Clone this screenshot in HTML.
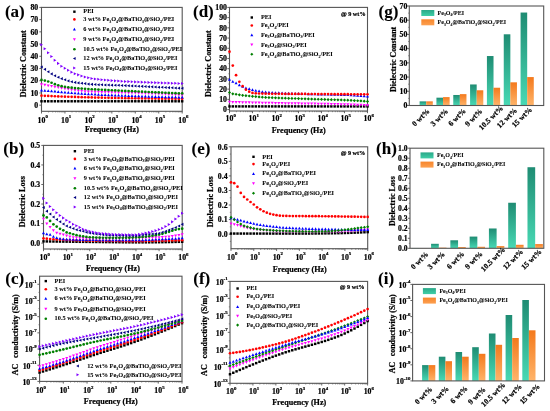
<!DOCTYPE html>
<html><head><meta charset="utf-8"><style>
html,body{margin:0;padding:0;background:#fff;width:550px;height:411px;overflow:hidden}
svg{display:block;will-change:transform}
text{font-family:"Liberation Serif",serif;font-weight:bold;fill:#000;stroke:#000;stroke-width:0.22px;stroke-linejoin:round}
.lg,.bg{stroke-width:0.06px}
.pl{stroke-width:0.1px}
</style></head><body><svg width="550" height="411" viewBox="0 0 550 411" font-family="Liberation Serif" font-weight="bold"><rect width="550" height="411" fill="#ffffff"/><rect x="41.50" y="7.40" width="140.70" height="103.90" fill="none" stroke="#555555" stroke-width="1.1"/>
<line x1="39.30" y1="105.19" x2="41.50" y2="105.19" stroke="#555555" stroke-width="0.9"/>
<text x="38.20" y="107.89" font-size="7.8" text-anchor="end" class="ytl">0</text>
<line x1="39.30" y1="92.96" x2="41.50" y2="92.96" stroke="#555555" stroke-width="0.9"/>
<text x="38.20" y="95.66" font-size="7.8" text-anchor="end" class="ytl">10</text>
<line x1="39.30" y1="80.74" x2="41.50" y2="80.74" stroke="#555555" stroke-width="0.9"/>
<text x="38.20" y="83.44" font-size="7.8" text-anchor="end" class="ytl">20</text>
<line x1="39.30" y1="68.52" x2="41.50" y2="68.52" stroke="#555555" stroke-width="0.9"/>
<text x="38.20" y="71.22" font-size="7.8" text-anchor="end" class="ytl">30</text>
<line x1="39.30" y1="56.29" x2="41.50" y2="56.29" stroke="#555555" stroke-width="0.9"/>
<text x="38.20" y="58.99" font-size="7.8" text-anchor="end" class="ytl">40</text>
<line x1="39.30" y1="44.07" x2="41.50" y2="44.07" stroke="#555555" stroke-width="0.9"/>
<text x="38.20" y="46.77" font-size="7.8" text-anchor="end" class="ytl">50</text>
<line x1="39.30" y1="31.85" x2="41.50" y2="31.85" stroke="#555555" stroke-width="0.9"/>
<text x="38.20" y="34.55" font-size="7.8" text-anchor="end" class="ytl">60</text>
<line x1="39.30" y1="19.62" x2="41.50" y2="19.62" stroke="#555555" stroke-width="0.9"/>
<text x="38.20" y="22.32" font-size="7.8" text-anchor="end" class="ytl">70</text>
<line x1="39.30" y1="7.40" x2="41.50" y2="7.40" stroke="#555555" stroke-width="0.9"/>
<text x="38.20" y="10.10" font-size="7.8" text-anchor="end" class="ytl">80</text>
<line x1="41.50" y1="111.30" x2="41.50" y2="113.50" stroke="#555555" stroke-width="0.9"/>
<text x="37.60" y="122.60" font-size="7.8" text-anchor="start" class="xtl">10<tspan font-size="4.80" dy="-4.29">0</tspan></text>
<line x1="48.56" y1="111.30" x2="48.56" y2="112.50" stroke="#555555" stroke-width="0.6"/>
<line x1="52.69" y1="111.30" x2="52.69" y2="112.50" stroke="#555555" stroke-width="0.6"/>
<line x1="55.62" y1="111.30" x2="55.62" y2="112.50" stroke="#555555" stroke-width="0.6"/>
<line x1="57.89" y1="111.30" x2="57.89" y2="112.50" stroke="#555555" stroke-width="0.6"/>
<line x1="59.75" y1="111.30" x2="59.75" y2="112.50" stroke="#555555" stroke-width="0.6"/>
<line x1="61.32" y1="111.30" x2="61.32" y2="112.50" stroke="#555555" stroke-width="0.6"/>
<line x1="62.68" y1="111.30" x2="62.68" y2="112.50" stroke="#555555" stroke-width="0.6"/>
<line x1="63.88" y1="111.30" x2="63.88" y2="112.50" stroke="#555555" stroke-width="0.6"/>
<line x1="64.95" y1="111.30" x2="64.95" y2="113.50" stroke="#555555" stroke-width="0.9"/>
<text x="61.05" y="122.60" font-size="7.8" text-anchor="start" class="xtl">10<tspan font-size="4.80" dy="-4.29">1</tspan></text>
<line x1="72.01" y1="111.30" x2="72.01" y2="112.50" stroke="#555555" stroke-width="0.6"/>
<line x1="76.14" y1="111.30" x2="76.14" y2="112.50" stroke="#555555" stroke-width="0.6"/>
<line x1="79.07" y1="111.30" x2="79.07" y2="112.50" stroke="#555555" stroke-width="0.6"/>
<line x1="81.34" y1="111.30" x2="81.34" y2="112.50" stroke="#555555" stroke-width="0.6"/>
<line x1="83.20" y1="111.30" x2="83.20" y2="112.50" stroke="#555555" stroke-width="0.6"/>
<line x1="84.77" y1="111.30" x2="84.77" y2="112.50" stroke="#555555" stroke-width="0.6"/>
<line x1="86.13" y1="111.30" x2="86.13" y2="112.50" stroke="#555555" stroke-width="0.6"/>
<line x1="87.33" y1="111.30" x2="87.33" y2="112.50" stroke="#555555" stroke-width="0.6"/>
<line x1="88.40" y1="111.30" x2="88.40" y2="113.50" stroke="#555555" stroke-width="0.9"/>
<text x="84.50" y="122.60" font-size="7.8" text-anchor="start" class="xtl">10<tspan font-size="4.80" dy="-4.29">2</tspan></text>
<line x1="95.46" y1="111.30" x2="95.46" y2="112.50" stroke="#555555" stroke-width="0.6"/>
<line x1="99.59" y1="111.30" x2="99.59" y2="112.50" stroke="#555555" stroke-width="0.6"/>
<line x1="102.52" y1="111.30" x2="102.52" y2="112.50" stroke="#555555" stroke-width="0.6"/>
<line x1="104.79" y1="111.30" x2="104.79" y2="112.50" stroke="#555555" stroke-width="0.6"/>
<line x1="106.65" y1="111.30" x2="106.65" y2="112.50" stroke="#555555" stroke-width="0.6"/>
<line x1="108.22" y1="111.30" x2="108.22" y2="112.50" stroke="#555555" stroke-width="0.6"/>
<line x1="109.58" y1="111.30" x2="109.58" y2="112.50" stroke="#555555" stroke-width="0.6"/>
<line x1="110.78" y1="111.30" x2="110.78" y2="112.50" stroke="#555555" stroke-width="0.6"/>
<line x1="111.85" y1="111.30" x2="111.85" y2="113.50" stroke="#555555" stroke-width="0.9"/>
<text x="107.95" y="122.60" font-size="7.8" text-anchor="start" class="xtl">10<tspan font-size="4.80" dy="-4.29">3</tspan></text>
<line x1="118.91" y1="111.30" x2="118.91" y2="112.50" stroke="#555555" stroke-width="0.6"/>
<line x1="123.04" y1="111.30" x2="123.04" y2="112.50" stroke="#555555" stroke-width="0.6"/>
<line x1="125.97" y1="111.30" x2="125.97" y2="112.50" stroke="#555555" stroke-width="0.6"/>
<line x1="128.24" y1="111.30" x2="128.24" y2="112.50" stroke="#555555" stroke-width="0.6"/>
<line x1="130.10" y1="111.30" x2="130.10" y2="112.50" stroke="#555555" stroke-width="0.6"/>
<line x1="131.67" y1="111.30" x2="131.67" y2="112.50" stroke="#555555" stroke-width="0.6"/>
<line x1="133.03" y1="111.30" x2="133.03" y2="112.50" stroke="#555555" stroke-width="0.6"/>
<line x1="134.23" y1="111.30" x2="134.23" y2="112.50" stroke="#555555" stroke-width="0.6"/>
<line x1="135.30" y1="111.30" x2="135.30" y2="113.50" stroke="#555555" stroke-width="0.9"/>
<text x="131.40" y="122.60" font-size="7.8" text-anchor="start" class="xtl">10<tspan font-size="4.80" dy="-4.29">4</tspan></text>
<line x1="142.36" y1="111.30" x2="142.36" y2="112.50" stroke="#555555" stroke-width="0.6"/>
<line x1="146.49" y1="111.30" x2="146.49" y2="112.50" stroke="#555555" stroke-width="0.6"/>
<line x1="149.42" y1="111.30" x2="149.42" y2="112.50" stroke="#555555" stroke-width="0.6"/>
<line x1="151.69" y1="111.30" x2="151.69" y2="112.50" stroke="#555555" stroke-width="0.6"/>
<line x1="153.55" y1="111.30" x2="153.55" y2="112.50" stroke="#555555" stroke-width="0.6"/>
<line x1="155.12" y1="111.30" x2="155.12" y2="112.50" stroke="#555555" stroke-width="0.6"/>
<line x1="156.48" y1="111.30" x2="156.48" y2="112.50" stroke="#555555" stroke-width="0.6"/>
<line x1="157.68" y1="111.30" x2="157.68" y2="112.50" stroke="#555555" stroke-width="0.6"/>
<line x1="158.75" y1="111.30" x2="158.75" y2="113.50" stroke="#555555" stroke-width="0.9"/>
<text x="154.85" y="122.60" font-size="7.8" text-anchor="start" class="xtl">10<tspan font-size="4.80" dy="-4.29">5</tspan></text>
<line x1="165.81" y1="111.30" x2="165.81" y2="112.50" stroke="#555555" stroke-width="0.6"/>
<line x1="169.94" y1="111.30" x2="169.94" y2="112.50" stroke="#555555" stroke-width="0.6"/>
<line x1="172.87" y1="111.30" x2="172.87" y2="112.50" stroke="#555555" stroke-width="0.6"/>
<line x1="175.14" y1="111.30" x2="175.14" y2="112.50" stroke="#555555" stroke-width="0.6"/>
<line x1="177.00" y1="111.30" x2="177.00" y2="112.50" stroke="#555555" stroke-width="0.6"/>
<line x1="178.57" y1="111.30" x2="178.57" y2="112.50" stroke="#555555" stroke-width="0.6"/>
<line x1="179.93" y1="111.30" x2="179.93" y2="112.50" stroke="#555555" stroke-width="0.6"/>
<line x1="181.13" y1="111.30" x2="181.13" y2="112.50" stroke="#555555" stroke-width="0.6"/>
<line x1="182.20" y1="111.30" x2="182.20" y2="113.50" stroke="#555555" stroke-width="0.9"/>
<text x="178.30" y="122.60" font-size="7.8" text-anchor="start" class="xtl">10<tspan font-size="4.80" dy="-4.29">6</tspan></text>
<text x="25.70" y="63.80" font-size="8.1" text-anchor="middle" transform="rotate(-90 25.70 63.80)" class="yt">Dielectric Constant</text>
<text x="111.90" y="132.40" font-size="8.1" text-anchor="middle" class="xt">Frequency (Hz)</text>
<text x="14.80" y="16.85" font-size="17" text-anchor="middle" class="pl">(a)</text>
<rect x="40.27" y="100.05" width="2.45" height="2.45" fill="#000000"/><rect x="43.62" y="100.05" width="2.45" height="2.45" fill="#000000"/><rect x="46.98" y="100.05" width="2.45" height="2.45" fill="#000000"/><rect x="50.32" y="100.05" width="2.45" height="2.45" fill="#000000"/><rect x="53.67" y="100.05" width="2.45" height="2.45" fill="#000000"/><rect x="57.02" y="100.05" width="2.45" height="2.45" fill="#000000"/><rect x="60.37" y="100.05" width="2.45" height="2.45" fill="#000000"/><rect x="63.73" y="100.05" width="2.45" height="2.45" fill="#000000"/><rect x="67.08" y="100.05" width="2.45" height="2.45" fill="#000000"/><rect x="70.42" y="100.05" width="2.45" height="2.45" fill="#000000"/><rect x="73.78" y="100.05" width="2.45" height="2.45" fill="#000000"/><rect x="77.12" y="100.05" width="2.45" height="2.45" fill="#000000"/><rect x="80.47" y="100.05" width="2.45" height="2.45" fill="#000000"/><rect x="83.82" y="100.05" width="2.45" height="2.45" fill="#000000"/><rect x="87.18" y="100.05" width="2.45" height="2.45" fill="#000000"/><rect x="90.53" y="100.05" width="2.45" height="2.45" fill="#000000"/><rect x="93.88" y="100.05" width="2.45" height="2.45" fill="#000000"/><rect x="97.22" y="100.05" width="2.45" height="2.45" fill="#000000"/><rect x="100.57" y="100.05" width="2.45" height="2.45" fill="#000000"/><rect x="103.92" y="100.05" width="2.45" height="2.45" fill="#000000"/><rect x="107.27" y="100.05" width="2.45" height="2.45" fill="#000000"/><rect x="110.62" y="100.05" width="2.45" height="2.45" fill="#000000"/><rect x="113.97" y="100.05" width="2.45" height="2.45" fill="#000000"/><rect x="117.33" y="100.05" width="2.45" height="2.45" fill="#000000"/><rect x="120.67" y="100.05" width="2.45" height="2.45" fill="#000000"/><rect x="124.02" y="100.05" width="2.45" height="2.45" fill="#000000"/><rect x="127.37" y="100.05" width="2.45" height="2.45" fill="#000000"/><rect x="130.72" y="100.05" width="2.45" height="2.45" fill="#000000"/><rect x="134.08" y="100.05" width="2.45" height="2.45" fill="#000000"/><rect x="137.42" y="100.05" width="2.45" height="2.45" fill="#000000"/><rect x="140.78" y="100.05" width="2.45" height="2.45" fill="#000000"/><rect x="144.12" y="100.05" width="2.45" height="2.45" fill="#000000"/><rect x="147.47" y="100.05" width="2.45" height="2.45" fill="#000000"/><rect x="150.83" y="100.05" width="2.45" height="2.45" fill="#000000"/><rect x="154.17" y="100.05" width="2.45" height="2.45" fill="#000000"/><rect x="157.53" y="100.05" width="2.45" height="2.45" fill="#000000"/><rect x="160.87" y="100.05" width="2.45" height="2.45" fill="#000000"/><rect x="164.22" y="100.05" width="2.45" height="2.45" fill="#000000"/><rect x="167.57" y="100.05" width="2.45" height="2.45" fill="#000000"/><rect x="170.92" y="100.05" width="2.45" height="2.45" fill="#000000"/><rect x="174.27" y="100.05" width="2.45" height="2.45" fill="#000000"/><rect x="177.62" y="100.05" width="2.45" height="2.45" fill="#000000"/><rect x="180.97" y="100.05" width="2.45" height="2.45" fill="#000000"/>
<circle cx="41.50" cy="95.65" r="1.35" fill="#ff0000"/><circle cx="44.85" cy="95.81" r="1.35" fill="#ff0000"/><circle cx="48.20" cy="95.96" r="1.35" fill="#ff0000"/><circle cx="51.55" cy="96.11" r="1.35" fill="#ff0000"/><circle cx="54.90" cy="96.25" r="1.35" fill="#ff0000"/><circle cx="58.25" cy="96.39" r="1.35" fill="#ff0000"/><circle cx="61.60" cy="96.51" r="1.35" fill="#ff0000"/><circle cx="64.95" cy="96.63" r="1.35" fill="#ff0000"/><circle cx="68.30" cy="96.74" r="1.35" fill="#ff0000"/><circle cx="71.65" cy="96.85" r="1.35" fill="#ff0000"/><circle cx="75.00" cy="96.96" r="1.35" fill="#ff0000"/><circle cx="78.35" cy="97.06" r="1.35" fill="#ff0000"/><circle cx="81.70" cy="97.16" r="1.35" fill="#ff0000"/><circle cx="85.05" cy="97.26" r="1.35" fill="#ff0000"/><circle cx="88.40" cy="97.35" r="1.35" fill="#ff0000"/><circle cx="91.75" cy="97.44" r="1.35" fill="#ff0000"/><circle cx="95.10" cy="97.53" r="1.35" fill="#ff0000"/><circle cx="98.45" cy="97.61" r="1.35" fill="#ff0000"/><circle cx="101.80" cy="97.69" r="1.35" fill="#ff0000"/><circle cx="105.15" cy="97.76" r="1.35" fill="#ff0000"/><circle cx="108.50" cy="97.83" r="1.35" fill="#ff0000"/><circle cx="111.85" cy="97.89" r="1.35" fill="#ff0000"/><circle cx="115.20" cy="97.95" r="1.35" fill="#ff0000"/><circle cx="118.55" cy="98.01" r="1.35" fill="#ff0000"/><circle cx="121.90" cy="98.07" r="1.35" fill="#ff0000"/><circle cx="125.25" cy="98.13" r="1.35" fill="#ff0000"/><circle cx="128.60" cy="98.19" r="1.35" fill="#ff0000"/><circle cx="131.95" cy="98.24" r="1.35" fill="#ff0000"/><circle cx="135.30" cy="98.30" r="1.35" fill="#ff0000"/><circle cx="138.65" cy="98.35" r="1.35" fill="#ff0000"/><circle cx="142.00" cy="98.40" r="1.35" fill="#ff0000"/><circle cx="145.35" cy="98.45" r="1.35" fill="#ff0000"/><circle cx="148.70" cy="98.50" r="1.35" fill="#ff0000"/><circle cx="152.05" cy="98.55" r="1.35" fill="#ff0000"/><circle cx="155.40" cy="98.59" r="1.35" fill="#ff0000"/><circle cx="158.75" cy="98.63" r="1.35" fill="#ff0000"/><circle cx="162.10" cy="98.67" r="1.35" fill="#ff0000"/><circle cx="165.45" cy="98.70" r="1.35" fill="#ff0000"/><circle cx="168.80" cy="98.74" r="1.35" fill="#ff0000"/><circle cx="172.15" cy="98.76" r="1.35" fill="#ff0000"/><circle cx="175.50" cy="98.79" r="1.35" fill="#ff0000"/><circle cx="178.85" cy="98.81" r="1.35" fill="#ff0000"/><circle cx="182.20" cy="98.83" r="1.35" fill="#ff0000"/>
<path d="M41.50 88.62L43.03 91.38L39.97 91.38Z" fill="#0000ff"/><path d="M44.85 88.94L46.38 91.70L43.32 91.70Z" fill="#0000ff"/><path d="M48.20 89.25L49.73 92.01L46.67 92.01Z" fill="#0000ff"/><path d="M51.55 89.56L53.08 92.32L50.02 92.32Z" fill="#0000ff"/><path d="M54.90 89.86L56.43 92.61L53.37 92.61Z" fill="#0000ff"/><path d="M58.25 90.15L59.78 92.90L56.72 92.90Z" fill="#0000ff"/><path d="M61.60 90.43L63.13 93.18L60.07 93.18Z" fill="#0000ff"/><path d="M64.95 90.70L66.48 93.46L63.42 93.46Z" fill="#0000ff"/><path d="M68.30 90.97L69.83 93.72L66.77 93.72Z" fill="#0000ff"/><path d="M71.65 91.23L73.18 93.99L70.12 93.99Z" fill="#0000ff"/><path d="M75.00 91.49L76.53 94.25L73.47 94.25Z" fill="#0000ff"/><path d="M78.35 91.74L79.88 94.49L76.82 94.49Z" fill="#0000ff"/><path d="M81.70 91.98L83.23 94.73L80.17 94.73Z" fill="#0000ff"/><path d="M85.05 92.20L86.58 94.96L83.52 94.96Z" fill="#0000ff"/><path d="M88.40 92.41L89.93 95.17L86.87 95.17Z" fill="#0000ff"/><path d="M91.75 92.61L93.28 95.36L90.22 95.36Z" fill="#0000ff"/><path d="M95.10 92.80L96.63 95.55L93.57 95.55Z" fill="#0000ff"/><path d="M98.45 92.98L99.98 95.73L96.92 95.73Z" fill="#0000ff"/><path d="M101.80 93.15L103.33 95.90L100.27 95.90Z" fill="#0000ff"/><path d="M105.15 93.31L106.68 96.06L103.62 96.06Z" fill="#0000ff"/><path d="M108.50 93.45L110.03 96.21L106.97 96.21Z" fill="#0000ff"/><path d="M111.85 93.59L113.38 96.34L110.32 96.34Z" fill="#0000ff"/><path d="M115.20 93.72L116.73 96.48L113.67 96.48Z" fill="#0000ff"/><path d="M118.55 93.85L120.08 96.61L117.02 96.61Z" fill="#0000ff"/><path d="M121.90 93.98L123.43 96.74L120.37 96.74Z" fill="#0000ff"/><path d="M125.25 94.11L126.78 96.86L123.72 96.86Z" fill="#0000ff"/><path d="M128.60 94.23L130.13 96.99L127.07 96.99Z" fill="#0000ff"/><path d="M131.95 94.36L133.48 97.11L130.42 97.11Z" fill="#0000ff"/><path d="M135.30 94.48L136.83 97.23L133.77 97.23Z" fill="#0000ff"/><path d="M138.65 94.59L140.18 97.35L137.12 97.35Z" fill="#0000ff"/><path d="M142.00 94.71L143.53 97.46L140.47 97.46Z" fill="#0000ff"/><path d="M145.35 94.82L146.88 97.57L143.82 97.57Z" fill="#0000ff"/><path d="M148.70 94.92L150.23 97.68L147.17 97.68Z" fill="#0000ff"/><path d="M152.05 95.02L153.58 97.78L150.52 97.78Z" fill="#0000ff"/><path d="M155.40 95.12L156.93 97.88L153.87 97.88Z" fill="#0000ff"/><path d="M158.75 95.22L160.28 97.97L157.22 97.97Z" fill="#0000ff"/><path d="M162.10 95.30L163.63 98.06L160.57 98.06Z" fill="#0000ff"/><path d="M165.45 95.39L166.98 98.14L163.92 98.14Z" fill="#0000ff"/><path d="M168.80 95.46L170.33 98.22L167.27 98.22Z" fill="#0000ff"/><path d="M172.15 95.53L173.68 98.29L170.62 98.29Z" fill="#0000ff"/><path d="M175.50 95.60L177.03 98.36L173.97 98.36Z" fill="#0000ff"/><path d="M178.85 95.66L180.38 98.42L177.32 98.42Z" fill="#0000ff"/><path d="M182.20 95.71L183.73 98.47L180.67 98.47Z" fill="#0000ff"/>
<path d="M41.50 85.94L43.03 83.18L39.97 83.18Z" fill="#ff00ff"/><path d="M44.85 86.58L46.38 83.82L43.32 83.82Z" fill="#ff00ff"/><path d="M48.20 87.21L49.73 84.46L46.67 84.46Z" fill="#ff00ff"/><path d="M51.55 87.83L53.08 85.08L50.02 85.08Z" fill="#ff00ff"/><path d="M54.90 88.45L56.43 85.69L53.37 85.69Z" fill="#ff00ff"/><path d="M58.25 89.07L59.78 86.32L56.72 86.32Z" fill="#ff00ff"/><path d="M61.60 89.67L63.13 86.92L60.07 86.92Z" fill="#ff00ff"/><path d="M64.95 90.22L66.48 87.46L63.42 87.46Z" fill="#ff00ff"/><path d="M68.30 90.73L69.83 87.97L66.77 87.97Z" fill="#ff00ff"/><path d="M71.65 91.24L73.18 88.48L70.12 88.48Z" fill="#ff00ff"/><path d="M75.00 91.73L76.53 88.98L73.47 88.98Z" fill="#ff00ff"/><path d="M78.35 92.19L79.88 89.43L76.82 89.43Z" fill="#ff00ff"/><path d="M81.70 92.59L83.23 89.84L80.17 89.84Z" fill="#ff00ff"/><path d="M85.05 92.92L86.58 90.16L83.52 90.16Z" fill="#ff00ff"/><path d="M88.40 93.15L89.93 90.40L86.87 90.40Z" fill="#ff00ff"/><path d="M91.75 93.31L93.28 90.56L90.22 90.56Z" fill="#ff00ff"/><path d="M95.10 93.44L96.63 90.69L93.57 90.69Z" fill="#ff00ff"/><path d="M98.45 93.55L99.98 90.80L96.92 90.80Z" fill="#ff00ff"/><path d="M101.80 93.65L103.33 90.89L100.27 90.89Z" fill="#ff00ff"/><path d="M105.15 93.74L106.68 90.99L103.62 90.99Z" fill="#ff00ff"/><path d="M108.50 93.84L110.03 91.08L106.97 91.08Z" fill="#ff00ff"/><path d="M111.85 93.94L113.38 91.19L110.32 91.19Z" fill="#ff00ff"/><path d="M115.20 94.04L116.73 91.29L113.67 91.29Z" fill="#ff00ff"/><path d="M118.55 94.14L120.08 91.38L117.02 91.38Z" fill="#ff00ff"/><path d="M121.90 94.23L123.43 91.48L120.37 91.48Z" fill="#ff00ff"/><path d="M125.25 94.33L126.78 91.57L123.72 91.57Z" fill="#ff00ff"/><path d="M128.60 94.42L130.13 91.66L127.07 91.66Z" fill="#ff00ff"/><path d="M131.95 94.51L133.48 91.76L130.42 91.76Z" fill="#ff00ff"/><path d="M135.30 94.61L136.83 91.85L133.77 91.85Z" fill="#ff00ff"/><path d="M138.65 94.71L140.18 91.95L137.12 91.95Z" fill="#ff00ff"/><path d="M142.00 94.81L143.53 92.06L140.47 92.06Z" fill="#ff00ff"/><path d="M145.35 94.93L146.88 92.17L143.82 92.17Z" fill="#ff00ff"/><path d="M148.70 95.05L150.23 92.29L147.17 92.29Z" fill="#ff00ff"/><path d="M152.05 95.17L153.58 92.42L150.52 92.42Z" fill="#ff00ff"/><path d="M155.40 95.31L156.93 92.55L153.87 92.55Z" fill="#ff00ff"/><path d="M158.75 95.45L160.28 92.69L157.22 92.69Z" fill="#ff00ff"/><path d="M162.10 95.59L163.63 92.84L160.57 92.84Z" fill="#ff00ff"/><path d="M165.45 95.74L166.98 92.99L163.92 92.99Z" fill="#ff00ff"/><path d="M168.80 95.90L170.33 93.14L167.27 93.14Z" fill="#ff00ff"/><path d="M172.15 96.06L173.68 93.31L170.62 93.31Z" fill="#ff00ff"/><path d="M175.50 96.23L177.03 93.47L173.97 93.47Z" fill="#ff00ff"/><path d="M178.85 96.40L180.38 93.64L177.32 93.64Z" fill="#ff00ff"/><path d="M182.20 96.57L183.73 93.82L180.67 93.82Z" fill="#ff00ff"/>
<circle cx="41.50" cy="79.89" r="1.35" fill="#008000"/><circle cx="44.85" cy="80.58" r="1.35" fill="#008000"/><circle cx="48.20" cy="81.50" r="1.35" fill="#008000"/><circle cx="51.55" cy="82.77" r="1.35" fill="#008000"/><circle cx="54.90" cy="84.18" r="1.35" fill="#008000"/><circle cx="58.25" cy="85.25" r="1.35" fill="#008000"/><circle cx="61.60" cy="86.18" r="1.35" fill="#008000"/><circle cx="64.95" cy="86.85" r="1.35" fill="#008000"/><circle cx="68.30" cy="87.31" r="1.35" fill="#008000"/><circle cx="71.65" cy="87.70" r="1.35" fill="#008000"/><circle cx="75.00" cy="88.04" r="1.35" fill="#008000"/><circle cx="78.35" cy="88.34" r="1.35" fill="#008000"/><circle cx="81.70" cy="88.59" r="1.35" fill="#008000"/><circle cx="85.05" cy="88.83" r="1.35" fill="#008000"/><circle cx="88.40" cy="89.05" r="1.35" fill="#008000"/><circle cx="91.75" cy="89.26" r="1.35" fill="#008000"/><circle cx="95.10" cy="89.45" r="1.35" fill="#008000"/><circle cx="98.45" cy="89.61" r="1.35" fill="#008000"/><circle cx="101.80" cy="89.77" r="1.35" fill="#008000"/><circle cx="105.15" cy="89.93" r="1.35" fill="#008000"/><circle cx="108.50" cy="90.08" r="1.35" fill="#008000"/><circle cx="111.85" cy="90.24" r="1.35" fill="#008000"/><circle cx="115.20" cy="90.41" r="1.35" fill="#008000"/><circle cx="118.55" cy="90.57" r="1.35" fill="#008000"/><circle cx="121.90" cy="90.73" r="1.35" fill="#008000"/><circle cx="125.25" cy="90.89" r="1.35" fill="#008000"/><circle cx="128.60" cy="91.05" r="1.35" fill="#008000"/><circle cx="131.95" cy="91.21" r="1.35" fill="#008000"/><circle cx="135.30" cy="91.37" r="1.35" fill="#008000"/><circle cx="138.65" cy="91.52" r="1.35" fill="#008000"/><circle cx="142.00" cy="91.68" r="1.35" fill="#008000"/><circle cx="145.35" cy="91.83" r="1.35" fill="#008000"/><circle cx="148.70" cy="91.99" r="1.35" fill="#008000"/><circle cx="152.05" cy="92.14" r="1.35" fill="#008000"/><circle cx="155.40" cy="92.29" r="1.35" fill="#008000"/><circle cx="158.75" cy="92.44" r="1.35" fill="#008000"/><circle cx="162.10" cy="92.59" r="1.35" fill="#008000"/><circle cx="165.45" cy="92.74" r="1.35" fill="#008000"/><circle cx="168.80" cy="92.88" r="1.35" fill="#008000"/><circle cx="172.15" cy="93.03" r="1.35" fill="#008000"/><circle cx="175.50" cy="93.17" r="1.35" fill="#008000"/><circle cx="178.85" cy="93.31" r="1.35" fill="#008000"/><circle cx="182.20" cy="93.45" r="1.35" fill="#008000"/>
<path d="M39.97 66.93L42.73 65.40L42.73 68.46Z" fill="#000080"/><path d="M43.32 69.37L46.08 67.84L46.08 70.90Z" fill="#000080"/><path d="M46.67 71.69L49.43 70.16L49.43 73.22Z" fill="#000080"/><path d="M50.02 73.89L52.77 72.36L52.77 75.42Z" fill="#000080"/><path d="M53.37 75.73L56.12 74.20L56.12 77.27Z" fill="#000080"/><path d="M56.72 77.33L59.48 75.80L59.48 78.87Z" fill="#000080"/><path d="M60.07 78.65L62.82 77.12L62.82 80.19Z" fill="#000080"/><path d="M63.42 79.81L66.17 78.28L66.17 81.34Z" fill="#000080"/><path d="M66.77 80.88L69.52 79.34L69.52 82.41Z" fill="#000080"/><path d="M70.12 81.77L72.87 80.24L72.87 83.30Z" fill="#000080"/><path d="M73.47 82.40L76.22 80.86L76.22 83.93Z" fill="#000080"/><path d="M76.82 82.88L79.57 81.35L79.57 84.42Z" fill="#000080"/><path d="M80.17 83.26L82.92 81.73L82.92 84.79Z" fill="#000080"/><path d="M83.52 83.61L86.27 82.08L86.27 85.14Z" fill="#000080"/><path d="M86.87 84.12L89.62 82.59L89.62 85.65Z" fill="#000080"/><path d="M90.22 84.36L92.97 82.83L92.97 85.89Z" fill="#000080"/><path d="M93.57 84.55L96.32 83.02L96.32 86.08Z" fill="#000080"/><path d="M96.92 84.71L99.67 83.18L99.67 86.24Z" fill="#000080"/><path d="M100.27 84.84L103.02 83.30L103.02 86.37Z" fill="#000080"/><path d="M103.62 84.95L106.37 83.41L106.37 86.48Z" fill="#000080"/><path d="M106.97 85.04L109.72 83.51L109.72 86.57Z" fill="#000080"/><path d="M110.32 85.14L113.07 83.60L113.07 86.67Z" fill="#000080"/><path d="M113.67 85.23L116.42 83.70L116.42 86.76Z" fill="#000080"/><path d="M117.02 85.34L119.77 83.81L119.77 86.87Z" fill="#000080"/><path d="M120.37 85.46L123.12 83.93L123.12 86.99Z" fill="#000080"/><path d="M123.72 85.60L126.47 84.07L126.47 87.13Z" fill="#000080"/><path d="M127.07 85.75L129.82 84.22L129.82 87.28Z" fill="#000080"/><path d="M130.42 85.90L133.17 84.37L133.17 87.43Z" fill="#000080"/><path d="M133.77 86.06L136.53 84.52L136.53 87.59Z" fill="#000080"/><path d="M137.12 86.21L139.87 84.68L139.87 87.74Z" fill="#000080"/><path d="M140.47 86.37L143.22 84.84L143.22 87.90Z" fill="#000080"/><path d="M143.82 86.53L146.57 85.00L146.57 88.06Z" fill="#000080"/><path d="M147.17 86.69L149.92 85.16L149.92 88.22Z" fill="#000080"/><path d="M150.52 86.85L153.28 85.32L153.28 88.38Z" fill="#000080"/><path d="M153.87 87.01L156.62 85.48L156.62 88.54Z" fill="#000080"/><path d="M157.22 87.17L159.97 85.64L159.97 88.70Z" fill="#000080"/><path d="M160.57 87.33L163.32 85.80L163.32 88.86Z" fill="#000080"/><path d="M163.92 87.49L166.67 85.96L166.67 89.02Z" fill="#000080"/><path d="M167.27 87.66L170.02 86.12L170.02 89.19Z" fill="#000080"/><path d="M170.62 87.82L173.37 86.29L173.37 89.35Z" fill="#000080"/><path d="M173.97 87.99L176.72 86.45L176.72 89.52Z" fill="#000080"/><path d="M177.32 88.15L180.07 86.62L180.07 89.68Z" fill="#000080"/><path d="M180.67 88.32L183.42 86.79L183.42 89.85Z" fill="#000080"/>
<path d="M43.03 44.68L40.27 43.15L40.27 46.21Z" fill="#8000ff"/><path d="M46.38 48.83L43.62 47.30L43.62 50.36Z" fill="#8000ff"/><path d="M49.73 52.74L46.98 51.21L46.98 54.27Z" fill="#8000ff"/><path d="M53.08 56.53L50.32 55.00L50.32 58.06Z" fill="#8000ff"/><path d="M56.43 60.22L53.67 58.68L53.67 61.75Z" fill="#8000ff"/><path d="M59.78 63.39L57.02 61.86L57.02 64.92Z" fill="#8000ff"/><path d="M63.13 66.20L60.37 64.67L60.37 67.73Z" fill="#8000ff"/><path d="M66.48 68.26L63.73 66.72L63.73 69.79Z" fill="#8000ff"/><path d="M69.83 70.24L67.08 68.71L67.08 71.77Z" fill="#8000ff"/><path d="M73.18 72.14L70.42 70.60L70.42 73.67Z" fill="#8000ff"/><path d="M76.53 73.70L73.78 72.17L73.78 75.23Z" fill="#8000ff"/><path d="M79.88 74.85L77.12 73.32L77.12 76.38Z" fill="#8000ff"/><path d="M83.23 75.98L80.47 74.44L80.47 77.51Z" fill="#8000ff"/><path d="M86.58 77.05L83.82 75.52L83.82 78.58Z" fill="#8000ff"/><path d="M89.93 77.84L87.18 76.31L87.18 79.37Z" fill="#8000ff"/><path d="M93.28 78.42L90.53 76.89L90.53 79.95Z" fill="#8000ff"/><path d="M96.63 78.91L93.88 77.38L93.88 80.44Z" fill="#8000ff"/><path d="M99.98 79.33L97.22 77.80L97.22 80.87Z" fill="#8000ff"/><path d="M103.33 79.69L100.57 78.16L100.57 81.22Z" fill="#8000ff"/><path d="M106.68 80.02L103.92 78.49L103.92 81.55Z" fill="#8000ff"/><path d="M110.03 80.32L107.27 78.79L107.27 81.85Z" fill="#8000ff"/><path d="M113.38 80.60L110.62 79.07L110.62 82.13Z" fill="#8000ff"/><path d="M116.73 80.85L113.97 79.32L113.97 82.39Z" fill="#8000ff"/><path d="M120.08 81.08L117.33 79.55L117.33 82.61Z" fill="#8000ff"/><path d="M123.43 81.29L120.67 79.75L120.67 82.82Z" fill="#8000ff"/><path d="M126.78 81.46L124.02 79.93L124.02 83.00Z" fill="#8000ff"/><path d="M130.13 81.62L127.37 80.09L127.37 83.15Z" fill="#8000ff"/><path d="M133.48 81.77L130.72 80.24L130.72 83.30Z" fill="#8000ff"/><path d="M136.83 81.90L134.08 80.37L134.08 83.43Z" fill="#8000ff"/><path d="M140.18 82.02L137.42 80.49L137.42 83.56Z" fill="#8000ff"/><path d="M143.53 82.15L140.78 80.61L140.78 83.68Z" fill="#8000ff"/><path d="M146.88 82.27L144.12 80.74L144.12 83.80Z" fill="#8000ff"/><path d="M150.23 82.39L147.47 80.86L147.47 83.92Z" fill="#8000ff"/><path d="M153.58 82.52L150.83 80.99L150.83 84.05Z" fill="#8000ff"/><path d="M156.93 82.64L154.17 81.11L154.17 84.17Z" fill="#8000ff"/><path d="M160.28 82.76L157.53 81.23L157.53 84.29Z" fill="#8000ff"/><path d="M163.63 82.88L160.87 81.35L160.87 84.41Z" fill="#8000ff"/><path d="M166.98 83.00L164.22 81.47L164.22 84.53Z" fill="#8000ff"/><path d="M170.33 83.12L167.57 81.58L167.57 84.65Z" fill="#8000ff"/><path d="M173.68 83.23L170.92 81.70L170.92 84.76Z" fill="#8000ff"/><path d="M177.03 83.34L174.27 81.81L174.27 84.87Z" fill="#8000ff"/><path d="M180.38 83.45L177.62 81.92L177.62 84.98Z" fill="#8000ff"/><path d="M183.73 83.55L180.97 82.02L180.97 85.08Z" fill="#8000ff"/>
<rect x="73.20" y="10.50" width="2.40" height="2.40" fill="#000000"/>
<text x="83.30" y="13.40" font-size="6.3" text-anchor="start" class="lg">PEI</text>
<circle cx="74.40" cy="19.40" r="1.32" fill="#ff0000"/>
<text x="83.30" y="21.10" font-size="6.3" text-anchor="start" class="lg">3 wt% Fe<tspan font-size="4.00" dy="1.76">3</tspan><tspan dy="-1.76">O</tspan><tspan font-size="4.00" dy="1.76">4</tspan><tspan dy="-1.76">@BaTiO</tspan><tspan font-size="4.00" dy="1.76">3</tspan><tspan dy="-1.76">@SiO</tspan><tspan font-size="4.00" dy="1.76">2</tspan><tspan dy="-1.76">/PEI</tspan></text>
<path d="M74.40 27.80L75.90 30.50L72.90 30.50Z" fill="#0000ff"/>
<text x="83.30" y="31.00" font-size="6.3" text-anchor="start" class="lg">6 wt% Fe<tspan font-size="4.00" dy="1.76">3</tspan><tspan dy="-1.76">O</tspan><tspan font-size="4.00" dy="1.76">4</tspan><tspan dy="-1.76">@BaTiO</tspan><tspan font-size="4.00" dy="1.76">3</tspan><tspan dy="-1.76">@SiO</tspan><tspan font-size="4.00" dy="1.76">2</tspan><tspan dy="-1.76">/PEI</tspan></text>
<path d="M74.40 40.90L75.90 38.20L72.90 38.20Z" fill="#ff00ff"/>
<text x="83.30" y="41.10" font-size="6.3" text-anchor="start" class="lg">9 wt% Fe<tspan font-size="4.00" dy="1.76">3</tspan><tspan dy="-1.76">O</tspan><tspan font-size="4.00" dy="1.76">4</tspan><tspan dy="-1.76">@BaTiO</tspan><tspan font-size="4.00" dy="1.76">3</tspan><tspan dy="-1.76">@SiO</tspan><tspan font-size="4.00" dy="1.76">2</tspan><tspan dy="-1.76">/PEI</tspan></text>
<circle cx="74.40" cy="49.20" r="1.32" fill="#008000"/>
<text x="83.30" y="50.90" font-size="6.3" text-anchor="start" class="lg">10.5 wt% Fe<tspan font-size="4.00" dy="1.76">3</tspan><tspan dy="-1.76">O</tspan><tspan font-size="4.00" dy="1.76">4</tspan><tspan dy="-1.76">@BaTiO</tspan><tspan font-size="4.00" dy="1.76">3</tspan><tspan dy="-1.76">@SiO</tspan><tspan font-size="4.00" dy="1.76">2</tspan><tspan dy="-1.76">/PEI</tspan></text>
<path d="M72.90 58.50L75.60 57.00L75.60 60.00Z" fill="#000080"/>
<text x="83.30" y="60.20" font-size="6.3" text-anchor="start" class="lg">12 wt% Fe<tspan font-size="4.00" dy="1.76">3</tspan><tspan dy="-1.76">O</tspan><tspan font-size="4.00" dy="1.76">4</tspan><tspan dy="-1.76">@BaTiO</tspan><tspan font-size="4.00" dy="1.76">3</tspan><tspan dy="-1.76">@SiO</tspan><tspan font-size="4.00" dy="1.76">2</tspan><tspan dy="-1.76">/PEI</tspan></text>
<path d="M75.90 68.00L73.20 66.50L73.20 69.50Z" fill="#8000ff"/>
<text x="83.30" y="69.70" font-size="6.3" text-anchor="start" class="lg">15 wt% Fe<tspan font-size="4.00" dy="1.76">3</tspan><tspan dy="-1.76">O</tspan><tspan font-size="4.00" dy="1.76">4</tspan><tspan dy="-1.76">@BaTiO</tspan><tspan font-size="4.00" dy="1.76">3</tspan><tspan dy="-1.76">@SiO</tspan><tspan font-size="4.00" dy="1.76">2</tspan><tspan dy="-1.76">/PEI</tspan></text>
<rect x="43.50" y="145.40" width="138.70" height="103.60" fill="none" stroke="#555555" stroke-width="1.1"/>
<line x1="41.30" y1="243.14" x2="43.50" y2="243.14" stroke="#555555" stroke-width="0.9"/>
<text x="40.20" y="245.84" font-size="7.8" text-anchor="end" class="ytl">0.0</text>
<line x1="41.30" y1="223.59" x2="43.50" y2="223.59" stroke="#555555" stroke-width="0.9"/>
<text x="40.20" y="226.29" font-size="7.8" text-anchor="end" class="ytl">0.1</text>
<line x1="41.30" y1="204.04" x2="43.50" y2="204.04" stroke="#555555" stroke-width="0.9"/>
<text x="40.20" y="206.74" font-size="7.8" text-anchor="end" class="ytl">0.2</text>
<line x1="41.30" y1="184.49" x2="43.50" y2="184.49" stroke="#555555" stroke-width="0.9"/>
<text x="40.20" y="187.19" font-size="7.8" text-anchor="end" class="ytl">0.3</text>
<line x1="41.30" y1="164.95" x2="43.50" y2="164.95" stroke="#555555" stroke-width="0.9"/>
<text x="40.20" y="167.65" font-size="7.8" text-anchor="end" class="ytl">0.4</text>
<line x1="41.30" y1="145.40" x2="43.50" y2="145.40" stroke="#555555" stroke-width="0.9"/>
<text x="40.20" y="148.10" font-size="7.8" text-anchor="end" class="ytl">0.5</text>
<line x1="42.30" y1="233.36" x2="43.50" y2="233.36" stroke="#555555" stroke-width="0.6"/>
<line x1="42.30" y1="213.82" x2="43.50" y2="213.82" stroke="#555555" stroke-width="0.6"/>
<line x1="42.30" y1="194.27" x2="43.50" y2="194.27" stroke="#555555" stroke-width="0.6"/>
<line x1="42.30" y1="174.72" x2="43.50" y2="174.72" stroke="#555555" stroke-width="0.6"/>
<line x1="42.30" y1="155.17" x2="43.50" y2="155.17" stroke="#555555" stroke-width="0.6"/>
<line x1="43.50" y1="249.00" x2="43.50" y2="251.20" stroke="#555555" stroke-width="0.9"/>
<text x="39.60" y="259.80" font-size="7.8" text-anchor="start" class="xtl">10<tspan font-size="4.80" dy="-4.29">0</tspan></text>
<line x1="50.46" y1="249.00" x2="50.46" y2="250.20" stroke="#555555" stroke-width="0.6"/>
<line x1="54.53" y1="249.00" x2="54.53" y2="250.20" stroke="#555555" stroke-width="0.6"/>
<line x1="57.42" y1="249.00" x2="57.42" y2="250.20" stroke="#555555" stroke-width="0.6"/>
<line x1="59.66" y1="249.00" x2="59.66" y2="250.20" stroke="#555555" stroke-width="0.6"/>
<line x1="61.49" y1="249.00" x2="61.49" y2="250.20" stroke="#555555" stroke-width="0.6"/>
<line x1="63.04" y1="249.00" x2="63.04" y2="250.20" stroke="#555555" stroke-width="0.6"/>
<line x1="64.38" y1="249.00" x2="64.38" y2="250.20" stroke="#555555" stroke-width="0.6"/>
<line x1="65.56" y1="249.00" x2="65.56" y2="250.20" stroke="#555555" stroke-width="0.6"/>
<line x1="66.62" y1="249.00" x2="66.62" y2="251.20" stroke="#555555" stroke-width="0.9"/>
<text x="62.72" y="259.80" font-size="7.8" text-anchor="start" class="xtl">10<tspan font-size="4.80" dy="-4.29">1</tspan></text>
<line x1="73.58" y1="249.00" x2="73.58" y2="250.20" stroke="#555555" stroke-width="0.6"/>
<line x1="77.65" y1="249.00" x2="77.65" y2="250.20" stroke="#555555" stroke-width="0.6"/>
<line x1="80.53" y1="249.00" x2="80.53" y2="250.20" stroke="#555555" stroke-width="0.6"/>
<line x1="82.77" y1="249.00" x2="82.77" y2="250.20" stroke="#555555" stroke-width="0.6"/>
<line x1="84.60" y1="249.00" x2="84.60" y2="250.20" stroke="#555555" stroke-width="0.6"/>
<line x1="86.15" y1="249.00" x2="86.15" y2="250.20" stroke="#555555" stroke-width="0.6"/>
<line x1="87.49" y1="249.00" x2="87.49" y2="250.20" stroke="#555555" stroke-width="0.6"/>
<line x1="88.68" y1="249.00" x2="88.68" y2="250.20" stroke="#555555" stroke-width="0.6"/>
<line x1="89.73" y1="249.00" x2="89.73" y2="251.20" stroke="#555555" stroke-width="0.9"/>
<text x="85.83" y="259.80" font-size="7.8" text-anchor="start" class="xtl">10<tspan font-size="4.80" dy="-4.29">2</tspan></text>
<line x1="96.69" y1="249.00" x2="96.69" y2="250.20" stroke="#555555" stroke-width="0.6"/>
<line x1="100.76" y1="249.00" x2="100.76" y2="250.20" stroke="#555555" stroke-width="0.6"/>
<line x1="103.65" y1="249.00" x2="103.65" y2="250.20" stroke="#555555" stroke-width="0.6"/>
<line x1="105.89" y1="249.00" x2="105.89" y2="250.20" stroke="#555555" stroke-width="0.6"/>
<line x1="107.72" y1="249.00" x2="107.72" y2="250.20" stroke="#555555" stroke-width="0.6"/>
<line x1="109.27" y1="249.00" x2="109.27" y2="250.20" stroke="#555555" stroke-width="0.6"/>
<line x1="110.61" y1="249.00" x2="110.61" y2="250.20" stroke="#555555" stroke-width="0.6"/>
<line x1="111.79" y1="249.00" x2="111.79" y2="250.20" stroke="#555555" stroke-width="0.6"/>
<line x1="112.85" y1="249.00" x2="112.85" y2="251.20" stroke="#555555" stroke-width="0.9"/>
<text x="108.95" y="259.80" font-size="7.8" text-anchor="start" class="xtl">10<tspan font-size="4.80" dy="-4.29">3</tspan></text>
<line x1="119.81" y1="249.00" x2="119.81" y2="250.20" stroke="#555555" stroke-width="0.6"/>
<line x1="123.88" y1="249.00" x2="123.88" y2="250.20" stroke="#555555" stroke-width="0.6"/>
<line x1="126.77" y1="249.00" x2="126.77" y2="250.20" stroke="#555555" stroke-width="0.6"/>
<line x1="129.01" y1="249.00" x2="129.01" y2="250.20" stroke="#555555" stroke-width="0.6"/>
<line x1="130.84" y1="249.00" x2="130.84" y2="250.20" stroke="#555555" stroke-width="0.6"/>
<line x1="132.39" y1="249.00" x2="132.39" y2="250.20" stroke="#555555" stroke-width="0.6"/>
<line x1="133.73" y1="249.00" x2="133.73" y2="250.20" stroke="#555555" stroke-width="0.6"/>
<line x1="134.91" y1="249.00" x2="134.91" y2="250.20" stroke="#555555" stroke-width="0.6"/>
<line x1="135.97" y1="249.00" x2="135.97" y2="251.20" stroke="#555555" stroke-width="0.9"/>
<text x="132.07" y="259.80" font-size="7.8" text-anchor="start" class="xtl">10<tspan font-size="4.80" dy="-4.29">4</tspan></text>
<line x1="142.93" y1="249.00" x2="142.93" y2="250.20" stroke="#555555" stroke-width="0.6"/>
<line x1="147.00" y1="249.00" x2="147.00" y2="250.20" stroke="#555555" stroke-width="0.6"/>
<line x1="149.88" y1="249.00" x2="149.88" y2="250.20" stroke="#555555" stroke-width="0.6"/>
<line x1="152.12" y1="249.00" x2="152.12" y2="250.20" stroke="#555555" stroke-width="0.6"/>
<line x1="153.95" y1="249.00" x2="153.95" y2="250.20" stroke="#555555" stroke-width="0.6"/>
<line x1="155.50" y1="249.00" x2="155.50" y2="250.20" stroke="#555555" stroke-width="0.6"/>
<line x1="156.84" y1="249.00" x2="156.84" y2="250.20" stroke="#555555" stroke-width="0.6"/>
<line x1="158.03" y1="249.00" x2="158.03" y2="250.20" stroke="#555555" stroke-width="0.6"/>
<line x1="159.08" y1="249.00" x2="159.08" y2="251.20" stroke="#555555" stroke-width="0.9"/>
<text x="155.18" y="259.80" font-size="7.8" text-anchor="start" class="xtl">10<tspan font-size="4.80" dy="-4.29">5</tspan></text>
<line x1="166.04" y1="249.00" x2="166.04" y2="250.20" stroke="#555555" stroke-width="0.6"/>
<line x1="170.11" y1="249.00" x2="170.11" y2="250.20" stroke="#555555" stroke-width="0.6"/>
<line x1="173.00" y1="249.00" x2="173.00" y2="250.20" stroke="#555555" stroke-width="0.6"/>
<line x1="175.24" y1="249.00" x2="175.24" y2="250.20" stroke="#555555" stroke-width="0.6"/>
<line x1="177.07" y1="249.00" x2="177.07" y2="250.20" stroke="#555555" stroke-width="0.6"/>
<line x1="178.62" y1="249.00" x2="178.62" y2="250.20" stroke="#555555" stroke-width="0.6"/>
<line x1="179.96" y1="249.00" x2="179.96" y2="250.20" stroke="#555555" stroke-width="0.6"/>
<line x1="181.14" y1="249.00" x2="181.14" y2="250.20" stroke="#555555" stroke-width="0.6"/>
<line x1="182.20" y1="249.00" x2="182.20" y2="251.20" stroke="#555555" stroke-width="0.9"/>
<text x="178.30" y="259.80" font-size="7.8" text-anchor="start" class="xtl">10<tspan font-size="4.80" dy="-4.29">6</tspan></text>
<text x="24.85" y="201.65" font-size="8.1" text-anchor="middle" transform="rotate(-90 24.85 201.65)" class="yt">Dielectric Loss</text>
<text x="112.90" y="270.60" font-size="8.1" text-anchor="middle" class="xt">Frequency (Hz)</text>
<text x="13.70" y="154.05" font-size="17" text-anchor="middle" class="pl">(b)</text>
<rect x="42.27" y="240.15" width="2.45" height="2.45" fill="#000000"/><rect x="45.58" y="240.20" width="2.45" height="2.45" fill="#000000"/><rect x="48.88" y="240.24" width="2.45" height="2.45" fill="#000000"/><rect x="52.18" y="240.28" width="2.45" height="2.45" fill="#000000"/><rect x="55.48" y="240.32" width="2.45" height="2.45" fill="#000000"/><rect x="58.79" y="240.36" width="2.45" height="2.45" fill="#000000"/><rect x="62.09" y="240.40" width="2.45" height="2.45" fill="#000000"/><rect x="65.39" y="240.44" width="2.45" height="2.45" fill="#000000"/><rect x="68.69" y="240.48" width="2.45" height="2.45" fill="#000000"/><rect x="72.00" y="240.52" width="2.45" height="2.45" fill="#000000"/><rect x="75.30" y="240.56" width="2.45" height="2.45" fill="#000000"/><rect x="78.60" y="240.60" width="2.45" height="2.45" fill="#000000"/><rect x="81.90" y="240.63" width="2.45" height="2.45" fill="#000000"/><rect x="85.21" y="240.67" width="2.45" height="2.45" fill="#000000"/><rect x="88.51" y="240.70" width="2.45" height="2.45" fill="#000000"/><rect x="91.81" y="240.74" width="2.45" height="2.45" fill="#000000"/><rect x="95.11" y="240.77" width="2.45" height="2.45" fill="#000000"/><rect x="98.42" y="240.80" width="2.45" height="2.45" fill="#000000"/><rect x="101.72" y="240.84" width="2.45" height="2.45" fill="#000000"/><rect x="105.02" y="240.87" width="2.45" height="2.45" fill="#000000"/><rect x="108.32" y="240.90" width="2.45" height="2.45" fill="#000000"/><rect x="111.62" y="240.93" width="2.45" height="2.45" fill="#000000"/><rect x="114.93" y="240.97" width="2.45" height="2.45" fill="#000000"/><rect x="118.23" y="241.00" width="2.45" height="2.45" fill="#000000"/><rect x="121.53" y="241.04" width="2.45" height="2.45" fill="#000000"/><rect x="124.83" y="241.07" width="2.45" height="2.45" fill="#000000"/><rect x="128.14" y="241.10" width="2.45" height="2.45" fill="#000000"/><rect x="131.44" y="241.12" width="2.45" height="2.45" fill="#000000"/><rect x="134.74" y="241.13" width="2.45" height="2.45" fill="#000000"/><rect x="138.04" y="241.13" width="2.45" height="2.45" fill="#000000"/><rect x="141.35" y="241.12" width="2.45" height="2.45" fill="#000000"/><rect x="144.65" y="241.10" width="2.45" height="2.45" fill="#000000"/><rect x="147.95" y="241.08" width="2.45" height="2.45" fill="#000000"/><rect x="151.25" y="241.06" width="2.45" height="2.45" fill="#000000"/><rect x="154.56" y="241.03" width="2.45" height="2.45" fill="#000000"/><rect x="157.86" y="240.99" width="2.45" height="2.45" fill="#000000"/><rect x="161.16" y="240.95" width="2.45" height="2.45" fill="#000000"/><rect x="164.46" y="240.90" width="2.45" height="2.45" fill="#000000"/><rect x="167.77" y="240.84" width="2.45" height="2.45" fill="#000000"/><rect x="171.07" y="240.78" width="2.45" height="2.45" fill="#000000"/><rect x="174.37" y="240.70" width="2.45" height="2.45" fill="#000000"/><rect x="177.67" y="240.63" width="2.45" height="2.45" fill="#000000"/><rect x="180.97" y="240.54" width="2.45" height="2.45" fill="#000000"/>
<circle cx="43.50" cy="238.44" r="1.35" fill="#ff0000"/><circle cx="46.80" cy="238.72" r="1.35" fill="#ff0000"/><circle cx="50.10" cy="238.99" r="1.35" fill="#ff0000"/><circle cx="53.41" cy="239.25" r="1.35" fill="#ff0000"/><circle cx="56.71" cy="239.48" r="1.35" fill="#ff0000"/><circle cx="60.01" cy="239.70" r="1.35" fill="#ff0000"/><circle cx="63.31" cy="239.87" r="1.35" fill="#ff0000"/><circle cx="66.62" cy="240.01" r="1.35" fill="#ff0000"/><circle cx="69.92" cy="240.12" r="1.35" fill="#ff0000"/><circle cx="73.22" cy="240.22" r="1.35" fill="#ff0000"/><circle cx="76.52" cy="240.31" r="1.35" fill="#ff0000"/><circle cx="79.83" cy="240.40" r="1.35" fill="#ff0000"/><circle cx="83.13" cy="240.48" r="1.35" fill="#ff0000"/><circle cx="86.43" cy="240.56" r="1.35" fill="#ff0000"/><circle cx="89.73" cy="240.63" r="1.35" fill="#ff0000"/><circle cx="93.04" cy="240.69" r="1.35" fill="#ff0000"/><circle cx="96.34" cy="240.75" r="1.35" fill="#ff0000"/><circle cx="99.64" cy="240.81" r="1.35" fill="#ff0000"/><circle cx="102.94" cy="240.86" r="1.35" fill="#ff0000"/><circle cx="106.25" cy="240.90" r="1.35" fill="#ff0000"/><circle cx="109.55" cy="240.95" r="1.35" fill="#ff0000"/><circle cx="112.85" cy="240.99" r="1.35" fill="#ff0000"/><circle cx="116.15" cy="241.02" r="1.35" fill="#ff0000"/><circle cx="119.45" cy="241.06" r="1.35" fill="#ff0000"/><circle cx="122.76" cy="241.10" r="1.35" fill="#ff0000"/><circle cx="126.06" cy="241.13" r="1.35" fill="#ff0000"/><circle cx="129.36" cy="241.16" r="1.35" fill="#ff0000"/><circle cx="132.66" cy="241.17" r="1.35" fill="#ff0000"/><circle cx="135.97" cy="241.18" r="1.35" fill="#ff0000"/><circle cx="139.27" cy="241.17" r="1.35" fill="#ff0000"/><circle cx="142.57" cy="241.13" r="1.35" fill="#ff0000"/><circle cx="145.87" cy="241.08" r="1.35" fill="#ff0000"/><circle cx="149.18" cy="241.01" r="1.35" fill="#ff0000"/><circle cx="152.48" cy="240.94" r="1.35" fill="#ff0000"/><circle cx="155.78" cy="240.86" r="1.35" fill="#ff0000"/><circle cx="159.08" cy="240.79" r="1.35" fill="#ff0000"/><circle cx="162.39" cy="240.72" r="1.35" fill="#ff0000"/><circle cx="165.69" cy="240.65" r="1.35" fill="#ff0000"/><circle cx="168.99" cy="240.57" r="1.35" fill="#ff0000"/><circle cx="172.29" cy="240.48" r="1.35" fill="#ff0000"/><circle cx="175.60" cy="240.39" r="1.35" fill="#ff0000"/><circle cx="178.90" cy="240.30" r="1.35" fill="#ff0000"/><circle cx="182.20" cy="240.20" r="1.35" fill="#ff0000"/>
<path d="M43.50 231.44L45.03 234.20L41.97 234.20Z" fill="#0000ff"/><path d="M46.80 232.43L48.33 235.19L45.27 235.19Z" fill="#0000ff"/><path d="M50.10 233.10L51.64 235.86L48.57 235.86Z" fill="#0000ff"/><path d="M53.41 234.94L54.94 237.70L51.88 237.70Z" fill="#0000ff"/><path d="M56.71 236.28L58.24 239.04L55.18 239.04Z" fill="#0000ff"/><path d="M60.01 236.95L61.54 239.70L58.48 239.70Z" fill="#0000ff"/><path d="M63.31 237.43L64.85 240.18L61.78 240.18Z" fill="#0000ff"/><path d="M66.62 237.70L68.15 240.45L65.09 240.45Z" fill="#0000ff"/><path d="M69.92 237.84L71.45 240.59L68.39 240.59Z" fill="#0000ff"/><path d="M73.22 237.95L74.75 240.71L71.69 240.71Z" fill="#0000ff"/><path d="M76.52 238.05L78.06 240.81L74.99 240.81Z" fill="#0000ff"/><path d="M79.83 238.12L81.36 240.88L78.29 240.88Z" fill="#0000ff"/><path d="M83.13 238.19L84.66 240.94L81.60 240.94Z" fill="#0000ff"/><path d="M86.43 238.24L87.96 240.99L84.90 240.99Z" fill="#0000ff"/><path d="M89.73 238.28L91.26 241.04L88.20 241.04Z" fill="#0000ff"/><path d="M93.04 238.32L94.57 241.08L91.50 241.08Z" fill="#0000ff"/><path d="M96.34 238.36L97.87 241.12L94.81 241.12Z" fill="#0000ff"/><path d="M99.64 238.40L101.17 241.16L98.11 241.16Z" fill="#0000ff"/><path d="M102.94 238.43L104.47 241.19L101.41 241.19Z" fill="#0000ff"/><path d="M106.25 238.46L107.78 241.21L104.71 241.21Z" fill="#0000ff"/><path d="M109.55 238.47L111.08 241.23L108.02 241.23Z" fill="#0000ff"/><path d="M112.85 238.48L114.38 241.23L111.32 241.23Z" fill="#0000ff"/><path d="M116.15 238.48L117.68 241.23L114.62 241.23Z" fill="#0000ff"/><path d="M119.45 238.48L120.99 241.23L117.92 241.23Z" fill="#0000ff"/><path d="M122.76 238.48L124.29 241.23L121.23 241.23Z" fill="#0000ff"/><path d="M126.06 238.48L127.59 241.23L124.53 241.23Z" fill="#0000ff"/><path d="M129.36 238.48L130.89 241.23L127.83 241.23Z" fill="#0000ff"/><path d="M132.66 238.48L134.20 241.23L131.13 241.23Z" fill="#0000ff"/><path d="M135.97 238.48L137.50 241.23L134.44 241.23Z" fill="#0000ff"/><path d="M139.27 238.45L140.80 241.21L137.74 241.21Z" fill="#0000ff"/><path d="M142.57 238.38L144.10 241.13L141.04 241.13Z" fill="#0000ff"/><path d="M145.87 238.27L147.41 241.02L144.34 241.02Z" fill="#0000ff"/><path d="M149.18 238.13L150.71 240.89L147.64 240.89Z" fill="#0000ff"/><path d="M152.48 237.99L154.01 240.74L150.95 240.74Z" fill="#0000ff"/><path d="M155.78 237.84L157.31 240.59L154.25 240.59Z" fill="#0000ff"/><path d="M159.08 237.70L160.61 240.45L157.55 240.45Z" fill="#0000ff"/><path d="M162.39 237.56L163.92 240.31L160.85 240.31Z" fill="#0000ff"/><path d="M165.69 237.41L167.22 240.16L164.16 240.16Z" fill="#0000ff"/><path d="M168.99 237.25L170.52 240.00L167.46 240.00Z" fill="#0000ff"/><path d="M172.29 237.08L173.82 239.83L170.76 239.83Z" fill="#0000ff"/><path d="M175.60 236.90L177.13 239.66L174.06 239.66Z" fill="#0000ff"/><path d="M178.90 236.71L180.43 239.47L177.37 239.47Z" fill="#0000ff"/><path d="M182.20 236.52L183.73 239.28L180.67 239.28Z" fill="#0000ff"/>
<path d="M43.50 220.43L45.03 217.67L41.97 217.67Z" fill="#ff00ff"/><path d="M46.80 225.20L48.33 222.44L45.27 222.44Z" fill="#ff00ff"/><path d="M50.10 228.85L51.64 226.09L48.57 226.09Z" fill="#ff00ff"/><path d="M53.41 231.93L54.94 229.18L51.88 229.18Z" fill="#ff00ff"/><path d="M56.71 234.61L58.24 231.86L55.18 231.86Z" fill="#ff00ff"/><path d="M60.01 235.52L61.54 232.77L58.48 232.77Z" fill="#ff00ff"/><path d="M63.31 236.18L64.85 233.43L61.78 233.43Z" fill="#ff00ff"/><path d="M66.62 237.30L68.15 234.54L65.09 234.54Z" fill="#ff00ff"/><path d="M69.92 238.24L71.45 235.49L68.39 235.49Z" fill="#ff00ff"/><path d="M73.22 238.90L74.75 236.15L71.69 236.15Z" fill="#ff00ff"/><path d="M76.52 239.35L78.06 236.59L74.99 236.59Z" fill="#ff00ff"/><path d="M79.83 239.59L81.36 236.84L78.29 236.84Z" fill="#ff00ff"/><path d="M83.13 239.79L84.66 237.03L81.60 237.03Z" fill="#ff00ff"/><path d="M86.43 239.93L87.96 237.17L84.90 237.17Z" fill="#ff00ff"/><path d="M89.73 239.98L91.26 237.22L88.20 237.22Z" fill="#ff00ff"/><path d="M93.04 239.98L94.57 237.22L91.50 237.22Z" fill="#ff00ff"/><path d="M96.34 239.98L97.87 237.22L94.81 237.22Z" fill="#ff00ff"/><path d="M99.64 239.98L101.17 237.22L98.11 237.22Z" fill="#ff00ff"/><path d="M102.94 239.98L104.47 237.22L101.41 237.22Z" fill="#ff00ff"/><path d="M106.25 239.98L107.78 237.22L104.71 237.22Z" fill="#ff00ff"/><path d="M109.55 239.98L111.08 237.22L108.02 237.22Z" fill="#ff00ff"/><path d="M112.85 239.98L114.38 237.22L111.32 237.22Z" fill="#ff00ff"/><path d="M116.15 239.96L117.68 237.21L114.62 237.21Z" fill="#ff00ff"/><path d="M119.45 239.93L120.99 237.17L117.92 237.17Z" fill="#ff00ff"/><path d="M122.76 239.87L124.29 237.11L121.23 237.11Z" fill="#ff00ff"/><path d="M126.06 239.80L127.59 237.05L124.53 237.05Z" fill="#ff00ff"/><path d="M129.36 239.73L130.89 236.97L127.83 236.97Z" fill="#ff00ff"/><path d="M132.66 239.66L134.20 236.90L131.13 236.90Z" fill="#ff00ff"/><path d="M135.97 239.58L137.50 236.83L134.44 236.83Z" fill="#ff00ff"/><path d="M139.27 239.52L140.80 236.76L137.74 236.76Z" fill="#ff00ff"/><path d="M142.57 239.46L144.10 236.70L141.04 236.70Z" fill="#ff00ff"/><path d="M145.87 239.39L147.41 236.63L144.34 236.63Z" fill="#ff00ff"/><path d="M149.18 239.32L150.71 236.56L147.64 236.56Z" fill="#ff00ff"/><path d="M152.48 239.23L154.01 236.47L150.95 236.47Z" fill="#ff00ff"/><path d="M155.78 239.13L157.31 236.37L154.25 236.37Z" fill="#ff00ff"/><path d="M159.08 239.00L160.61 236.24L157.55 236.24Z" fill="#ff00ff"/><path d="M162.39 238.81L163.92 236.05L160.85 236.05Z" fill="#ff00ff"/><path d="M165.69 238.51L167.22 235.76L164.16 235.76Z" fill="#ff00ff"/><path d="M168.99 238.14L170.52 235.38L167.46 235.38Z" fill="#ff00ff"/><path d="M172.29 237.69L173.82 234.94L170.76 234.94Z" fill="#ff00ff"/><path d="M175.60 237.19L177.13 234.43L174.06 234.43Z" fill="#ff00ff"/><path d="M178.90 236.64L180.43 233.89L177.37 233.89Z" fill="#ff00ff"/><path d="M182.20 236.07L183.73 233.31L180.67 233.31Z" fill="#ff00ff"/>
<circle cx="43.50" cy="215.38" r="1.35" fill="#008000"/><circle cx="46.80" cy="217.38" r="1.35" fill="#008000"/><circle cx="50.10" cy="220.89" r="1.35" fill="#008000"/><circle cx="53.41" cy="224.34" r="1.35" fill="#008000"/><circle cx="56.71" cy="226.58" r="1.35" fill="#008000"/><circle cx="60.01" cy="228.86" r="1.35" fill="#008000"/><circle cx="63.31" cy="230.28" r="1.35" fill="#008000"/><circle cx="66.62" cy="232.38" r="1.35" fill="#008000"/><circle cx="69.92" cy="233.26" r="1.35" fill="#008000"/><circle cx="73.22" cy="234.24" r="1.35" fill="#008000"/><circle cx="76.52" cy="235.20" r="1.35" fill="#008000"/><circle cx="79.83" cy="235.85" r="1.35" fill="#008000"/><circle cx="83.13" cy="236.37" r="1.35" fill="#008000"/><circle cx="86.43" cy="236.89" r="1.35" fill="#008000"/><circle cx="89.73" cy="237.27" r="1.35" fill="#008000"/><circle cx="93.04" cy="237.42" r="1.35" fill="#008000"/><circle cx="96.34" cy="237.55" r="1.35" fill="#008000"/><circle cx="99.64" cy="237.66" r="1.35" fill="#008000"/><circle cx="102.94" cy="237.75" r="1.35" fill="#008000"/><circle cx="106.25" cy="237.81" r="1.35" fill="#008000"/><circle cx="109.55" cy="237.85" r="1.35" fill="#008000"/><circle cx="112.85" cy="237.86" r="1.35" fill="#008000"/><circle cx="116.15" cy="237.85" r="1.35" fill="#008000"/><circle cx="119.45" cy="237.82" r="1.35" fill="#008000"/><circle cx="122.76" cy="237.78" r="1.35" fill="#008000"/><circle cx="126.06" cy="237.72" r="1.35" fill="#008000"/><circle cx="129.36" cy="237.65" r="1.35" fill="#008000"/><circle cx="132.66" cy="237.56" r="1.35" fill="#008000"/><circle cx="135.97" cy="237.47" r="1.35" fill="#008000"/><circle cx="139.27" cy="237.31" r="1.35" fill="#008000"/><circle cx="142.57" cy="237.04" r="1.35" fill="#008000"/><circle cx="145.87" cy="236.68" r="1.35" fill="#008000"/><circle cx="149.18" cy="236.24" r="1.35" fill="#008000"/><circle cx="152.48" cy="235.74" r="1.35" fill="#008000"/><circle cx="155.78" cy="235.19" r="1.35" fill="#008000"/><circle cx="159.08" cy="234.60" r="1.35" fill="#008000"/><circle cx="162.39" cy="233.79" r="1.35" fill="#008000"/><circle cx="165.69" cy="232.80" r="1.35" fill="#008000"/><circle cx="168.99" cy="231.79" r="1.35" fill="#008000"/><circle cx="172.29" cy="230.69" r="1.35" fill="#008000"/><circle cx="175.60" cy="229.77" r="1.35" fill="#008000"/><circle cx="178.90" cy="229.12" r="1.35" fill="#008000"/><circle cx="182.20" cy="228.67" r="1.35" fill="#008000"/>
<path d="M41.97 207.56L44.73 206.03L44.73 209.09Z" fill="#000080"/><path d="M45.27 211.14L48.03 209.61L48.03 212.67Z" fill="#000080"/><path d="M48.57 213.92L51.33 212.39L51.33 215.45Z" fill="#000080"/><path d="M51.88 216.91L54.63 215.38L54.63 218.45Z" fill="#000080"/><path d="M55.18 219.53L57.93 218.00L57.93 221.07Z" fill="#000080"/><path d="M58.48 221.78L61.24 220.25L61.24 223.31Z" fill="#000080"/><path d="M61.78 223.99L64.54 222.46L64.54 225.52Z" fill="#000080"/><path d="M65.09 225.93L67.84 224.40L67.84 227.47Z" fill="#000080"/><path d="M68.39 227.34L71.14 225.81L71.14 228.87Z" fill="#000080"/><path d="M71.69 228.56L74.45 227.02L74.45 230.09Z" fill="#000080"/><path d="M74.99 229.70L77.75 228.17L77.75 231.23Z" fill="#000080"/><path d="M78.29 230.48L81.05 228.95L81.05 232.01Z" fill="#000080"/><path d="M81.60 231.33L84.35 229.80L84.35 232.86Z" fill="#000080"/><path d="M84.90 232.26L87.66 230.72L87.66 233.79Z" fill="#000080"/><path d="M88.20 232.97L90.96 231.44L90.96 234.50Z" fill="#000080"/><path d="M91.50 233.46L94.26 231.93L94.26 235.00Z" fill="#000080"/><path d="M94.81 233.92L97.56 232.39L97.56 235.45Z" fill="#000080"/><path d="M98.11 234.32L100.87 232.79L100.87 235.85Z" fill="#000080"/><path d="M101.41 234.67L104.17 233.14L104.17 236.20Z" fill="#000080"/><path d="M104.71 234.96L107.47 233.43L107.47 236.49Z" fill="#000080"/><path d="M108.02 235.18L110.77 233.65L110.77 236.71Z" fill="#000080"/><path d="M111.32 235.32L114.07 233.79L114.07 236.85Z" fill="#000080"/><path d="M114.62 235.41L117.38 233.88L117.38 236.94Z" fill="#000080"/><path d="M117.92 235.50L120.68 233.97L120.68 237.03Z" fill="#000080"/><path d="M121.23 235.57L123.98 234.04L123.98 237.10Z" fill="#000080"/><path d="M124.53 235.63L127.28 234.10L127.28 237.16Z" fill="#000080"/><path d="M127.83 235.68L130.59 234.15L130.59 237.21Z" fill="#000080"/><path d="M131.13 235.70L133.89 234.17L133.89 237.23Z" fill="#000080"/><path d="M134.44 235.69L137.19 234.16L137.19 237.22Z" fill="#000080"/><path d="M137.74 235.44L140.49 233.91L140.49 236.97Z" fill="#000080"/><path d="M141.04 234.99L143.80 233.46L143.80 236.52Z" fill="#000080"/><path d="M144.34 234.53L147.10 233.00L147.10 236.06Z" fill="#000080"/><path d="M147.64 234.19L150.40 232.66L150.40 235.72Z" fill="#000080"/><path d="M150.95 233.95L153.70 232.42L153.70 235.48Z" fill="#000080"/><path d="M154.25 233.67L157.01 232.14L157.01 235.20Z" fill="#000080"/><path d="M157.55 233.24L160.31 231.71L160.31 234.78Z" fill="#000080"/><path d="M160.85 232.32L163.61 230.79L163.61 233.85Z" fill="#000080"/><path d="M164.16 231.22L166.91 229.69L166.91 232.75Z" fill="#000080"/><path d="M167.46 230.10L170.22 228.57L170.22 231.63Z" fill="#000080"/><path d="M170.76 228.87L173.52 227.34L173.52 230.40Z" fill="#000080"/><path d="M174.06 227.53L176.82 226.00L176.82 229.06Z" fill="#000080"/><path d="M177.37 226.05L180.12 224.52L180.12 227.58Z" fill="#000080"/><path d="M180.67 224.37L183.42 222.84L183.42 225.90Z" fill="#000080"/>
<path d="M45.03 198.37L42.27 196.84L42.27 199.90Z" fill="#8000ff"/><path d="M48.33 202.95L45.58 201.42L45.58 204.48Z" fill="#8000ff"/><path d="M51.64 206.48L48.88 204.95L48.88 208.01Z" fill="#8000ff"/><path d="M54.94 209.66L52.18 208.13L52.18 211.19Z" fill="#8000ff"/><path d="M58.24 212.66L55.48 211.13L55.48 214.20Z" fill="#8000ff"/><path d="M61.54 215.48L58.79 213.95L58.79 217.01Z" fill="#8000ff"/><path d="M64.85 217.90L62.09 216.37L62.09 219.43Z" fill="#8000ff"/><path d="M68.15 220.32L65.39 218.79L65.39 221.85Z" fill="#8000ff"/><path d="M71.45 222.00L68.69 220.47L68.69 223.53Z" fill="#8000ff"/><path d="M74.75 224.18L72.00 222.65L72.00 225.71Z" fill="#8000ff"/><path d="M78.06 225.81L75.30 224.28L75.30 227.34Z" fill="#8000ff"/><path d="M81.36 227.40L78.60 225.87L78.60 228.93Z" fill="#8000ff"/><path d="M84.66 229.20L81.90 227.67L81.90 230.73Z" fill="#8000ff"/><path d="M87.96 230.27L85.21 228.74L85.21 231.80Z" fill="#8000ff"/><path d="M91.26 231.35L88.51 229.82L88.51 232.88Z" fill="#8000ff"/><path d="M94.57 232.09L91.81 230.56L91.81 233.62Z" fill="#8000ff"/><path d="M97.87 232.70L95.11 231.16L95.11 234.23Z" fill="#8000ff"/><path d="M101.17 233.17L98.42 231.64L98.42 234.70Z" fill="#8000ff"/><path d="M104.47 233.53L101.72 232.00L101.72 235.06Z" fill="#8000ff"/><path d="M107.78 233.85L105.02 232.32L105.02 235.38Z" fill="#8000ff"/><path d="M111.08 234.13L108.32 232.60L108.32 235.66Z" fill="#8000ff"/><path d="M114.38 234.36L111.62 232.82L111.62 235.89Z" fill="#8000ff"/><path d="M117.68 234.50L114.93 232.97L114.93 236.03Z" fill="#8000ff"/><path d="M120.99 234.57L118.23 233.04L118.23 236.10Z" fill="#8000ff"/><path d="M124.29 234.63L121.53 233.10L121.53 236.16Z" fill="#8000ff"/><path d="M127.59 234.67L124.83 233.14L124.83 236.20Z" fill="#8000ff"/><path d="M130.89 234.71L128.14 233.18L128.14 236.24Z" fill="#8000ff"/><path d="M134.20 234.73L131.44 233.19L131.44 236.26Z" fill="#8000ff"/><path d="M137.50 234.71L134.74 233.18L134.74 236.24Z" fill="#8000ff"/><path d="M140.80 234.36L138.04 232.82L138.04 235.89Z" fill="#8000ff"/><path d="M144.10 233.74L141.35 232.21L141.35 235.27Z" fill="#8000ff"/><path d="M147.41 233.09L144.65 231.55L144.65 234.62Z" fill="#8000ff"/><path d="M150.71 232.39L147.95 230.85L147.95 233.92Z" fill="#8000ff"/><path d="M154.01 231.56L151.25 230.03L151.25 233.10Z" fill="#8000ff"/><path d="M157.31 230.64L154.56 229.11L154.56 232.17Z" fill="#8000ff"/><path d="M160.61 229.56L157.86 228.03L157.86 231.09Z" fill="#8000ff"/><path d="M163.92 228.24L161.16 226.71L161.16 229.78Z" fill="#8000ff"/><path d="M167.22 226.57L164.46 225.04L164.46 228.10Z" fill="#8000ff"/><path d="M170.52 224.51L167.77 222.98L167.77 226.04Z" fill="#8000ff"/><path d="M173.82 221.86L171.07 220.33L171.07 223.40Z" fill="#8000ff"/><path d="M177.13 219.01L174.37 217.48L174.37 220.54Z" fill="#8000ff"/><path d="M180.43 216.16L177.67 214.63L177.67 217.69Z" fill="#8000ff"/><path d="M183.73 213.23L180.97 211.70L180.97 214.76Z" fill="#8000ff"/>
<rect x="73.70" y="150.00" width="2.40" height="2.40" fill="#000000"/>
<text x="83.80" y="152.90" font-size="6.3" text-anchor="start" class="lg">PEI</text>
<circle cx="74.90" cy="158.90" r="1.32" fill="#ff0000"/>
<text x="83.80" y="160.60" font-size="6.3" text-anchor="start" class="lg">3 wt% Fe<tspan font-size="4.00" dy="1.76">3</tspan><tspan dy="-1.76">O</tspan><tspan font-size="4.00" dy="1.76">4</tspan><tspan dy="-1.76">@BaTiO</tspan><tspan font-size="4.00" dy="1.76">3</tspan><tspan dy="-1.76">@SiO</tspan><tspan font-size="4.00" dy="1.76">2</tspan><tspan dy="-1.76">/PEI</tspan></text>
<path d="M74.90 166.80L76.40 169.50L73.40 169.50Z" fill="#0000ff"/>
<text x="83.80" y="170.00" font-size="6.3" text-anchor="start" class="lg">6 wt% Fe<tspan font-size="4.00" dy="1.76">3</tspan><tspan dy="-1.76">O</tspan><tspan font-size="4.00" dy="1.76">4</tspan><tspan dy="-1.76">@BaTiO</tspan><tspan font-size="4.00" dy="1.76">3</tspan><tspan dy="-1.76">@SiO</tspan><tspan font-size="4.00" dy="1.76">2</tspan><tspan dy="-1.76">/PEI</tspan></text>
<path d="M74.90 179.90L76.40 177.20L73.40 177.20Z" fill="#ff00ff"/>
<text x="83.80" y="180.10" font-size="6.3" text-anchor="start" class="lg">9 wt% Fe<tspan font-size="4.00" dy="1.76">3</tspan><tspan dy="-1.76">O</tspan><tspan font-size="4.00" dy="1.76">4</tspan><tspan dy="-1.76">@BaTiO</tspan><tspan font-size="4.00" dy="1.76">3</tspan><tspan dy="-1.76">@SiO</tspan><tspan font-size="4.00" dy="1.76">2</tspan><tspan dy="-1.76">/PEI</tspan></text>
<circle cx="74.90" cy="188.20" r="1.32" fill="#008000"/>
<text x="83.80" y="189.90" font-size="6.3" text-anchor="start" class="lg">10.5 wt% Fe<tspan font-size="4.00" dy="1.76">3</tspan><tspan dy="-1.76">O</tspan><tspan font-size="4.00" dy="1.76">4</tspan><tspan dy="-1.76">@BaTiO</tspan><tspan font-size="4.00" dy="1.76">3</tspan><tspan dy="-1.76">@SiO</tspan><tspan font-size="4.00" dy="1.76">2</tspan><tspan dy="-1.76">/PEI</tspan></text>
<path d="M73.40 197.50L76.10 196.00L76.10 199.00Z" fill="#000080"/>
<text x="83.80" y="199.20" font-size="6.3" text-anchor="start" class="lg">12 wt% Fe<tspan font-size="4.00" dy="1.76">3</tspan><tspan dy="-1.76">O</tspan><tspan font-size="4.00" dy="1.76">4</tspan><tspan dy="-1.76">@BaTiO</tspan><tspan font-size="4.00" dy="1.76">3</tspan><tspan dy="-1.76">@SiO</tspan><tspan font-size="4.00" dy="1.76">2</tspan><tspan dy="-1.76">/PEI</tspan></text>
<path d="M76.40 207.00L73.70 205.50L73.70 208.50Z" fill="#8000ff"/>
<text x="83.80" y="208.70" font-size="6.3" text-anchor="start" class="lg">15 wt% Fe<tspan font-size="4.00" dy="1.76">3</tspan><tspan dy="-1.76">O</tspan><tspan font-size="4.00" dy="1.76">4</tspan><tspan dy="-1.76">@BaTiO</tspan><tspan font-size="4.00" dy="1.76">3</tspan><tspan dy="-1.76">@SiO</tspan><tspan font-size="4.00" dy="1.76">2</tspan><tspan dy="-1.76">/PEI</tspan></text>
<rect x="39.60" y="276.20" width="142.40" height="105.20" fill="none" stroke="#555555" stroke-width="1.1"/>
<line x1="37.40" y1="284.29" x2="39.60" y2="284.29" stroke="#555555" stroke-width="0.9"/>
<text x="36.60" y="287.59" font-size="7.8" text-anchor="end" class="ytg">10<tspan font-size="4.80" dy="-4.29">-1</tspan></text>
<line x1="37.40" y1="300.48" x2="39.60" y2="300.48" stroke="#555555" stroke-width="0.9"/>
<text x="36.60" y="303.78" font-size="7.8" text-anchor="end" class="ytg">10<tspan font-size="4.80" dy="-4.29">-3</tspan></text>
<line x1="37.40" y1="316.66" x2="39.60" y2="316.66" stroke="#555555" stroke-width="0.9"/>
<text x="36.60" y="319.96" font-size="7.8" text-anchor="end" class="ytg">10<tspan font-size="4.80" dy="-4.29">-5</tspan></text>
<line x1="37.40" y1="332.85" x2="39.60" y2="332.85" stroke="#555555" stroke-width="0.9"/>
<text x="36.60" y="336.15" font-size="7.8" text-anchor="end" class="ytg">10<tspan font-size="4.80" dy="-4.29">-7</tspan></text>
<line x1="37.40" y1="349.03" x2="39.60" y2="349.03" stroke="#555555" stroke-width="0.9"/>
<text x="36.60" y="352.33" font-size="7.8" text-anchor="end" class="ytg">10<tspan font-size="4.80" dy="-4.29">-9</tspan></text>
<line x1="37.40" y1="365.22" x2="39.60" y2="365.22" stroke="#555555" stroke-width="0.9"/>
<text x="36.60" y="368.52" font-size="7.8" text-anchor="end" class="ytg">10<tspan font-size="4.80" dy="-4.29">-11</tspan></text>
<line x1="37.40" y1="381.40" x2="39.60" y2="381.40" stroke="#555555" stroke-width="0.9"/>
<text x="36.60" y="384.70" font-size="7.8" text-anchor="end" class="ytg">10<tspan font-size="4.80" dy="-4.29">-13</tspan></text>
<line x1="38.40" y1="292.38" x2="39.60" y2="292.38" stroke="#555555" stroke-width="0.6"/>
<line x1="38.40" y1="308.57" x2="39.60" y2="308.57" stroke="#555555" stroke-width="0.6"/>
<line x1="38.40" y1="324.75" x2="39.60" y2="324.75" stroke="#555555" stroke-width="0.6"/>
<line x1="38.40" y1="340.94" x2="39.60" y2="340.94" stroke="#555555" stroke-width="0.6"/>
<line x1="38.40" y1="357.12" x2="39.60" y2="357.12" stroke="#555555" stroke-width="0.6"/>
<line x1="38.40" y1="373.31" x2="39.60" y2="373.31" stroke="#555555" stroke-width="0.6"/>
<line x1="39.60" y1="381.40" x2="39.60" y2="383.60" stroke="#555555" stroke-width="0.9"/>
<text x="35.70" y="393.20" font-size="7.8" text-anchor="start" class="xtl">10<tspan font-size="4.80" dy="-4.29">0</tspan></text>
<line x1="46.74" y1="381.40" x2="46.74" y2="382.60" stroke="#555555" stroke-width="0.6"/>
<line x1="50.92" y1="381.40" x2="50.92" y2="382.60" stroke="#555555" stroke-width="0.6"/>
<line x1="53.89" y1="381.40" x2="53.89" y2="382.60" stroke="#555555" stroke-width="0.6"/>
<line x1="56.19" y1="381.40" x2="56.19" y2="382.60" stroke="#555555" stroke-width="0.6"/>
<line x1="58.07" y1="381.40" x2="58.07" y2="382.60" stroke="#555555" stroke-width="0.6"/>
<line x1="59.66" y1="381.40" x2="59.66" y2="382.60" stroke="#555555" stroke-width="0.6"/>
<line x1="61.03" y1="381.40" x2="61.03" y2="382.60" stroke="#555555" stroke-width="0.6"/>
<line x1="62.25" y1="381.40" x2="62.25" y2="382.60" stroke="#555555" stroke-width="0.6"/>
<line x1="63.33" y1="381.40" x2="63.33" y2="383.60" stroke="#555555" stroke-width="0.9"/>
<text x="59.43" y="393.20" font-size="7.8" text-anchor="start" class="xtl">10<tspan font-size="4.80" dy="-4.29">1</tspan></text>
<line x1="70.48" y1="381.40" x2="70.48" y2="382.60" stroke="#555555" stroke-width="0.6"/>
<line x1="74.66" y1="381.40" x2="74.66" y2="382.60" stroke="#555555" stroke-width="0.6"/>
<line x1="77.62" y1="381.40" x2="77.62" y2="382.60" stroke="#555555" stroke-width="0.6"/>
<line x1="79.92" y1="381.40" x2="79.92" y2="382.60" stroke="#555555" stroke-width="0.6"/>
<line x1="81.80" y1="381.40" x2="81.80" y2="382.60" stroke="#555555" stroke-width="0.6"/>
<line x1="83.39" y1="381.40" x2="83.39" y2="382.60" stroke="#555555" stroke-width="0.6"/>
<line x1="84.77" y1="381.40" x2="84.77" y2="382.60" stroke="#555555" stroke-width="0.6"/>
<line x1="85.98" y1="381.40" x2="85.98" y2="382.60" stroke="#555555" stroke-width="0.6"/>
<line x1="87.07" y1="381.40" x2="87.07" y2="383.60" stroke="#555555" stroke-width="0.9"/>
<text x="83.17" y="393.20" font-size="7.8" text-anchor="start" class="xtl">10<tspan font-size="4.80" dy="-4.29">2</tspan></text>
<line x1="94.21" y1="381.40" x2="94.21" y2="382.60" stroke="#555555" stroke-width="0.6"/>
<line x1="98.39" y1="381.40" x2="98.39" y2="382.60" stroke="#555555" stroke-width="0.6"/>
<line x1="101.36" y1="381.40" x2="101.36" y2="382.60" stroke="#555555" stroke-width="0.6"/>
<line x1="103.66" y1="381.40" x2="103.66" y2="382.60" stroke="#555555" stroke-width="0.6"/>
<line x1="105.53" y1="381.40" x2="105.53" y2="382.60" stroke="#555555" stroke-width="0.6"/>
<line x1="107.12" y1="381.40" x2="107.12" y2="382.60" stroke="#555555" stroke-width="0.6"/>
<line x1="108.50" y1="381.40" x2="108.50" y2="382.60" stroke="#555555" stroke-width="0.6"/>
<line x1="109.71" y1="381.40" x2="109.71" y2="382.60" stroke="#555555" stroke-width="0.6"/>
<line x1="110.80" y1="381.40" x2="110.80" y2="383.60" stroke="#555555" stroke-width="0.9"/>
<text x="106.90" y="393.20" font-size="7.8" text-anchor="start" class="xtl">10<tspan font-size="4.80" dy="-4.29">3</tspan></text>
<line x1="117.94" y1="381.40" x2="117.94" y2="382.60" stroke="#555555" stroke-width="0.6"/>
<line x1="122.12" y1="381.40" x2="122.12" y2="382.60" stroke="#555555" stroke-width="0.6"/>
<line x1="125.09" y1="381.40" x2="125.09" y2="382.60" stroke="#555555" stroke-width="0.6"/>
<line x1="127.39" y1="381.40" x2="127.39" y2="382.60" stroke="#555555" stroke-width="0.6"/>
<line x1="129.27" y1="381.40" x2="129.27" y2="382.60" stroke="#555555" stroke-width="0.6"/>
<line x1="130.86" y1="381.40" x2="130.86" y2="382.60" stroke="#555555" stroke-width="0.6"/>
<line x1="132.23" y1="381.40" x2="132.23" y2="382.60" stroke="#555555" stroke-width="0.6"/>
<line x1="133.45" y1="381.40" x2="133.45" y2="382.60" stroke="#555555" stroke-width="0.6"/>
<line x1="134.53" y1="381.40" x2="134.53" y2="383.60" stroke="#555555" stroke-width="0.9"/>
<text x="130.63" y="393.20" font-size="7.8" text-anchor="start" class="xtl">10<tspan font-size="4.80" dy="-4.29">4</tspan></text>
<line x1="141.68" y1="381.40" x2="141.68" y2="382.60" stroke="#555555" stroke-width="0.6"/>
<line x1="145.86" y1="381.40" x2="145.86" y2="382.60" stroke="#555555" stroke-width="0.6"/>
<line x1="148.82" y1="381.40" x2="148.82" y2="382.60" stroke="#555555" stroke-width="0.6"/>
<line x1="151.12" y1="381.40" x2="151.12" y2="382.60" stroke="#555555" stroke-width="0.6"/>
<line x1="153.00" y1="381.40" x2="153.00" y2="382.60" stroke="#555555" stroke-width="0.6"/>
<line x1="154.59" y1="381.40" x2="154.59" y2="382.60" stroke="#555555" stroke-width="0.6"/>
<line x1="155.97" y1="381.40" x2="155.97" y2="382.60" stroke="#555555" stroke-width="0.6"/>
<line x1="157.18" y1="381.40" x2="157.18" y2="382.60" stroke="#555555" stroke-width="0.6"/>
<line x1="158.27" y1="381.40" x2="158.27" y2="383.60" stroke="#555555" stroke-width="0.9"/>
<text x="154.37" y="393.20" font-size="7.8" text-anchor="start" class="xtl">10<tspan font-size="4.80" dy="-4.29">5</tspan></text>
<line x1="165.41" y1="381.40" x2="165.41" y2="382.60" stroke="#555555" stroke-width="0.6"/>
<line x1="169.59" y1="381.40" x2="169.59" y2="382.60" stroke="#555555" stroke-width="0.6"/>
<line x1="172.56" y1="381.40" x2="172.56" y2="382.60" stroke="#555555" stroke-width="0.6"/>
<line x1="174.86" y1="381.40" x2="174.86" y2="382.60" stroke="#555555" stroke-width="0.6"/>
<line x1="176.73" y1="381.40" x2="176.73" y2="382.60" stroke="#555555" stroke-width="0.6"/>
<line x1="178.32" y1="381.40" x2="178.32" y2="382.60" stroke="#555555" stroke-width="0.6"/>
<line x1="179.70" y1="381.40" x2="179.70" y2="382.60" stroke="#555555" stroke-width="0.6"/>
<line x1="180.91" y1="381.40" x2="180.91" y2="382.60" stroke="#555555" stroke-width="0.6"/>
<line x1="182.00" y1="381.40" x2="182.00" y2="383.60" stroke="#555555" stroke-width="0.9"/>
<text x="178.10" y="393.20" font-size="7.8" text-anchor="start" class="xtl">10<tspan font-size="4.80" dy="-4.29">6</tspan></text>
<text x="18.25" y="334.85" font-size="8.1" text-anchor="middle" transform="rotate(-90 18.25 334.85)" class="yt">AC<tspan dx="5.67">conductivity (S/m)</tspan></text>
<text x="110.80" y="404.20" font-size="8.1" text-anchor="middle" class="xt">Frequency (Hz)</text>
<text x="14.80" y="284.05" font-size="17" text-anchor="middle" class="pl">(c)</text>
<rect x="38.38" y="371.27" width="2.45" height="2.45" fill="#000000"/><rect x="41.77" y="370.24" width="2.45" height="2.45" fill="#000000"/><rect x="45.16" y="369.20" width="2.45" height="2.45" fill="#000000"/><rect x="48.55" y="368.16" width="2.45" height="2.45" fill="#000000"/><rect x="51.94" y="367.10" width="2.45" height="2.45" fill="#000000"/><rect x="55.33" y="366.04" width="2.45" height="2.45" fill="#000000"/><rect x="58.72" y="364.97" width="2.45" height="2.45" fill="#000000"/><rect x="62.11" y="363.89" width="2.45" height="2.45" fill="#000000"/><rect x="65.50" y="362.81" width="2.45" height="2.45" fill="#000000"/><rect x="68.89" y="361.71" width="2.45" height="2.45" fill="#000000"/><rect x="72.28" y="360.60" width="2.45" height="2.45" fill="#000000"/><rect x="75.67" y="359.48" width="2.45" height="2.45" fill="#000000"/><rect x="79.06" y="358.34" width="2.45" height="2.45" fill="#000000"/><rect x="82.45" y="357.21" width="2.45" height="2.45" fill="#000000"/><rect x="85.84" y="356.07" width="2.45" height="2.45" fill="#000000"/><rect x="89.23" y="354.94" width="2.45" height="2.45" fill="#000000"/><rect x="92.62" y="353.82" width="2.45" height="2.45" fill="#000000"/><rect x="96.01" y="352.71" width="2.45" height="2.45" fill="#000000"/><rect x="99.40" y="351.62" width="2.45" height="2.45" fill="#000000"/><rect x="102.79" y="350.55" width="2.45" height="2.45" fill="#000000"/><rect x="106.18" y="349.49" width="2.45" height="2.45" fill="#000000"/><rect x="109.58" y="348.43" width="2.45" height="2.45" fill="#000000"/><rect x="112.97" y="347.37" width="2.45" height="2.45" fill="#000000"/><rect x="116.36" y="346.31" width="2.45" height="2.45" fill="#000000"/><rect x="119.75" y="345.23" width="2.45" height="2.45" fill="#000000"/><rect x="123.14" y="344.13" width="2.45" height="2.45" fill="#000000"/><rect x="126.53" y="343.02" width="2.45" height="2.45" fill="#000000"/><rect x="129.92" y="341.87" width="2.45" height="2.45" fill="#000000"/><rect x="133.31" y="340.69" width="2.45" height="2.45" fill="#000000"/><rect x="136.70" y="339.48" width="2.45" height="2.45" fill="#000000"/><rect x="140.09" y="338.25" width="2.45" height="2.45" fill="#000000"/><rect x="143.48" y="337.00" width="2.45" height="2.45" fill="#000000"/><rect x="146.87" y="335.72" width="2.45" height="2.45" fill="#000000"/><rect x="150.26" y="334.43" width="2.45" height="2.45" fill="#000000"/><rect x="153.65" y="333.12" width="2.45" height="2.45" fill="#000000"/><rect x="157.04" y="331.79" width="2.45" height="2.45" fill="#000000"/><rect x="160.43" y="330.43" width="2.45" height="2.45" fill="#000000"/><rect x="163.82" y="329.06" width="2.45" height="2.45" fill="#000000"/><rect x="167.21" y="327.67" width="2.45" height="2.45" fill="#000000"/><rect x="170.60" y="326.26" width="2.45" height="2.45" fill="#000000"/><rect x="173.99" y="324.83" width="2.45" height="2.45" fill="#000000"/><rect x="177.38" y="323.38" width="2.45" height="2.45" fill="#000000"/><rect x="180.78" y="321.91" width="2.45" height="2.45" fill="#000000"/>
<circle cx="39.60" cy="370.39" r="1.35" fill="#ff0000"/><circle cx="42.99" cy="369.38" r="1.35" fill="#ff0000"/><circle cx="46.38" cy="368.35" r="1.35" fill="#ff0000"/><circle cx="49.77" cy="367.32" r="1.35" fill="#ff0000"/><circle cx="53.16" cy="366.27" r="1.35" fill="#ff0000"/><circle cx="56.55" cy="365.22" r="1.35" fill="#ff0000"/><circle cx="59.94" cy="364.16" r="1.35" fill="#ff0000"/><circle cx="63.33" cy="363.09" r="1.35" fill="#ff0000"/><circle cx="66.72" cy="362.01" r="1.35" fill="#ff0000"/><circle cx="70.11" cy="360.92" r="1.35" fill="#ff0000"/><circle cx="73.50" cy="359.81" r="1.35" fill="#ff0000"/><circle cx="76.90" cy="358.68" r="1.35" fill="#ff0000"/><circle cx="80.29" cy="357.55" r="1.35" fill="#ff0000"/><circle cx="83.68" cy="356.41" r="1.35" fill="#ff0000"/><circle cx="87.07" cy="355.27" r="1.35" fill="#ff0000"/><circle cx="90.46" cy="354.14" r="1.35" fill="#ff0000"/><circle cx="93.85" cy="353.02" r="1.35" fill="#ff0000"/><circle cx="97.24" cy="351.91" r="1.35" fill="#ff0000"/><circle cx="100.63" cy="350.83" r="1.35" fill="#ff0000"/><circle cx="104.02" cy="349.75" r="1.35" fill="#ff0000"/><circle cx="107.41" cy="348.69" r="1.35" fill="#ff0000"/><circle cx="110.80" cy="347.63" r="1.35" fill="#ff0000"/><circle cx="114.19" cy="346.56" r="1.35" fill="#ff0000"/><circle cx="117.58" cy="345.50" r="1.35" fill="#ff0000"/><circle cx="120.97" cy="344.43" r="1.35" fill="#ff0000"/><circle cx="124.36" cy="343.34" r="1.35" fill="#ff0000"/><circle cx="127.75" cy="342.24" r="1.35" fill="#ff0000"/><circle cx="131.14" cy="341.12" r="1.35" fill="#ff0000"/><circle cx="134.53" cy="339.97" r="1.35" fill="#ff0000"/><circle cx="137.92" cy="338.80" r="1.35" fill="#ff0000"/><circle cx="141.31" cy="337.61" r="1.35" fill="#ff0000"/><circle cx="144.70" cy="336.41" r="1.35" fill="#ff0000"/><circle cx="148.10" cy="335.20" r="1.35" fill="#ff0000"/><circle cx="151.49" cy="333.98" r="1.35" fill="#ff0000"/><circle cx="154.88" cy="332.74" r="1.35" fill="#ff0000"/><circle cx="158.27" cy="331.48" r="1.35" fill="#ff0000"/><circle cx="161.66" cy="330.21" r="1.35" fill="#ff0000"/><circle cx="165.05" cy="328.93" r="1.35" fill="#ff0000"/><circle cx="168.44" cy="327.64" r="1.35" fill="#ff0000"/><circle cx="171.83" cy="326.33" r="1.35" fill="#ff0000"/><circle cx="175.22" cy="325.01" r="1.35" fill="#ff0000"/><circle cx="178.61" cy="323.67" r="1.35" fill="#ff0000"/><circle cx="182.00" cy="322.33" r="1.35" fill="#ff0000"/>
<path d="M39.60 367.08L41.13 369.84L38.07 369.84Z" fill="#0000ff"/><path d="M42.99 366.12L44.52 368.87L41.46 368.87Z" fill="#0000ff"/><path d="M46.38 365.13L47.91 367.89L44.85 367.89Z" fill="#0000ff"/><path d="M49.77 364.13L51.30 366.89L48.24 366.89Z" fill="#0000ff"/><path d="M53.16 363.11L54.69 365.87L51.63 365.87Z" fill="#0000ff"/><path d="M56.55 362.07L58.08 364.83L55.02 364.83Z" fill="#0000ff"/><path d="M59.94 361.02L61.47 363.78L58.41 363.78Z" fill="#0000ff"/><path d="M63.33 359.95L64.86 362.70L61.80 362.70Z" fill="#0000ff"/><path d="M66.72 358.86L68.26 361.62L65.19 361.62Z" fill="#0000ff"/><path d="M70.11 357.76L71.65 360.51L68.58 360.51Z" fill="#0000ff"/><path d="M73.50 356.61L75.04 359.37L71.97 359.37Z" fill="#0000ff"/><path d="M76.90 355.43L78.43 358.19L75.36 358.19Z" fill="#0000ff"/><path d="M80.29 354.24L81.82 356.99L78.75 356.99Z" fill="#0000ff"/><path d="M83.68 353.03L85.21 355.79L82.14 355.79Z" fill="#0000ff"/><path d="M87.07 351.83L88.60 354.58L85.54 354.58Z" fill="#0000ff"/><path d="M90.46 350.64L91.99 353.39L88.93 353.39Z" fill="#0000ff"/><path d="M93.85 349.47L95.38 352.23L92.32 352.23Z" fill="#0000ff"/><path d="M97.24 348.34L98.77 351.09L95.71 351.09Z" fill="#0000ff"/><path d="M100.63 347.23L102.16 349.98L99.10 349.98Z" fill="#0000ff"/><path d="M104.02 346.13L105.55 348.88L102.49 348.88Z" fill="#0000ff"/><path d="M107.41 345.04L108.94 347.80L105.88 347.80Z" fill="#0000ff"/><path d="M110.80 343.97L112.33 346.72L109.27 346.72Z" fill="#0000ff"/><path d="M114.19 342.89L115.72 345.65L112.66 345.65Z" fill="#0000ff"/><path d="M117.58 341.82L119.11 344.58L116.05 344.58Z" fill="#0000ff"/><path d="M120.97 340.74L122.50 343.50L119.44 343.50Z" fill="#0000ff"/><path d="M124.36 339.66L125.89 342.42L122.83 342.42Z" fill="#0000ff"/><path d="M127.75 338.57L129.28 341.32L126.22 341.32Z" fill="#0000ff"/><path d="M131.14 337.46L132.67 340.21L129.61 340.21Z" fill="#0000ff"/><path d="M134.53 336.33L136.06 339.09L133.00 339.09Z" fill="#0000ff"/><path d="M137.92 335.19L139.46 337.94L136.39 337.94Z" fill="#0000ff"/><path d="M141.31 334.03L142.85 336.79L139.78 336.79Z" fill="#0000ff"/><path d="M144.70 332.87L146.24 335.63L143.17 335.63Z" fill="#0000ff"/><path d="M148.10 331.70L149.63 334.46L146.56 334.46Z" fill="#0000ff"/><path d="M151.49 330.53L153.02 333.28L149.95 333.28Z" fill="#0000ff"/><path d="M154.88 329.34L156.41 332.10L153.34 332.10Z" fill="#0000ff"/><path d="M158.27 328.15L159.80 330.91L156.74 330.91Z" fill="#0000ff"/><path d="M161.66 326.95L163.19 329.71L160.13 329.71Z" fill="#0000ff"/><path d="M165.05 325.74L166.58 328.50L163.52 328.50Z" fill="#0000ff"/><path d="M168.44 324.53L169.97 327.28L166.91 327.28Z" fill="#0000ff"/><path d="M171.83 323.30L173.36 326.06L170.30 326.06Z" fill="#0000ff"/><path d="M175.22 322.07L176.75 324.83L173.69 324.83Z" fill="#0000ff"/><path d="M178.61 320.83L180.14 323.59L177.08 323.59Z" fill="#0000ff"/><path d="M182.00 319.58L183.53 322.34L180.47 322.34Z" fill="#0000ff"/>
<path d="M39.60 368.04L41.13 365.29L38.07 365.29Z" fill="#ff00ff"/><path d="M42.99 367.06L44.52 364.30L41.46 364.30Z" fill="#ff00ff"/><path d="M46.38 366.05L47.91 363.30L44.85 363.30Z" fill="#ff00ff"/><path d="M49.77 365.03L51.30 362.28L48.24 362.28Z" fill="#ff00ff"/><path d="M53.16 363.99L54.69 361.24L51.63 361.24Z" fill="#ff00ff"/><path d="M56.55 362.94L58.08 360.18L55.02 360.18Z" fill="#ff00ff"/><path d="M59.94 361.86L61.47 359.11L58.41 359.11Z" fill="#ff00ff"/><path d="M63.33 360.77L64.86 358.02L61.80 358.02Z" fill="#ff00ff"/><path d="M66.72 359.67L68.26 356.91L65.19 356.91Z" fill="#ff00ff"/><path d="M70.11 358.54L71.65 355.78L68.58 355.78Z" fill="#ff00ff"/><path d="M73.50 357.37L75.04 354.61L71.97 354.61Z" fill="#ff00ff"/><path d="M76.90 356.16L78.43 353.40L75.36 353.40Z" fill="#ff00ff"/><path d="M80.29 354.93L81.82 352.18L78.75 352.18Z" fill="#ff00ff"/><path d="M83.68 353.70L85.21 350.94L82.14 350.94Z" fill="#ff00ff"/><path d="M87.07 352.48L88.60 349.72L85.54 349.72Z" fill="#ff00ff"/><path d="M90.46 351.27L91.99 348.52L88.93 348.52Z" fill="#ff00ff"/><path d="M93.85 350.11L95.38 347.35L92.32 347.35Z" fill="#ff00ff"/><path d="M97.24 348.98L98.77 346.22L95.71 346.22Z" fill="#ff00ff"/><path d="M100.63 347.88L102.16 345.12L99.10 345.12Z" fill="#ff00ff"/><path d="M104.02 346.80L105.55 344.05L102.49 344.05Z" fill="#ff00ff"/><path d="M107.41 345.74L108.94 342.98L105.88 342.98Z" fill="#ff00ff"/><path d="M110.80 344.69L112.33 341.93L109.27 341.93Z" fill="#ff00ff"/><path d="M114.19 343.65L115.72 340.89L112.66 340.89Z" fill="#ff00ff"/><path d="M117.58 342.61L119.11 339.85L116.05 339.85Z" fill="#ff00ff"/><path d="M120.97 341.58L122.50 338.82L119.44 338.82Z" fill="#ff00ff"/><path d="M124.36 340.54L125.89 337.78L122.83 337.78Z" fill="#ff00ff"/><path d="M127.75 339.49L129.28 336.73L126.22 336.73Z" fill="#ff00ff"/><path d="M131.14 338.43L132.67 335.68L129.61 335.68Z" fill="#ff00ff"/><path d="M134.53 337.36L136.06 334.60L133.00 334.60Z" fill="#ff00ff"/><path d="M137.92 336.28L139.46 333.52L136.39 333.52Z" fill="#ff00ff"/><path d="M141.31 335.19L142.85 332.43L139.78 332.43Z" fill="#ff00ff"/><path d="M144.70 334.10L146.24 331.34L143.17 331.34Z" fill="#ff00ff"/><path d="M148.10 333.00L149.63 330.24L146.56 330.24Z" fill="#ff00ff"/><path d="M151.49 331.90L153.02 329.14L149.95 329.14Z" fill="#ff00ff"/><path d="M154.88 330.80L156.41 328.04L153.34 328.04Z" fill="#ff00ff"/><path d="M158.27 329.69L159.80 326.93L156.74 326.93Z" fill="#ff00ff"/><path d="M161.66 328.58L163.19 325.82L160.13 325.82Z" fill="#ff00ff"/><path d="M165.05 327.46L166.58 324.71L163.52 324.71Z" fill="#ff00ff"/><path d="M168.44 326.35L169.97 323.59L166.91 323.59Z" fill="#ff00ff"/><path d="M171.83 325.22L173.36 322.47L170.30 322.47Z" fill="#ff00ff"/><path d="M175.22 324.10L176.75 321.34L173.69 321.34Z" fill="#ff00ff"/><path d="M178.61 322.97L180.14 320.21L177.08 320.21Z" fill="#ff00ff"/><path d="M182.00 321.83L183.53 319.08L180.47 319.08Z" fill="#ff00ff"/>
<circle cx="39.60" cy="354.86" r="1.35" fill="#008000"/><circle cx="42.99" cy="354.10" r="1.35" fill="#008000"/><circle cx="46.38" cy="353.33" r="1.35" fill="#008000"/><circle cx="49.77" cy="352.56" r="1.35" fill="#008000"/><circle cx="53.16" cy="351.78" r="1.35" fill="#008000"/><circle cx="56.55" cy="351.00" r="1.35" fill="#008000"/><circle cx="59.94" cy="350.21" r="1.35" fill="#008000"/><circle cx="63.33" cy="349.41" r="1.35" fill="#008000"/><circle cx="66.72" cy="348.60" r="1.35" fill="#008000"/><circle cx="70.11" cy="347.77" r="1.35" fill="#008000"/><circle cx="73.50" cy="346.93" r="1.35" fill="#008000"/><circle cx="76.90" cy="346.09" r="1.35" fill="#008000"/><circle cx="80.29" cy="345.24" r="1.35" fill="#008000"/><circle cx="83.68" cy="344.40" r="1.35" fill="#008000"/><circle cx="87.07" cy="343.57" r="1.35" fill="#008000"/><circle cx="90.46" cy="342.77" r="1.35" fill="#008000"/><circle cx="93.85" cy="341.98" r="1.35" fill="#008000"/><circle cx="97.24" cy="341.23" r="1.35" fill="#008000"/><circle cx="100.63" cy="340.51" r="1.35" fill="#008000"/><circle cx="104.02" cy="339.82" r="1.35" fill="#008000"/><circle cx="107.41" cy="339.14" r="1.35" fill="#008000"/><circle cx="110.80" cy="338.48" r="1.35" fill="#008000"/><circle cx="114.19" cy="337.82" r="1.35" fill="#008000"/><circle cx="117.58" cy="337.16" r="1.35" fill="#008000"/><circle cx="120.97" cy="336.49" r="1.35" fill="#008000"/><circle cx="124.36" cy="335.81" r="1.35" fill="#008000"/><circle cx="127.75" cy="335.10" r="1.35" fill="#008000"/><circle cx="131.14" cy="334.37" r="1.35" fill="#008000"/><circle cx="134.53" cy="333.60" r="1.35" fill="#008000"/><circle cx="137.92" cy="332.81" r="1.35" fill="#008000"/><circle cx="141.31" cy="331.99" r="1.35" fill="#008000"/><circle cx="144.70" cy="331.15" r="1.35" fill="#008000"/><circle cx="148.10" cy="330.29" r="1.35" fill="#008000"/><circle cx="151.49" cy="329.41" r="1.35" fill="#008000"/><circle cx="154.88" cy="328.52" r="1.35" fill="#008000"/><circle cx="158.27" cy="327.60" r="1.35" fill="#008000"/><circle cx="161.66" cy="326.67" r="1.35" fill="#008000"/><circle cx="165.05" cy="325.72" r="1.35" fill="#008000"/><circle cx="168.44" cy="324.75" r="1.35" fill="#008000"/><circle cx="171.83" cy="323.77" r="1.35" fill="#008000"/><circle cx="175.22" cy="322.76" r="1.35" fill="#008000"/><circle cx="178.61" cy="321.74" r="1.35" fill="#008000"/><circle cx="182.00" cy="320.71" r="1.35" fill="#008000"/>
<path d="M38.07 349.03L40.83 347.50L40.83 350.56Z" fill="#000080"/><path d="M41.46 348.14L44.22 346.61L44.22 349.67Z" fill="#000080"/><path d="M44.85 347.27L47.61 345.73L47.61 348.80Z" fill="#000080"/><path d="M48.24 346.42L51.00 344.89L51.00 347.95Z" fill="#000080"/><path d="M51.63 345.60L54.39 344.07L54.39 347.13Z" fill="#000080"/><path d="M55.02 344.81L57.78 343.28L57.78 346.34Z" fill="#000080"/><path d="M58.41 344.05L61.17 342.52L61.17 345.59Z" fill="#000080"/><path d="M61.80 343.33L64.56 341.80L64.56 344.87Z" fill="#000080"/><path d="M65.19 342.65L67.95 341.12L67.95 344.18Z" fill="#000080"/><path d="M68.58 342.01L71.34 340.48L71.34 343.54Z" fill="#000080"/><path d="M71.97 341.39L74.73 339.86L74.73 342.92Z" fill="#000080"/><path d="M75.36 340.80L78.12 339.27L78.12 342.33Z" fill="#000080"/><path d="M78.75 340.22L81.51 338.69L81.51 341.75Z" fill="#000080"/><path d="M82.14 339.64L84.90 338.11L84.90 341.17Z" fill="#000080"/><path d="M85.54 339.07L88.29 337.54L88.29 340.60Z" fill="#000080"/><path d="M88.93 338.49L91.68 336.96L91.68 340.02Z" fill="#000080"/><path d="M92.32 337.89L95.07 336.36L95.07 339.42Z" fill="#000080"/><path d="M95.71 337.28L98.46 335.75L98.46 338.81Z" fill="#000080"/><path d="M99.10 336.68L101.85 335.15L101.85 338.21Z" fill="#000080"/><path d="M102.49 336.08L105.24 334.55L105.24 337.61Z" fill="#000080"/><path d="M105.88 335.48L108.63 333.95L108.63 337.02Z" fill="#000080"/><path d="M109.27 334.89L112.03 333.36L112.03 336.42Z" fill="#000080"/><path d="M112.66 334.29L115.42 332.76L115.42 335.82Z" fill="#000080"/><path d="M116.05 333.68L118.81 332.15L118.81 335.21Z" fill="#000080"/><path d="M119.44 333.06L122.20 331.53L122.20 334.59Z" fill="#000080"/><path d="M122.83 332.43L125.59 330.90L125.59 333.96Z" fill="#000080"/><path d="M126.22 331.79L128.98 330.26L128.98 333.32Z" fill="#000080"/><path d="M129.61 331.12L132.37 329.59L132.37 332.65Z" fill="#000080"/><path d="M133.00 330.44L135.76 328.90L135.76 331.97Z" fill="#000080"/><path d="M136.39 329.73L139.15 328.20L139.15 331.26Z" fill="#000080"/><path d="M139.78 329.00L142.54 327.47L142.54 330.53Z" fill="#000080"/><path d="M143.17 328.26L145.93 326.73L145.93 329.79Z" fill="#000080"/><path d="M146.56 327.50L149.32 325.97L149.32 329.04Z" fill="#000080"/><path d="M149.95 326.73L152.71 325.20L152.71 328.26Z" fill="#000080"/><path d="M153.34 325.94L156.10 324.41L156.10 327.47Z" fill="#000080"/><path d="M156.74 325.14L159.49 323.61L159.49 326.67Z" fill="#000080"/><path d="M160.13 324.32L162.88 322.79L162.88 325.85Z" fill="#000080"/><path d="M163.52 323.48L166.27 321.95L166.27 325.01Z" fill="#000080"/><path d="M166.91 322.63L169.66 321.10L169.66 324.16Z" fill="#000080"/><path d="M170.30 321.77L173.05 320.24L173.05 323.30Z" fill="#000080"/><path d="M173.69 320.89L176.44 319.36L176.44 322.42Z" fill="#000080"/><path d="M177.08 320.00L179.83 318.46L179.83 321.53Z" fill="#000080"/><path d="M180.47 319.09L183.22 317.56L183.22 320.62Z" fill="#000080"/>
<path d="M41.13 346.60L38.38 345.07L38.38 348.13Z" fill="#8000ff"/><path d="M44.52 345.82L41.77 344.29L41.77 347.36Z" fill="#8000ff"/><path d="M47.91 345.05L45.16 343.52L45.16 346.58Z" fill="#8000ff"/><path d="M51.30 344.28L48.55 342.75L48.55 345.81Z" fill="#8000ff"/><path d="M54.69 343.51L51.94 341.98L51.94 345.04Z" fill="#8000ff"/><path d="M58.08 342.75L55.33 341.22L55.33 344.28Z" fill="#8000ff"/><path d="M61.47 341.99L58.72 340.46L58.72 343.52Z" fill="#8000ff"/><path d="M64.86 341.23L62.11 339.70L62.11 342.77Z" fill="#8000ff"/><path d="M68.26 340.48L65.50 338.95L65.50 342.01Z" fill="#8000ff"/><path d="M71.65 339.73L68.89 338.20L68.89 341.26Z" fill="#8000ff"/><path d="M75.04 338.99L72.28 337.45L72.28 340.52Z" fill="#8000ff"/><path d="M78.43 338.24L75.67 336.71L75.67 339.77Z" fill="#8000ff"/><path d="M81.82 337.50L79.06 335.97L79.06 339.03Z" fill="#8000ff"/><path d="M85.21 336.77L82.45 335.24L82.45 338.30Z" fill="#8000ff"/><path d="M88.60 336.04L85.84 334.51L85.84 337.57Z" fill="#8000ff"/><path d="M91.99 335.32L89.23 333.79L89.23 336.85Z" fill="#8000ff"/><path d="M95.38 334.60L92.62 333.07L92.62 336.13Z" fill="#8000ff"/><path d="M98.77 333.90L96.01 332.37L96.01 335.43Z" fill="#8000ff"/><path d="M102.16 333.22L99.40 331.69L99.40 334.75Z" fill="#8000ff"/><path d="M105.55 332.55L102.79 331.02L102.79 334.08Z" fill="#8000ff"/><path d="M108.94 331.89L106.18 330.36L106.18 333.42Z" fill="#8000ff"/><path d="M112.33 331.24L109.58 329.71L109.58 332.77Z" fill="#8000ff"/><path d="M115.72 330.59L112.97 329.06L112.97 332.12Z" fill="#8000ff"/><path d="M119.11 329.94L116.36 328.41L116.36 331.47Z" fill="#8000ff"/><path d="M122.50 329.28L119.75 327.75L119.75 330.81Z" fill="#8000ff"/><path d="M125.89 328.60L123.14 327.07L123.14 330.14Z" fill="#8000ff"/><path d="M129.28 327.92L126.53 326.39L126.53 329.45Z" fill="#8000ff"/><path d="M132.67 327.21L129.92 325.68L129.92 328.74Z" fill="#8000ff"/><path d="M136.06 326.48L133.31 324.95L133.31 328.01Z" fill="#8000ff"/><path d="M139.46 325.72L136.70 324.19L136.70 327.25Z" fill="#8000ff"/><path d="M142.85 324.95L140.09 323.42L140.09 326.48Z" fill="#8000ff"/><path d="M146.24 324.17L143.48 322.64L143.48 325.70Z" fill="#8000ff"/><path d="M149.63 323.37L146.87 321.84L146.87 324.90Z" fill="#8000ff"/><path d="M153.02 322.56L150.26 321.03L150.26 324.09Z" fill="#8000ff"/><path d="M156.41 321.73L153.65 320.20L153.65 323.26Z" fill="#8000ff"/><path d="M159.80 320.89L157.04 319.36L157.04 322.42Z" fill="#8000ff"/><path d="M163.19 320.04L160.43 318.50L160.43 321.57Z" fill="#8000ff"/><path d="M166.58 319.17L163.82 317.64L163.82 320.70Z" fill="#8000ff"/><path d="M169.97 318.29L167.21 316.76L167.21 319.82Z" fill="#8000ff"/><path d="M173.36 317.40L170.60 315.86L170.60 318.93Z" fill="#8000ff"/><path d="M176.75 316.49L173.99 314.96L173.99 318.02Z" fill="#8000ff"/><path d="M180.14 315.57L177.38 314.04L177.38 317.10Z" fill="#8000ff"/><path d="M183.53 314.64L180.78 313.11L180.78 316.17Z" fill="#8000ff"/>
<rect x="44.60" y="279.90" width="2.40" height="2.40" fill="#000000"/>
<text x="54.60" y="282.80" font-size="6.3" text-anchor="start" class="lg">PEI</text>
<circle cx="45.80" cy="289.30" r="1.32" fill="#ff0000"/>
<text x="54.60" y="291.00" font-size="6.3" text-anchor="start" class="lg">3 wt% Fe<tspan font-size="4.00" dy="1.76">3</tspan><tspan dy="-1.76">O</tspan><tspan font-size="4.00" dy="1.76">4</tspan><tspan dy="-1.76">@BaTiO</tspan><tspan font-size="4.00" dy="1.76">3</tspan><tspan dy="-1.76">@SiO</tspan><tspan font-size="4.00" dy="1.76">2</tspan><tspan dy="-1.76">/PEI</tspan></text>
<path d="M45.80 297.00L47.30 299.70L44.30 299.70Z" fill="#0000ff"/>
<text x="54.60" y="300.20" font-size="6.3" text-anchor="start" class="lg">6 wt% Fe<tspan font-size="4.00" dy="1.76">3</tspan><tspan dy="-1.76">O</tspan><tspan font-size="4.00" dy="1.76">4</tspan><tspan dy="-1.76">@BaTiO</tspan><tspan font-size="4.00" dy="1.76">3</tspan><tspan dy="-1.76">@SiO</tspan><tspan font-size="4.00" dy="1.76">2</tspan><tspan dy="-1.76">/PEI</tspan></text>
<path d="M45.80 310.40L47.30 307.70L44.30 307.70Z" fill="#ff00ff"/>
<text x="54.60" y="310.60" font-size="6.3" text-anchor="start" class="lg">9 wt% Fe<tspan font-size="4.00" dy="1.76">3</tspan><tspan dy="-1.76">O</tspan><tspan font-size="4.00" dy="1.76">4</tspan><tspan dy="-1.76">@BaTiO</tspan><tspan font-size="4.00" dy="1.76">3</tspan><tspan dy="-1.76">@SiO</tspan><tspan font-size="4.00" dy="1.76">2</tspan><tspan dy="-1.76">/PEI</tspan></text>
<circle cx="45.80" cy="318.70" r="1.32" fill="#008000"/>
<text x="54.60" y="320.40" font-size="6.3" text-anchor="start" class="lg">10.5 wt% Fe<tspan font-size="4.00" dy="1.76">3</tspan><tspan dy="-1.76">O</tspan><tspan font-size="4.00" dy="1.76">4</tspan><tspan dy="-1.76">@BaTiO</tspan><tspan font-size="4.00" dy="1.76">3</tspan><tspan dy="-1.76">@SiO</tspan><tspan font-size="4.00" dy="1.76">2</tspan><tspan dy="-1.76">/PEI</tspan></text>
<path d="M76.20 366.10L78.90 364.60L78.90 367.60Z" fill="#000080"/>
<text x="87.20" y="367.80" font-size="6.3" text-anchor="start" class="lg">12 wt% Fe<tspan font-size="4.00" dy="1.76">3</tspan><tspan dy="-1.76">O</tspan><tspan font-size="4.00" dy="1.76">4</tspan><tspan dy="-1.76">@BaTiO</tspan><tspan font-size="4.00" dy="1.76">3</tspan><tspan dy="-1.76">@SiO</tspan><tspan font-size="4.00" dy="1.76">2</tspan><tspan dy="-1.76">/PEI</tspan></text>
<path d="M79.20 374.80L76.50 373.30L76.50 376.30Z" fill="#8000ff"/>
<text x="87.20" y="376.50" font-size="6.3" text-anchor="start" class="lg">15 wt% Fe<tspan font-size="4.00" dy="1.76">3</tspan><tspan dy="-1.76">O</tspan><tspan font-size="4.00" dy="1.76">4</tspan><tspan dy="-1.76">@BaTiO</tspan><tspan font-size="4.00" dy="1.76">3</tspan><tspan dy="-1.76">@SiO</tspan><tspan font-size="4.00" dy="1.76">2</tspan><tspan dy="-1.76">/PEI</tspan></text>
<rect x="229.50" y="7.40" width="138.00" height="103.60" fill="none" stroke="#555555" stroke-width="1.1"/>
<line x1="227.30" y1="109.57" x2="229.50" y2="109.57" stroke="#555555" stroke-width="0.9"/>
<text x="227.00" y="112.27" font-size="7.8" text-anchor="end" class="ytl">0</text>
<line x1="227.30" y1="99.35" x2="229.50" y2="99.35" stroke="#555555" stroke-width="0.9"/>
<text x="227.00" y="102.05" font-size="7.8" text-anchor="end" class="ytl">10</text>
<line x1="227.30" y1="89.14" x2="229.50" y2="89.14" stroke="#555555" stroke-width="0.9"/>
<text x="227.00" y="91.84" font-size="7.8" text-anchor="end" class="ytl">20</text>
<line x1="227.30" y1="78.92" x2="229.50" y2="78.92" stroke="#555555" stroke-width="0.9"/>
<text x="227.00" y="81.62" font-size="7.8" text-anchor="end" class="ytl">30</text>
<line x1="227.30" y1="68.70" x2="229.50" y2="68.70" stroke="#555555" stroke-width="0.9"/>
<text x="227.00" y="71.40" font-size="7.8" text-anchor="end" class="ytl">40</text>
<line x1="227.30" y1="58.48" x2="229.50" y2="58.48" stroke="#555555" stroke-width="0.9"/>
<text x="227.00" y="61.18" font-size="7.8" text-anchor="end" class="ytl">50</text>
<line x1="227.30" y1="48.27" x2="229.50" y2="48.27" stroke="#555555" stroke-width="0.9"/>
<text x="227.00" y="50.97" font-size="7.8" text-anchor="end" class="ytl">60</text>
<line x1="227.30" y1="38.05" x2="229.50" y2="38.05" stroke="#555555" stroke-width="0.9"/>
<text x="227.00" y="40.75" font-size="7.8" text-anchor="end" class="ytl">70</text>
<line x1="227.30" y1="27.83" x2="229.50" y2="27.83" stroke="#555555" stroke-width="0.9"/>
<text x="227.00" y="30.53" font-size="7.8" text-anchor="end" class="ytl">80</text>
<line x1="227.30" y1="17.62" x2="229.50" y2="17.62" stroke="#555555" stroke-width="0.9"/>
<text x="227.00" y="20.32" font-size="7.8" text-anchor="end" class="ytl">90</text>
<line x1="227.30" y1="7.40" x2="229.50" y2="7.40" stroke="#555555" stroke-width="0.9"/>
<text x="227.00" y="10.10" font-size="7.8" text-anchor="end" class="ytl">100</text>
<line x1="228.30" y1="104.46" x2="229.50" y2="104.46" stroke="#555555" stroke-width="0.6"/>
<line x1="228.30" y1="94.24" x2="229.50" y2="94.24" stroke="#555555" stroke-width="0.6"/>
<line x1="228.30" y1="84.03" x2="229.50" y2="84.03" stroke="#555555" stroke-width="0.6"/>
<line x1="228.30" y1="73.81" x2="229.50" y2="73.81" stroke="#555555" stroke-width="0.6"/>
<line x1="228.30" y1="63.59" x2="229.50" y2="63.59" stroke="#555555" stroke-width="0.6"/>
<line x1="228.30" y1="53.38" x2="229.50" y2="53.38" stroke="#555555" stroke-width="0.6"/>
<line x1="228.30" y1="43.16" x2="229.50" y2="43.16" stroke="#555555" stroke-width="0.6"/>
<line x1="228.30" y1="32.94" x2="229.50" y2="32.94" stroke="#555555" stroke-width="0.6"/>
<line x1="228.30" y1="22.73" x2="229.50" y2="22.73" stroke="#555555" stroke-width="0.6"/>
<line x1="228.30" y1="12.51" x2="229.50" y2="12.51" stroke="#555555" stroke-width="0.6"/>
<line x1="229.50" y1="111.00" x2="229.50" y2="113.20" stroke="#555555" stroke-width="0.9"/>
<text x="225.60" y="121.40" font-size="7.8" text-anchor="start" class="xtl">10<tspan font-size="4.80" dy="-4.29">0</tspan></text>
<line x1="236.42" y1="111.00" x2="236.42" y2="112.20" stroke="#555555" stroke-width="0.6"/>
<line x1="240.47" y1="111.00" x2="240.47" y2="112.20" stroke="#555555" stroke-width="0.6"/>
<line x1="243.35" y1="111.00" x2="243.35" y2="112.20" stroke="#555555" stroke-width="0.6"/>
<line x1="245.58" y1="111.00" x2="245.58" y2="112.20" stroke="#555555" stroke-width="0.6"/>
<line x1="247.40" y1="111.00" x2="247.40" y2="112.20" stroke="#555555" stroke-width="0.6"/>
<line x1="248.94" y1="111.00" x2="248.94" y2="112.20" stroke="#555555" stroke-width="0.6"/>
<line x1="250.27" y1="111.00" x2="250.27" y2="112.20" stroke="#555555" stroke-width="0.6"/>
<line x1="251.45" y1="111.00" x2="251.45" y2="112.20" stroke="#555555" stroke-width="0.6"/>
<line x1="252.50" y1="111.00" x2="252.50" y2="113.20" stroke="#555555" stroke-width="0.9"/>
<text x="248.60" y="121.40" font-size="7.8" text-anchor="start" class="xtl">10<tspan font-size="4.80" dy="-4.29">1</tspan></text>
<line x1="259.42" y1="111.00" x2="259.42" y2="112.20" stroke="#555555" stroke-width="0.6"/>
<line x1="263.47" y1="111.00" x2="263.47" y2="112.20" stroke="#555555" stroke-width="0.6"/>
<line x1="266.35" y1="111.00" x2="266.35" y2="112.20" stroke="#555555" stroke-width="0.6"/>
<line x1="268.58" y1="111.00" x2="268.58" y2="112.20" stroke="#555555" stroke-width="0.6"/>
<line x1="270.40" y1="111.00" x2="270.40" y2="112.20" stroke="#555555" stroke-width="0.6"/>
<line x1="271.94" y1="111.00" x2="271.94" y2="112.20" stroke="#555555" stroke-width="0.6"/>
<line x1="273.27" y1="111.00" x2="273.27" y2="112.20" stroke="#555555" stroke-width="0.6"/>
<line x1="274.45" y1="111.00" x2="274.45" y2="112.20" stroke="#555555" stroke-width="0.6"/>
<line x1="275.50" y1="111.00" x2="275.50" y2="113.20" stroke="#555555" stroke-width="0.9"/>
<text x="271.60" y="121.40" font-size="7.8" text-anchor="start" class="xtl">10<tspan font-size="4.80" dy="-4.29">2</tspan></text>
<line x1="282.42" y1="111.00" x2="282.42" y2="112.20" stroke="#555555" stroke-width="0.6"/>
<line x1="286.47" y1="111.00" x2="286.47" y2="112.20" stroke="#555555" stroke-width="0.6"/>
<line x1="289.35" y1="111.00" x2="289.35" y2="112.20" stroke="#555555" stroke-width="0.6"/>
<line x1="291.58" y1="111.00" x2="291.58" y2="112.20" stroke="#555555" stroke-width="0.6"/>
<line x1="293.40" y1="111.00" x2="293.40" y2="112.20" stroke="#555555" stroke-width="0.6"/>
<line x1="294.94" y1="111.00" x2="294.94" y2="112.20" stroke="#555555" stroke-width="0.6"/>
<line x1="296.27" y1="111.00" x2="296.27" y2="112.20" stroke="#555555" stroke-width="0.6"/>
<line x1="297.45" y1="111.00" x2="297.45" y2="112.20" stroke="#555555" stroke-width="0.6"/>
<line x1="298.50" y1="111.00" x2="298.50" y2="113.20" stroke="#555555" stroke-width="0.9"/>
<text x="294.60" y="121.40" font-size="7.8" text-anchor="start" class="xtl">10<tspan font-size="4.80" dy="-4.29">3</tspan></text>
<line x1="305.42" y1="111.00" x2="305.42" y2="112.20" stroke="#555555" stroke-width="0.6"/>
<line x1="309.47" y1="111.00" x2="309.47" y2="112.20" stroke="#555555" stroke-width="0.6"/>
<line x1="312.35" y1="111.00" x2="312.35" y2="112.20" stroke="#555555" stroke-width="0.6"/>
<line x1="314.58" y1="111.00" x2="314.58" y2="112.20" stroke="#555555" stroke-width="0.6"/>
<line x1="316.40" y1="111.00" x2="316.40" y2="112.20" stroke="#555555" stroke-width="0.6"/>
<line x1="317.94" y1="111.00" x2="317.94" y2="112.20" stroke="#555555" stroke-width="0.6"/>
<line x1="319.27" y1="111.00" x2="319.27" y2="112.20" stroke="#555555" stroke-width="0.6"/>
<line x1="320.45" y1="111.00" x2="320.45" y2="112.20" stroke="#555555" stroke-width="0.6"/>
<line x1="321.50" y1="111.00" x2="321.50" y2="113.20" stroke="#555555" stroke-width="0.9"/>
<text x="317.60" y="121.40" font-size="7.8" text-anchor="start" class="xtl">10<tspan font-size="4.80" dy="-4.29">4</tspan></text>
<line x1="328.42" y1="111.00" x2="328.42" y2="112.20" stroke="#555555" stroke-width="0.6"/>
<line x1="332.47" y1="111.00" x2="332.47" y2="112.20" stroke="#555555" stroke-width="0.6"/>
<line x1="335.35" y1="111.00" x2="335.35" y2="112.20" stroke="#555555" stroke-width="0.6"/>
<line x1="337.58" y1="111.00" x2="337.58" y2="112.20" stroke="#555555" stroke-width="0.6"/>
<line x1="339.40" y1="111.00" x2="339.40" y2="112.20" stroke="#555555" stroke-width="0.6"/>
<line x1="340.94" y1="111.00" x2="340.94" y2="112.20" stroke="#555555" stroke-width="0.6"/>
<line x1="342.27" y1="111.00" x2="342.27" y2="112.20" stroke="#555555" stroke-width="0.6"/>
<line x1="343.45" y1="111.00" x2="343.45" y2="112.20" stroke="#555555" stroke-width="0.6"/>
<line x1="344.50" y1="111.00" x2="344.50" y2="113.20" stroke="#555555" stroke-width="0.9"/>
<text x="340.60" y="121.40" font-size="7.8" text-anchor="start" class="xtl">10<tspan font-size="4.80" dy="-4.29">5</tspan></text>
<line x1="351.42" y1="111.00" x2="351.42" y2="112.20" stroke="#555555" stroke-width="0.6"/>
<line x1="355.47" y1="111.00" x2="355.47" y2="112.20" stroke="#555555" stroke-width="0.6"/>
<line x1="358.35" y1="111.00" x2="358.35" y2="112.20" stroke="#555555" stroke-width="0.6"/>
<line x1="360.58" y1="111.00" x2="360.58" y2="112.20" stroke="#555555" stroke-width="0.6"/>
<line x1="362.40" y1="111.00" x2="362.40" y2="112.20" stroke="#555555" stroke-width="0.6"/>
<line x1="363.94" y1="111.00" x2="363.94" y2="112.20" stroke="#555555" stroke-width="0.6"/>
<line x1="365.27" y1="111.00" x2="365.27" y2="112.20" stroke="#555555" stroke-width="0.6"/>
<line x1="366.45" y1="111.00" x2="366.45" y2="112.20" stroke="#555555" stroke-width="0.6"/>
<line x1="367.50" y1="111.00" x2="367.50" y2="113.20" stroke="#555555" stroke-width="0.9"/>
<text x="363.60" y="121.40" font-size="7.8" text-anchor="start" class="xtl">10<tspan font-size="4.80" dy="-4.29">6</tspan></text>
<text x="210.70" y="63.55" font-size="8.1" text-anchor="middle" transform="rotate(-90 210.70 63.55)" class="yt">Dielectric Constant</text>
<text x="298.70" y="132.60" font-size="8.1" text-anchor="middle" class="xt">Frequency (Hz)</text>
<text x="203.40" y="17.05" font-size="17" text-anchor="middle" class="pl">(d)</text>
<text x="365.60" y="15.60" font-size="6.2" text-anchor="end" class="at">@ 9 wt%</text>
<rect x="228.28" y="105.18" width="2.45" height="2.45" fill="#000000"/><rect x="231.56" y="105.18" width="2.45" height="2.45" fill="#000000"/><rect x="234.85" y="105.18" width="2.45" height="2.45" fill="#000000"/><rect x="238.13" y="105.18" width="2.45" height="2.45" fill="#000000"/><rect x="241.42" y="105.18" width="2.45" height="2.45" fill="#000000"/><rect x="244.70" y="105.18" width="2.45" height="2.45" fill="#000000"/><rect x="247.99" y="105.18" width="2.45" height="2.45" fill="#000000"/><rect x="251.28" y="105.18" width="2.45" height="2.45" fill="#000000"/><rect x="254.56" y="105.18" width="2.45" height="2.45" fill="#000000"/><rect x="257.85" y="105.18" width="2.45" height="2.45" fill="#000000"/><rect x="261.13" y="105.18" width="2.45" height="2.45" fill="#000000"/><rect x="264.42" y="105.18" width="2.45" height="2.45" fill="#000000"/><rect x="267.70" y="105.18" width="2.45" height="2.45" fill="#000000"/><rect x="270.99" y="105.18" width="2.45" height="2.45" fill="#000000"/><rect x="274.27" y="105.18" width="2.45" height="2.45" fill="#000000"/><rect x="277.56" y="105.18" width="2.45" height="2.45" fill="#000000"/><rect x="280.85" y="105.18" width="2.45" height="2.45" fill="#000000"/><rect x="284.13" y="105.18" width="2.45" height="2.45" fill="#000000"/><rect x="287.42" y="105.18" width="2.45" height="2.45" fill="#000000"/><rect x="290.70" y="105.18" width="2.45" height="2.45" fill="#000000"/><rect x="293.99" y="105.18" width="2.45" height="2.45" fill="#000000"/><rect x="297.27" y="105.18" width="2.45" height="2.45" fill="#000000"/><rect x="300.56" y="105.18" width="2.45" height="2.45" fill="#000000"/><rect x="303.85" y="105.18" width="2.45" height="2.45" fill="#000000"/><rect x="307.13" y="105.18" width="2.45" height="2.45" fill="#000000"/><rect x="310.42" y="105.18" width="2.45" height="2.45" fill="#000000"/><rect x="313.70" y="105.18" width="2.45" height="2.45" fill="#000000"/><rect x="316.99" y="105.18" width="2.45" height="2.45" fill="#000000"/><rect x="320.27" y="105.18" width="2.45" height="2.45" fill="#000000"/><rect x="323.56" y="105.18" width="2.45" height="2.45" fill="#000000"/><rect x="326.85" y="105.18" width="2.45" height="2.45" fill="#000000"/><rect x="330.13" y="105.18" width="2.45" height="2.45" fill="#000000"/><rect x="333.42" y="105.18" width="2.45" height="2.45" fill="#000000"/><rect x="336.70" y="105.18" width="2.45" height="2.45" fill="#000000"/><rect x="339.99" y="105.18" width="2.45" height="2.45" fill="#000000"/><rect x="343.27" y="105.18" width="2.45" height="2.45" fill="#000000"/><rect x="346.56" y="105.18" width="2.45" height="2.45" fill="#000000"/><rect x="349.85" y="105.18" width="2.45" height="2.45" fill="#000000"/><rect x="353.13" y="105.18" width="2.45" height="2.45" fill="#000000"/><rect x="356.42" y="105.18" width="2.45" height="2.45" fill="#000000"/><rect x="359.70" y="105.18" width="2.45" height="2.45" fill="#000000"/><rect x="362.99" y="105.18" width="2.45" height="2.45" fill="#000000"/><rect x="366.27" y="105.18" width="2.45" height="2.45" fill="#000000"/>
<path d="M229.50 103.54L231.03 100.78L227.97 100.78Z" fill="#ff00ff"/><path d="M232.79 103.63L234.32 100.88L231.25 100.88Z" fill="#ff00ff"/><path d="M236.07 103.72L237.60 100.97L234.54 100.97Z" fill="#ff00ff"/><path d="M239.36 103.81L240.89 101.06L237.83 101.06Z" fill="#ff00ff"/><path d="M242.64 103.90L244.17 101.15L241.11 101.15Z" fill="#ff00ff"/><path d="M245.93 103.99L247.46 101.23L244.40 101.23Z" fill="#ff00ff"/><path d="M249.21 104.07L250.75 101.32L247.68 101.32Z" fill="#ff00ff"/><path d="M252.50 104.15L254.03 101.40L250.97 101.40Z" fill="#ff00ff"/><path d="M255.79 104.23L257.32 101.48L254.25 101.48Z" fill="#ff00ff"/><path d="M259.07 104.31L260.60 101.56L257.54 101.56Z" fill="#ff00ff"/><path d="M262.36 104.39L263.89 101.63L260.83 101.63Z" fill="#ff00ff"/><path d="M265.64 104.47L267.17 101.71L264.11 101.71Z" fill="#ff00ff"/><path d="M268.93 104.54L270.46 101.79L267.40 101.79Z" fill="#ff00ff"/><path d="M272.21 104.62L273.75 101.86L270.68 101.86Z" fill="#ff00ff"/><path d="M275.50 104.69L277.03 101.94L273.97 101.94Z" fill="#ff00ff"/><path d="M278.79 104.76L280.32 102.01L277.25 102.01Z" fill="#ff00ff"/><path d="M282.07 104.83L283.60 102.07L280.54 102.07Z" fill="#ff00ff"/><path d="M285.36 104.90L286.89 102.14L283.83 102.14Z" fill="#ff00ff"/><path d="M288.64 104.96L290.17 102.20L287.11 102.20Z" fill="#ff00ff"/><path d="M291.93 105.02L293.46 102.26L290.40 102.26Z" fill="#ff00ff"/><path d="M295.21 105.07L296.75 102.32L293.68 102.32Z" fill="#ff00ff"/><path d="M298.50 105.12L300.03 102.37L296.97 102.37Z" fill="#ff00ff"/><path d="M301.79 105.17L303.32 102.42L300.25 102.42Z" fill="#ff00ff"/><path d="M305.07 105.22L306.60 102.46L303.54 102.46Z" fill="#ff00ff"/><path d="M308.36 105.27L309.89 102.51L306.83 102.51Z" fill="#ff00ff"/><path d="M311.64 105.32L313.17 102.56L310.11 102.56Z" fill="#ff00ff"/><path d="M314.93 105.37L316.46 102.61L313.40 102.61Z" fill="#ff00ff"/><path d="M318.21 105.42L319.75 102.67L316.68 102.67Z" fill="#ff00ff"/><path d="M321.50 105.48L323.03 102.73L319.97 102.73Z" fill="#ff00ff"/><path d="M324.79 105.54L326.32 102.79L323.25 102.79Z" fill="#ff00ff"/><path d="M328.07 105.61L329.60 102.85L326.54 102.85Z" fill="#ff00ff"/><path d="M331.36 105.68L332.89 102.92L329.83 102.92Z" fill="#ff00ff"/><path d="M334.64 105.75L336.17 102.99L333.11 102.99Z" fill="#ff00ff"/><path d="M337.93 105.82L339.46 103.07L336.40 103.07Z" fill="#ff00ff"/><path d="M341.21 105.91L342.75 103.15L339.68 103.15Z" fill="#ff00ff"/><path d="M344.50 105.99L346.03 103.24L342.97 103.24Z" fill="#ff00ff"/><path d="M347.79 106.09L349.32 103.33L346.25 103.33Z" fill="#ff00ff"/><path d="M351.07 106.19L352.60 103.43L349.54 103.43Z" fill="#ff00ff"/><path d="M354.36 106.30L355.89 103.54L352.83 103.54Z" fill="#ff00ff"/><path d="M357.64 106.42L359.17 103.66L356.11 103.66Z" fill="#ff00ff"/><path d="M360.93 106.54L362.46 103.79L359.40 103.79Z" fill="#ff00ff"/><path d="M364.21 106.67L365.75 103.92L362.68 103.92Z" fill="#ff00ff"/><path d="M367.50 106.81L369.03 104.05L365.97 104.05Z" fill="#ff00ff"/>
<path d="M229.50 90.91L231.09 92.51L229.50 94.10L227.91 92.51Z" fill="#008000"/><path d="M232.79 92.26L234.38 93.85L232.79 95.44L231.19 93.85Z" fill="#008000"/><path d="M236.07 92.66L237.66 94.25L236.07 95.85L234.48 94.25Z" fill="#008000"/><path d="M239.36 93.26L240.95 94.85L239.36 96.44L237.76 94.85Z" fill="#008000"/><path d="M242.64 93.69L244.24 95.28L242.64 96.88L241.05 95.28Z" fill="#008000"/><path d="M245.93 94.06L247.52 95.65L245.93 97.24L244.34 95.65Z" fill="#008000"/><path d="M249.21 94.39L250.81 95.98L249.21 97.57L247.62 95.98Z" fill="#008000"/><path d="M252.50 94.70L254.09 96.29L252.50 97.88L250.91 96.29Z" fill="#008000"/><path d="M255.79 95.01L257.38 96.60L255.79 98.19L254.19 96.60Z" fill="#008000"/><path d="M259.07 95.31L260.66 96.90L259.07 98.49L257.48 96.90Z" fill="#008000"/><path d="M262.36 95.58L263.95 97.17L262.36 98.76L260.76 97.17Z" fill="#008000"/><path d="M265.64 95.80L267.24 97.39L265.64 98.98L264.05 97.39Z" fill="#008000"/><path d="M268.93 95.97L270.52 97.56L268.93 99.15L267.34 97.56Z" fill="#008000"/><path d="M272.21 96.11L273.81 97.71L272.21 99.30L270.62 97.71Z" fill="#008000"/><path d="M275.50 96.24L277.09 97.84L275.50 99.43L273.91 97.84Z" fill="#008000"/><path d="M278.79 96.36L280.38 97.95L278.79 99.55L277.19 97.95Z" fill="#008000"/><path d="M282.07 96.47L283.66 98.07L282.07 99.66L280.48 98.07Z" fill="#008000"/><path d="M285.36 96.58L286.95 98.17L285.36 99.77L283.76 98.17Z" fill="#008000"/><path d="M288.64 96.69L290.24 98.28L288.64 99.88L287.05 98.28Z" fill="#008000"/><path d="M291.93 96.81L293.52 98.40L291.93 99.99L290.34 98.40Z" fill="#008000"/><path d="M295.21 96.92L296.81 98.51L295.21 100.10L293.62 98.51Z" fill="#008000"/><path d="M298.50 97.03L300.09 98.62L298.50 100.21L296.91 98.62Z" fill="#008000"/><path d="M301.79 97.14L303.38 98.73L301.79 100.32L300.19 98.73Z" fill="#008000"/><path d="M305.07 97.24L306.66 98.83L305.07 100.43L303.48 98.83Z" fill="#008000"/><path d="M308.36 97.35L309.95 98.94L308.36 100.53L306.76 98.94Z" fill="#008000"/><path d="M311.64 97.45L313.24 99.04L311.64 100.63L310.05 99.04Z" fill="#008000"/><path d="M314.93 97.55L316.52 99.15L314.93 100.74L313.34 99.15Z" fill="#008000"/><path d="M318.21 97.66L319.81 99.25L318.21 100.84L316.62 99.25Z" fill="#008000"/><path d="M321.50 97.76L323.09 99.35L321.50 100.95L319.91 99.35Z" fill="#008000"/><path d="M324.79 97.86L326.38 99.45L324.79 101.05L323.19 99.45Z" fill="#008000"/><path d="M328.07 97.95L329.66 99.55L328.07 101.14L326.48 99.55Z" fill="#008000"/><path d="M331.36 98.05L332.95 99.64L331.36 101.23L329.76 99.64Z" fill="#008000"/><path d="M334.64 98.14L336.24 99.73L334.64 101.33L333.05 99.73Z" fill="#008000"/><path d="M337.93 98.24L339.52 99.83L337.93 101.43L336.34 99.83Z" fill="#008000"/><path d="M341.21 98.35L342.81 99.94L341.21 101.54L339.62 99.94Z" fill="#008000"/><path d="M344.50 98.48L346.09 100.07L344.50 101.66L342.91 100.07Z" fill="#008000"/><path d="M347.79 98.62L349.38 100.21L347.79 101.80L346.19 100.21Z" fill="#008000"/><path d="M351.07 98.78L352.66 100.37L351.07 101.96L349.48 100.37Z" fill="#008000"/><path d="M354.36 98.96L355.95 100.55L354.36 102.14L352.76 100.55Z" fill="#008000"/><path d="M357.64 99.15L359.24 100.74L357.64 102.33L356.05 100.74Z" fill="#008000"/><path d="M360.93 99.36L362.52 100.95L360.93 102.54L359.34 100.95Z" fill="#008000"/><path d="M364.21 99.57L365.81 101.17L364.21 102.76L362.62 101.17Z" fill="#008000"/><path d="M367.50 99.80L369.09 101.40L367.50 102.99L365.91 101.40Z" fill="#008000"/>
<path d="M229.50 78.00L231.03 80.76L227.97 80.76Z" fill="#0000ff"/><path d="M232.79 79.89L234.32 82.64L231.25 82.64Z" fill="#0000ff"/><path d="M236.07 81.61L237.60 84.37L234.54 84.37Z" fill="#0000ff"/><path d="M239.36 83.40L240.89 86.15L237.83 86.15Z" fill="#0000ff"/><path d="M242.64 85.10L244.17 87.86L241.11 87.86Z" fill="#0000ff"/><path d="M245.93 86.54L247.46 89.30L244.40 89.30Z" fill="#0000ff"/><path d="M249.21 87.35L250.75 90.11L247.68 90.11Z" fill="#0000ff"/><path d="M252.50 88.27L254.03 91.02L250.97 91.02Z" fill="#0000ff"/><path d="M255.79 88.88L257.32 91.64L254.25 91.64Z" fill="#0000ff"/><path d="M259.07 89.58L260.60 92.34L257.54 92.34Z" fill="#0000ff"/><path d="M262.36 90.21L263.89 92.97L260.83 92.97Z" fill="#0000ff"/><path d="M265.64 90.54L267.17 93.29L264.11 93.29Z" fill="#0000ff"/><path d="M268.93 90.77L270.46 93.52L267.40 93.52Z" fill="#0000ff"/><path d="M272.21 90.97L273.75 93.73L270.68 93.73Z" fill="#0000ff"/><path d="M275.50 91.16L277.03 93.92L273.97 93.92Z" fill="#0000ff"/><path d="M278.79 91.33L280.32 94.09L277.25 94.09Z" fill="#0000ff"/><path d="M282.07 91.49L283.60 94.24L280.54 94.24Z" fill="#0000ff"/><path d="M285.36 91.63L286.89 94.38L283.83 94.38Z" fill="#0000ff"/><path d="M288.64 91.75L290.17 94.51L287.11 94.51Z" fill="#0000ff"/><path d="M291.93 91.87L293.46 94.63L290.40 94.63Z" fill="#0000ff"/><path d="M295.21 91.99L296.75 94.74L293.68 94.74Z" fill="#0000ff"/><path d="M298.50 92.09L300.03 94.85L296.97 94.85Z" fill="#0000ff"/><path d="M301.79 92.19L303.32 94.95L300.25 94.95Z" fill="#0000ff"/><path d="M305.07 92.29L306.60 95.04L303.54 95.04Z" fill="#0000ff"/><path d="M308.36 92.38L309.89 95.13L306.83 95.13Z" fill="#0000ff"/><path d="M311.64 92.46L313.17 95.22L310.11 95.22Z" fill="#0000ff"/><path d="M314.93 92.55L316.46 95.30L313.40 95.30Z" fill="#0000ff"/><path d="M318.21 92.63L319.75 95.39L316.68 95.39Z" fill="#0000ff"/><path d="M321.50 92.71L323.03 95.47L319.97 95.47Z" fill="#0000ff"/><path d="M324.79 92.79L326.32 95.55L323.25 95.55Z" fill="#0000ff"/><path d="M328.07 92.85L329.60 95.61L326.54 95.61Z" fill="#0000ff"/><path d="M331.36 92.92L332.89 95.67L329.83 95.67Z" fill="#0000ff"/><path d="M334.64 92.98L336.17 95.73L333.11 95.73Z" fill="#0000ff"/><path d="M337.93 93.05L339.46 95.80L336.40 95.80Z" fill="#0000ff"/><path d="M341.21 93.13L342.75 95.88L339.68 95.88Z" fill="#0000ff"/><path d="M344.50 93.22L346.03 95.98L342.97 95.98Z" fill="#0000ff"/><path d="M347.79 93.35L349.32 96.11L346.25 96.11Z" fill="#0000ff"/><path d="M351.07 93.51L352.60 96.26L349.54 96.26Z" fill="#0000ff"/><path d="M354.36 93.69L355.89 96.45L352.83 96.45Z" fill="#0000ff"/><path d="M357.64 93.91L359.17 96.66L356.11 96.66Z" fill="#0000ff"/><path d="M360.93 94.14L362.46 96.90L359.40 96.90Z" fill="#0000ff"/><path d="M364.21 94.39L365.75 97.15L362.68 97.15Z" fill="#0000ff"/><path d="M367.50 94.65L369.03 97.41L365.97 97.41Z" fill="#0000ff"/>
<circle cx="229.50" cy="51.64" r="1.35" fill="#ff0000"/><circle cx="232.79" cy="65.54" r="1.35" fill="#ff0000"/><circle cx="236.07" cy="75.18" r="1.35" fill="#ff0000"/><circle cx="239.36" cy="81.73" r="1.35" fill="#ff0000"/><circle cx="242.64" cy="86.15" r="1.35" fill="#ff0000"/><circle cx="245.93" cy="89.64" r="1.35" fill="#ff0000"/><circle cx="249.21" cy="91.71" r="1.35" fill="#ff0000"/><circle cx="252.50" cy="92.88" r="1.35" fill="#ff0000"/><circle cx="255.79" cy="93.30" r="1.35" fill="#ff0000"/><circle cx="259.07" cy="93.52" r="1.35" fill="#ff0000"/><circle cx="262.36" cy="93.62" r="1.35" fill="#ff0000"/><circle cx="265.64" cy="93.70" r="1.35" fill="#ff0000"/><circle cx="268.93" cy="93.76" r="1.35" fill="#ff0000"/><circle cx="272.21" cy="93.81" r="1.35" fill="#ff0000"/><circle cx="275.50" cy="93.84" r="1.35" fill="#ff0000"/><circle cx="278.79" cy="93.86" r="1.35" fill="#ff0000"/><circle cx="282.07" cy="93.87" r="1.35" fill="#ff0000"/><circle cx="285.36" cy="93.89" r="1.35" fill="#ff0000"/><circle cx="288.64" cy="93.90" r="1.35" fill="#ff0000"/><circle cx="291.93" cy="93.91" r="1.35" fill="#ff0000"/><circle cx="295.21" cy="93.92" r="1.35" fill="#ff0000"/><circle cx="298.50" cy="93.94" r="1.35" fill="#ff0000"/><circle cx="301.79" cy="93.95" r="1.35" fill="#ff0000"/><circle cx="305.07" cy="93.97" r="1.35" fill="#ff0000"/><circle cx="308.36" cy="93.99" r="1.35" fill="#ff0000"/><circle cx="311.64" cy="94.00" r="1.35" fill="#ff0000"/><circle cx="314.93" cy="94.02" r="1.35" fill="#ff0000"/><circle cx="318.21" cy="94.04" r="1.35" fill="#ff0000"/><circle cx="321.50" cy="94.06" r="1.35" fill="#ff0000"/><circle cx="324.79" cy="94.08" r="1.35" fill="#ff0000"/><circle cx="328.07" cy="94.10" r="1.35" fill="#ff0000"/><circle cx="331.36" cy="94.11" r="1.35" fill="#ff0000"/><circle cx="334.64" cy="94.13" r="1.35" fill="#ff0000"/><circle cx="337.93" cy="94.15" r="1.35" fill="#ff0000"/><circle cx="341.21" cy="94.17" r="1.35" fill="#ff0000"/><circle cx="344.50" cy="94.19" r="1.35" fill="#ff0000"/><circle cx="347.79" cy="94.21" r="1.35" fill="#ff0000"/><circle cx="351.07" cy="94.24" r="1.35" fill="#ff0000"/><circle cx="354.36" cy="94.26" r="1.35" fill="#ff0000"/><circle cx="357.64" cy="94.28" r="1.35" fill="#ff0000"/><circle cx="360.93" cy="94.30" r="1.35" fill="#ff0000"/><circle cx="364.21" cy="94.32" r="1.35" fill="#ff0000"/><circle cx="367.50" cy="94.35" r="1.35" fill="#ff0000"/>
<rect x="250.60" y="16.30" width="2.40" height="2.40" fill="#000000"/>
<text x="260.90" y="19.20" font-size="6.3" text-anchor="start" class="lg">PEI</text>
<circle cx="251.80" cy="25.50" r="1.32" fill="#ff0000"/>
<text x="260.90" y="27.20" font-size="6.3" text-anchor="start" class="lg">Fe<tspan font-size="4.00" dy="1.76">3</tspan><tspan dy="-1.76">O</tspan><tspan font-size="4.00" dy="1.76">4</tspan><tspan dy="-1.76">/PEI</tspan></text>
<path d="M251.80 33.50L253.30 36.20L250.30 36.20Z" fill="#0000ff"/>
<text x="260.90" y="36.70" font-size="6.3" text-anchor="start" class="lg">Fe<tspan font-size="4.00" dy="1.76">3</tspan><tspan dy="-1.76">O</tspan><tspan font-size="4.00" dy="1.76">4</tspan><tspan dy="-1.76">@BaTiO</tspan><tspan font-size="4.00" dy="1.76">3</tspan><tspan dy="-1.76">/PEI</tspan></text>
<path d="M251.80 46.30L253.30 43.60L250.30 43.60Z" fill="#ff00ff"/>
<text x="260.90" y="46.50" font-size="6.3" text-anchor="start" class="lg">Fe<tspan font-size="4.00" dy="1.76">3</tspan><tspan dy="-1.76">O</tspan><tspan font-size="4.00" dy="1.76">4</tspan><tspan dy="-1.76">@SiO</tspan><tspan font-size="4.00" dy="1.76">2</tspan><tspan dy="-1.76">/PEI</tspan></text>
<path d="M251.80 52.74L253.36 54.30L251.80 55.86L250.24 54.30Z" fill="#008000"/>
<text x="260.90" y="56.00" font-size="6.3" text-anchor="start" class="lg">Fe<tspan font-size="4.00" dy="1.76">3</tspan><tspan dy="-1.76">O</tspan><tspan font-size="4.00" dy="1.76">4</tspan><tspan dy="-1.76">@BaTiO</tspan><tspan font-size="4.00" dy="1.76">3</tspan><tspan dy="-1.76">@SiO</tspan><tspan font-size="4.00" dy="1.76">2</tspan><tspan dy="-1.76">/PEI</tspan></text>
<rect x="231.00" y="146.80" width="136.70" height="101.90" fill="none" stroke="#555555" stroke-width="1.1"/>
<line x1="228.80" y1="234.14" x2="231.00" y2="234.14" stroke="#555555" stroke-width="0.9"/>
<text x="227.60" y="236.84" font-size="7.8" text-anchor="end" class="ytl">0.0</text>
<line x1="228.80" y1="219.59" x2="231.00" y2="219.59" stroke="#555555" stroke-width="0.9"/>
<text x="227.60" y="222.29" font-size="7.8" text-anchor="end" class="ytl">0.1</text>
<line x1="228.80" y1="205.03" x2="231.00" y2="205.03" stroke="#555555" stroke-width="0.9"/>
<text x="227.60" y="207.73" font-size="7.8" text-anchor="end" class="ytl">0.2</text>
<line x1="228.80" y1="190.47" x2="231.00" y2="190.47" stroke="#555555" stroke-width="0.9"/>
<text x="227.60" y="193.17" font-size="7.8" text-anchor="end" class="ytl">0.3</text>
<line x1="228.80" y1="175.91" x2="231.00" y2="175.91" stroke="#555555" stroke-width="0.9"/>
<text x="227.60" y="178.61" font-size="7.8" text-anchor="end" class="ytl">0.4</text>
<line x1="228.80" y1="161.36" x2="231.00" y2="161.36" stroke="#555555" stroke-width="0.9"/>
<text x="227.60" y="164.06" font-size="7.8" text-anchor="end" class="ytl">0.5</text>
<line x1="228.80" y1="146.80" x2="231.00" y2="146.80" stroke="#555555" stroke-width="0.9"/>
<text x="227.60" y="149.50" font-size="7.8" text-anchor="end" class="ytl">0.6</text>
<line x1="229.80" y1="241.42" x2="231.00" y2="241.42" stroke="#555555" stroke-width="0.6"/>
<line x1="229.80" y1="226.86" x2="231.00" y2="226.86" stroke="#555555" stroke-width="0.6"/>
<line x1="229.80" y1="212.31" x2="231.00" y2="212.31" stroke="#555555" stroke-width="0.6"/>
<line x1="229.80" y1="197.75" x2="231.00" y2="197.75" stroke="#555555" stroke-width="0.6"/>
<line x1="229.80" y1="183.19" x2="231.00" y2="183.19" stroke="#555555" stroke-width="0.6"/>
<line x1="229.80" y1="168.64" x2="231.00" y2="168.64" stroke="#555555" stroke-width="0.6"/>
<line x1="229.80" y1="154.08" x2="231.00" y2="154.08" stroke="#555555" stroke-width="0.6"/>
<line x1="231.00" y1="248.70" x2="231.00" y2="250.90" stroke="#555555" stroke-width="0.9"/>
<text x="227.10" y="259.50" font-size="7.8" text-anchor="start" class="xtl">10<tspan font-size="4.80" dy="-4.29">0</tspan></text>
<line x1="237.86" y1="248.70" x2="237.86" y2="249.90" stroke="#555555" stroke-width="0.6"/>
<line x1="241.87" y1="248.70" x2="241.87" y2="249.90" stroke="#555555" stroke-width="0.6"/>
<line x1="244.72" y1="248.70" x2="244.72" y2="249.90" stroke="#555555" stroke-width="0.6"/>
<line x1="246.92" y1="248.70" x2="246.92" y2="249.90" stroke="#555555" stroke-width="0.6"/>
<line x1="248.73" y1="248.70" x2="248.73" y2="249.90" stroke="#555555" stroke-width="0.6"/>
<line x1="250.25" y1="248.70" x2="250.25" y2="249.90" stroke="#555555" stroke-width="0.6"/>
<line x1="251.58" y1="248.70" x2="251.58" y2="249.90" stroke="#555555" stroke-width="0.6"/>
<line x1="252.74" y1="248.70" x2="252.74" y2="249.90" stroke="#555555" stroke-width="0.6"/>
<line x1="253.78" y1="248.70" x2="253.78" y2="250.90" stroke="#555555" stroke-width="0.9"/>
<text x="249.88" y="259.50" font-size="7.8" text-anchor="start" class="xtl">10<tspan font-size="4.80" dy="-4.29">1</tspan></text>
<line x1="260.64" y1="248.70" x2="260.64" y2="249.90" stroke="#555555" stroke-width="0.6"/>
<line x1="264.65" y1="248.70" x2="264.65" y2="249.90" stroke="#555555" stroke-width="0.6"/>
<line x1="267.50" y1="248.70" x2="267.50" y2="249.90" stroke="#555555" stroke-width="0.6"/>
<line x1="269.71" y1="248.70" x2="269.71" y2="249.90" stroke="#555555" stroke-width="0.6"/>
<line x1="271.51" y1="248.70" x2="271.51" y2="249.90" stroke="#555555" stroke-width="0.6"/>
<line x1="273.04" y1="248.70" x2="273.04" y2="249.90" stroke="#555555" stroke-width="0.6"/>
<line x1="274.36" y1="248.70" x2="274.36" y2="249.90" stroke="#555555" stroke-width="0.6"/>
<line x1="275.52" y1="248.70" x2="275.52" y2="249.90" stroke="#555555" stroke-width="0.6"/>
<line x1="276.57" y1="248.70" x2="276.57" y2="250.90" stroke="#555555" stroke-width="0.9"/>
<text x="272.67" y="259.50" font-size="7.8" text-anchor="start" class="xtl">10<tspan font-size="4.80" dy="-4.29">2</tspan></text>
<line x1="283.43" y1="248.70" x2="283.43" y2="249.90" stroke="#555555" stroke-width="0.6"/>
<line x1="287.44" y1="248.70" x2="287.44" y2="249.90" stroke="#555555" stroke-width="0.6"/>
<line x1="290.28" y1="248.70" x2="290.28" y2="249.90" stroke="#555555" stroke-width="0.6"/>
<line x1="292.49" y1="248.70" x2="292.49" y2="249.90" stroke="#555555" stroke-width="0.6"/>
<line x1="294.30" y1="248.70" x2="294.30" y2="249.90" stroke="#555555" stroke-width="0.6"/>
<line x1="295.82" y1="248.70" x2="295.82" y2="249.90" stroke="#555555" stroke-width="0.6"/>
<line x1="297.14" y1="248.70" x2="297.14" y2="249.90" stroke="#555555" stroke-width="0.6"/>
<line x1="298.31" y1="248.70" x2="298.31" y2="249.90" stroke="#555555" stroke-width="0.6"/>
<line x1="299.35" y1="248.70" x2="299.35" y2="250.90" stroke="#555555" stroke-width="0.9"/>
<text x="295.45" y="259.50" font-size="7.8" text-anchor="start" class="xtl">10<tspan font-size="4.80" dy="-4.29">3</tspan></text>
<line x1="306.21" y1="248.70" x2="306.21" y2="249.90" stroke="#555555" stroke-width="0.6"/>
<line x1="310.22" y1="248.70" x2="310.22" y2="249.90" stroke="#555555" stroke-width="0.6"/>
<line x1="313.07" y1="248.70" x2="313.07" y2="249.90" stroke="#555555" stroke-width="0.6"/>
<line x1="315.27" y1="248.70" x2="315.27" y2="249.90" stroke="#555555" stroke-width="0.6"/>
<line x1="317.08" y1="248.70" x2="317.08" y2="249.90" stroke="#555555" stroke-width="0.6"/>
<line x1="318.60" y1="248.70" x2="318.60" y2="249.90" stroke="#555555" stroke-width="0.6"/>
<line x1="319.93" y1="248.70" x2="319.93" y2="249.90" stroke="#555555" stroke-width="0.6"/>
<line x1="321.09" y1="248.70" x2="321.09" y2="249.90" stroke="#555555" stroke-width="0.6"/>
<line x1="322.13" y1="248.70" x2="322.13" y2="250.90" stroke="#555555" stroke-width="0.9"/>
<text x="318.23" y="259.50" font-size="7.8" text-anchor="start" class="xtl">10<tspan font-size="4.80" dy="-4.29">4</tspan></text>
<line x1="328.99" y1="248.70" x2="328.99" y2="249.90" stroke="#555555" stroke-width="0.6"/>
<line x1="333.00" y1="248.70" x2="333.00" y2="249.90" stroke="#555555" stroke-width="0.6"/>
<line x1="335.85" y1="248.70" x2="335.85" y2="249.90" stroke="#555555" stroke-width="0.6"/>
<line x1="338.06" y1="248.70" x2="338.06" y2="249.90" stroke="#555555" stroke-width="0.6"/>
<line x1="339.86" y1="248.70" x2="339.86" y2="249.90" stroke="#555555" stroke-width="0.6"/>
<line x1="341.39" y1="248.70" x2="341.39" y2="249.90" stroke="#555555" stroke-width="0.6"/>
<line x1="342.71" y1="248.70" x2="342.71" y2="249.90" stroke="#555555" stroke-width="0.6"/>
<line x1="343.87" y1="248.70" x2="343.87" y2="249.90" stroke="#555555" stroke-width="0.6"/>
<line x1="344.92" y1="248.70" x2="344.92" y2="250.90" stroke="#555555" stroke-width="0.9"/>
<text x="341.02" y="259.50" font-size="7.8" text-anchor="start" class="xtl">10<tspan font-size="4.80" dy="-4.29">5</tspan></text>
<line x1="351.78" y1="248.70" x2="351.78" y2="249.90" stroke="#555555" stroke-width="0.6"/>
<line x1="355.79" y1="248.70" x2="355.79" y2="249.90" stroke="#555555" stroke-width="0.6"/>
<line x1="358.63" y1="248.70" x2="358.63" y2="249.90" stroke="#555555" stroke-width="0.6"/>
<line x1="360.84" y1="248.70" x2="360.84" y2="249.90" stroke="#555555" stroke-width="0.6"/>
<line x1="362.65" y1="248.70" x2="362.65" y2="249.90" stroke="#555555" stroke-width="0.6"/>
<line x1="364.17" y1="248.70" x2="364.17" y2="249.90" stroke="#555555" stroke-width="0.6"/>
<line x1="365.49" y1="248.70" x2="365.49" y2="249.90" stroke="#555555" stroke-width="0.6"/>
<line x1="366.66" y1="248.70" x2="366.66" y2="249.90" stroke="#555555" stroke-width="0.6"/>
<line x1="367.70" y1="248.70" x2="367.70" y2="250.90" stroke="#555555" stroke-width="0.9"/>
<text x="363.80" y="259.50" font-size="7.8" text-anchor="start" class="xtl">10<tspan font-size="4.80" dy="-4.29">6</tspan></text>
<text x="212.85" y="201.75" font-size="8.1" text-anchor="middle" transform="rotate(-90 212.85 201.75)" class="yt">Dielectric Loss</text>
<text x="299.80" y="272.30" font-size="8.1" text-anchor="middle" class="xt">Frequency (Hz)</text>
<text x="201.05" y="154.10" font-size="17" text-anchor="middle" class="pl">(e)</text>
<text x="365.30" y="155.10" font-size="6.2" text-anchor="end" class="at">@ 9 wt%</text>
<rect x="229.78" y="232.34" width="2.45" height="2.45" fill="#000000"/><rect x="233.03" y="232.34" width="2.45" height="2.45" fill="#000000"/><rect x="236.28" y="232.34" width="2.45" height="2.45" fill="#000000"/><rect x="239.54" y="232.34" width="2.45" height="2.45" fill="#000000"/><rect x="242.79" y="232.34" width="2.45" height="2.45" fill="#000000"/><rect x="246.05" y="232.34" width="2.45" height="2.45" fill="#000000"/><rect x="249.30" y="232.34" width="2.45" height="2.45" fill="#000000"/><rect x="252.56" y="232.34" width="2.45" height="2.45" fill="#000000"/><rect x="255.81" y="232.34" width="2.45" height="2.45" fill="#000000"/><rect x="259.07" y="232.34" width="2.45" height="2.45" fill="#000000"/><rect x="262.32" y="232.34" width="2.45" height="2.45" fill="#000000"/><rect x="265.58" y="232.34" width="2.45" height="2.45" fill="#000000"/><rect x="268.83" y="232.34" width="2.45" height="2.45" fill="#000000"/><rect x="272.09" y="232.34" width="2.45" height="2.45" fill="#000000"/><rect x="275.34" y="232.34" width="2.45" height="2.45" fill="#000000"/><rect x="278.60" y="232.34" width="2.45" height="2.45" fill="#000000"/><rect x="281.85" y="232.34" width="2.45" height="2.45" fill="#000000"/><rect x="285.11" y="232.34" width="2.45" height="2.45" fill="#000000"/><rect x="288.36" y="232.34" width="2.45" height="2.45" fill="#000000"/><rect x="291.62" y="232.34" width="2.45" height="2.45" fill="#000000"/><rect x="294.87" y="232.34" width="2.45" height="2.45" fill="#000000"/><rect x="298.12" y="232.34" width="2.45" height="2.45" fill="#000000"/><rect x="301.38" y="232.33" width="2.45" height="2.45" fill="#000000"/><rect x="304.63" y="232.32" width="2.45" height="2.45" fill="#000000"/><rect x="307.89" y="232.31" width="2.45" height="2.45" fill="#000000"/><rect x="311.14" y="232.28" width="2.45" height="2.45" fill="#000000"/><rect x="314.40" y="232.26" width="2.45" height="2.45" fill="#000000"/><rect x="317.65" y="232.22" width="2.45" height="2.45" fill="#000000"/><rect x="320.91" y="232.19" width="2.45" height="2.45" fill="#000000"/><rect x="324.16" y="232.15" width="2.45" height="2.45" fill="#000000"/><rect x="327.42" y="232.11" width="2.45" height="2.45" fill="#000000"/><rect x="330.67" y="232.07" width="2.45" height="2.45" fill="#000000"/><rect x="333.93" y="232.02" width="2.45" height="2.45" fill="#000000"/><rect x="337.18" y="231.96" width="2.45" height="2.45" fill="#000000"/><rect x="340.44" y="231.88" width="2.45" height="2.45" fill="#000000"/><rect x="343.69" y="231.79" width="2.45" height="2.45" fill="#000000"/><rect x="346.95" y="231.69" width="2.45" height="2.45" fill="#000000"/><rect x="350.20" y="231.57" width="2.45" height="2.45" fill="#000000"/><rect x="353.46" y="231.45" width="2.45" height="2.45" fill="#000000"/><rect x="356.71" y="231.32" width="2.45" height="2.45" fill="#000000"/><rect x="359.97" y="231.18" width="2.45" height="2.45" fill="#000000"/><rect x="363.22" y="231.03" width="2.45" height="2.45" fill="#000000"/><rect x="366.47" y="230.88" width="2.45" height="2.45" fill="#000000"/>
<path d="M231.00 225.34L232.53 222.58L229.47 222.58Z" fill="#ff00ff"/><path d="M234.25 225.93L235.79 223.17L232.72 223.17Z" fill="#ff00ff"/><path d="M237.51 226.71L239.04 223.96L235.98 223.96Z" fill="#ff00ff"/><path d="M240.76 227.66L242.30 224.90L239.23 224.90Z" fill="#ff00ff"/><path d="M244.02 228.64L245.55 225.88L242.49 225.88Z" fill="#ff00ff"/><path d="M247.27 229.58L248.81 226.82L245.74 226.82Z" fill="#ff00ff"/><path d="M250.53 230.21L252.06 227.46L249.00 227.46Z" fill="#ff00ff"/><path d="M253.78 230.70L255.31 227.94L252.25 227.94Z" fill="#ff00ff"/><path d="M257.04 231.11L258.57 228.35L255.51 228.35Z" fill="#ff00ff"/><path d="M260.29 231.46L261.82 228.71L258.76 228.71Z" fill="#ff00ff"/><path d="M263.55 231.78L265.08 229.02L262.02 229.02Z" fill="#ff00ff"/><path d="M266.80 232.07L268.33 229.31L265.27 229.31Z" fill="#ff00ff"/><path d="M270.06 232.35L271.59 229.59L268.53 229.59Z" fill="#ff00ff"/><path d="M273.31 232.63L274.84 229.87L271.78 229.87Z" fill="#ff00ff"/><path d="M276.57 232.89L278.10 230.14L275.04 230.14Z" fill="#ff00ff"/><path d="M279.82 233.12L281.35 230.36L278.29 230.36Z" fill="#ff00ff"/><path d="M283.08 233.28L284.61 230.52L281.54 230.52Z" fill="#ff00ff"/><path d="M286.33 233.37L287.86 230.61L284.80 230.61Z" fill="#ff00ff"/><path d="M289.59 233.43L291.12 230.67L288.05 230.67Z" fill="#ff00ff"/><path d="M292.84 233.48L294.37 230.73L291.31 230.73Z" fill="#ff00ff"/><path d="M296.10 233.53L297.63 230.78L294.56 230.78Z" fill="#ff00ff"/><path d="M299.35 233.57L300.88 230.82L297.82 230.82Z" fill="#ff00ff"/><path d="M302.60 233.60L304.14 230.85L301.07 230.85Z" fill="#ff00ff"/><path d="M305.86 233.62L307.39 230.87L304.33 230.87Z" fill="#ff00ff"/><path d="M309.11 233.63L310.65 230.88L307.58 230.88Z" fill="#ff00ff"/><path d="M312.37 233.63L313.90 230.88L310.84 230.88Z" fill="#ff00ff"/><path d="M315.62 233.62L317.16 230.86L314.09 230.86Z" fill="#ff00ff"/><path d="M318.88 233.59L320.41 230.83L317.35 230.83Z" fill="#ff00ff"/><path d="M322.13 233.55L323.66 230.79L320.60 230.79Z" fill="#ff00ff"/><path d="M325.39 233.50L326.92 230.74L323.86 230.74Z" fill="#ff00ff"/><path d="M328.64 233.44L330.17 230.69L327.11 230.69Z" fill="#ff00ff"/><path d="M331.90 233.38L333.43 230.62L330.37 230.62Z" fill="#ff00ff"/><path d="M335.15 233.31L336.68 230.55L333.62 230.55Z" fill="#ff00ff"/><path d="M338.41 233.19L339.94 230.44L336.88 230.44Z" fill="#ff00ff"/><path d="M341.66 233.04L343.19 230.29L340.13 230.29Z" fill="#ff00ff"/><path d="M344.92 232.87L346.45 230.11L343.39 230.11Z" fill="#ff00ff"/><path d="M348.17 232.68L349.70 229.93L346.64 229.93Z" fill="#ff00ff"/><path d="M351.43 232.49L352.96 229.73L349.89 229.73Z" fill="#ff00ff"/><path d="M354.68 232.29L356.21 229.54L353.15 229.54Z" fill="#ff00ff"/><path d="M357.94 232.07L359.47 229.32L356.40 229.32Z" fill="#ff00ff"/><path d="M361.19 231.83L362.72 229.08L359.66 229.08Z" fill="#ff00ff"/><path d="M364.45 231.58L365.98 228.82L362.91 228.82Z" fill="#ff00ff"/><path d="M367.70 231.31L369.23 228.55L366.17 228.55Z" fill="#ff00ff"/>
<path d="M231.00 216.60L232.53 219.35L229.47 219.35Z" fill="#0000ff"/><path d="M234.25 217.32L235.79 220.08L232.72 220.08Z" fill="#0000ff"/><path d="M237.51 218.06L239.04 220.82L235.98 220.82Z" fill="#0000ff"/><path d="M240.76 218.83L242.30 221.59L239.23 221.59Z" fill="#0000ff"/><path d="M244.02 219.63L245.55 222.39L242.49 222.39Z" fill="#0000ff"/><path d="M247.27 220.44L248.81 223.20L245.74 223.20Z" fill="#0000ff"/><path d="M250.53 221.27L252.06 224.03L249.00 224.03Z" fill="#0000ff"/><path d="M253.78 222.09L255.31 224.84L252.25 224.84Z" fill="#0000ff"/><path d="M257.04 222.74L258.57 225.50L255.51 225.50Z" fill="#0000ff"/><path d="M260.29 223.27L261.82 226.03L258.76 226.03Z" fill="#0000ff"/><path d="M263.55 223.73L265.08 226.49L262.02 226.49Z" fill="#0000ff"/><path d="M266.80 224.15L268.33 226.91L265.27 226.91Z" fill="#0000ff"/><path d="M270.06 224.55L271.59 227.30L268.53 227.30Z" fill="#0000ff"/><path d="M273.31 224.93L274.84 227.69L271.78 227.69Z" fill="#0000ff"/><path d="M276.57 225.30L278.10 228.05L275.04 228.05Z" fill="#0000ff"/><path d="M279.82 225.63L281.35 228.38L278.29 228.38Z" fill="#0000ff"/><path d="M283.08 225.91L284.61 228.66L281.54 228.66Z" fill="#0000ff"/><path d="M286.33 226.13L287.86 228.89L284.80 228.89Z" fill="#0000ff"/><path d="M289.59 226.33L291.12 229.08L288.05 229.08Z" fill="#0000ff"/><path d="M292.84 226.50L294.37 229.26L291.31 229.26Z" fill="#0000ff"/><path d="M296.10 226.66L297.63 229.42L294.56 229.42Z" fill="#0000ff"/><path d="M299.35 226.80L300.88 229.56L297.82 229.56Z" fill="#0000ff"/><path d="M302.60 226.94L304.14 229.69L301.07 229.69Z" fill="#0000ff"/><path d="M305.86 227.06L307.39 229.81L304.33 229.81Z" fill="#0000ff"/><path d="M309.11 227.17L310.65 229.93L307.58 229.93Z" fill="#0000ff"/><path d="M312.37 227.28L313.90 230.03L310.84 230.03Z" fill="#0000ff"/><path d="M315.62 227.37L317.16 230.13L314.09 230.13Z" fill="#0000ff"/><path d="M318.88 227.46L320.41 230.21L317.35 230.21Z" fill="#0000ff"/><path d="M322.13 227.53L323.66 230.29L320.60 230.29Z" fill="#0000ff"/><path d="M325.39 227.61L326.92 230.37L323.86 230.37Z" fill="#0000ff"/><path d="M328.64 227.69L330.17 230.44L327.11 230.44Z" fill="#0000ff"/><path d="M331.90 227.77L333.43 230.52L330.37 230.52Z" fill="#0000ff"/><path d="M335.15 227.86L336.68 230.61L333.62 230.61Z" fill="#0000ff"/><path d="M338.41 227.97L339.94 230.72L336.88 230.72Z" fill="#0000ff"/><path d="M341.66 228.08L343.19 230.84L340.13 230.84Z" fill="#0000ff"/><path d="M344.92 228.18L346.45 230.94L343.39 230.94Z" fill="#0000ff"/><path d="M348.17 228.24L349.70 231.00L346.64 231.00Z" fill="#0000ff"/><path d="M351.43 228.24L352.96 231.00L349.89 231.00Z" fill="#0000ff"/><path d="M354.68 228.24L356.21 231.00L353.15 231.00Z" fill="#0000ff"/><path d="M357.94 228.24L359.47 231.00L356.40 231.00Z" fill="#0000ff"/><path d="M361.19 228.24L362.72 231.00L359.66 231.00Z" fill="#0000ff"/><path d="M364.45 228.24L365.98 231.00L362.91 231.00Z" fill="#0000ff"/><path d="M367.70 228.24L369.23 231.00L366.17 231.00Z" fill="#0000ff"/>
<path d="M231.00 215.81L232.59 217.40L231.00 218.99L229.41 217.40Z" fill="#008000"/><path d="M234.25 218.13L235.85 219.73L234.25 221.32L232.66 219.73Z" fill="#008000"/><path d="M237.51 220.40L239.10 221.99L237.51 223.58L235.92 221.99Z" fill="#008000"/><path d="M240.76 222.49L242.36 224.08L240.76 225.67L239.17 224.08Z" fill="#008000"/><path d="M244.02 224.25L245.61 225.84L244.02 227.44L242.43 225.84Z" fill="#008000"/><path d="M247.27 225.27L248.87 226.86L247.27 228.45L245.68 226.86Z" fill="#008000"/><path d="M250.53 226.04L252.12 227.63L250.53 229.22L248.94 227.63Z" fill="#008000"/><path d="M253.78 226.87L255.38 228.47L253.78 230.06L252.19 228.47Z" fill="#008000"/><path d="M257.04 227.44L258.63 229.04L257.04 230.63L255.45 229.04Z" fill="#008000"/><path d="M260.29 227.83L261.89 229.42L260.29 231.01L258.70 229.42Z" fill="#008000"/><path d="M263.55 228.13L265.14 229.72L263.55 231.32L261.96 229.72Z" fill="#008000"/><path d="M266.80 228.38L268.39 229.97L266.80 231.57L265.21 229.97Z" fill="#008000"/><path d="M270.06 228.60L271.65 230.19L270.06 231.79L268.46 230.19Z" fill="#008000"/><path d="M273.31 228.80L274.90 230.39L273.31 231.99L271.72 230.39Z" fill="#008000"/><path d="M276.57 228.98L278.16 230.57L276.57 232.17L274.97 230.57Z" fill="#008000"/><path d="M279.82 229.14L281.41 230.73L279.82 232.32L278.23 230.73Z" fill="#008000"/><path d="M283.08 229.27L284.67 230.87L283.08 232.46L281.48 230.87Z" fill="#008000"/><path d="M286.33 229.38L287.92 230.98L286.33 232.57L284.74 230.98Z" fill="#008000"/><path d="M289.59 229.49L291.18 231.08L289.59 232.68L287.99 231.08Z" fill="#008000"/><path d="M292.84 229.59L294.43 231.19L292.84 232.78L291.25 231.19Z" fill="#008000"/><path d="M296.10 229.69L297.69 231.28L296.10 232.88L294.50 231.28Z" fill="#008000"/><path d="M299.35 229.78L300.94 231.37L299.35 232.96L297.76 231.37Z" fill="#008000"/><path d="M302.60 229.85L304.20 231.44L302.60 233.03L301.01 231.44Z" fill="#008000"/><path d="M305.86 229.90L307.45 231.49L305.86 233.08L304.27 231.49Z" fill="#008000"/><path d="M309.11 229.93L310.71 231.52L309.11 233.11L307.52 231.52Z" fill="#008000"/><path d="M312.37 229.93L313.96 231.52L312.37 233.11L310.78 231.52Z" fill="#008000"/><path d="M315.62 229.91L317.22 231.50L315.62 233.09L314.03 231.50Z" fill="#008000"/><path d="M318.88 229.86L320.47 231.46L318.88 233.05L317.29 231.46Z" fill="#008000"/><path d="M322.13 229.80L323.73 231.40L322.13 232.99L320.54 231.40Z" fill="#008000"/><path d="M325.39 229.73L326.98 231.32L325.39 232.92L323.80 231.32Z" fill="#008000"/><path d="M328.64 229.65L330.24 231.24L328.64 232.83L327.05 231.24Z" fill="#008000"/><path d="M331.90 229.50L333.49 231.10L331.90 232.69L330.31 231.10Z" fill="#008000"/><path d="M335.15 229.25L336.74 230.84L335.15 232.43L333.56 230.84Z" fill="#008000"/><path d="M338.41 228.91L340.00 230.51L338.41 232.10L336.81 230.51Z" fill="#008000"/><path d="M341.66 228.55L343.25 230.14L341.66 231.73L340.07 230.14Z" fill="#008000"/><path d="M344.92 228.18L346.51 229.78L344.92 231.37L343.32 229.78Z" fill="#008000"/><path d="M348.17 227.80L349.76 229.39L348.17 230.99L346.58 229.39Z" fill="#008000"/><path d="M351.43 227.38L353.02 228.97L351.43 230.56L349.83 228.97Z" fill="#008000"/><path d="M354.68 226.94L356.27 228.53L354.68 230.12L353.09 228.53Z" fill="#008000"/><path d="M357.94 226.52L359.53 228.11L357.94 229.70L356.34 228.11Z" fill="#008000"/><path d="M361.19 226.10L362.78 227.70L361.19 229.29L359.60 227.70Z" fill="#008000"/><path d="M364.45 225.69L366.04 227.28L364.45 228.87L362.85 227.28Z" fill="#008000"/><path d="M367.70 225.27L369.29 226.86L367.70 228.46L366.11 226.86Z" fill="#008000"/>
<circle cx="231.00" cy="182.32" r="1.35" fill="#ff0000"/><circle cx="234.25" cy="183.18" r="1.35" fill="#ff0000"/><circle cx="237.51" cy="186.70" r="1.35" fill="#ff0000"/><circle cx="240.76" cy="192.95" r="1.35" fill="#ff0000"/><circle cx="244.02" cy="196.91" r="1.35" fill="#ff0000"/><circle cx="247.27" cy="199.51" r="1.35" fill="#ff0000"/><circle cx="250.53" cy="202.01" r="1.35" fill="#ff0000"/><circle cx="253.78" cy="204.49" r="1.35" fill="#ff0000"/><circle cx="257.04" cy="207.29" r="1.35" fill="#ff0000"/><circle cx="260.29" cy="209.33" r="1.35" fill="#ff0000"/><circle cx="263.55" cy="211.23" r="1.35" fill="#ff0000"/><circle cx="266.80" cy="212.72" r="1.35" fill="#ff0000"/><circle cx="270.06" cy="213.79" r="1.35" fill="#ff0000"/><circle cx="273.31" cy="214.61" r="1.35" fill="#ff0000"/><circle cx="276.57" cy="215.20" r="1.35" fill="#ff0000"/><circle cx="279.82" cy="215.64" r="1.35" fill="#ff0000"/><circle cx="283.08" cy="215.87" r="1.35" fill="#ff0000"/><circle cx="286.33" cy="215.96" r="1.35" fill="#ff0000"/><circle cx="289.59" cy="216.01" r="1.35" fill="#ff0000"/><circle cx="292.84" cy="216.05" r="1.35" fill="#ff0000"/><circle cx="296.10" cy="216.08" r="1.35" fill="#ff0000"/><circle cx="299.35" cy="216.10" r="1.35" fill="#ff0000"/><circle cx="302.60" cy="216.12" r="1.35" fill="#ff0000"/><circle cx="305.86" cy="216.14" r="1.35" fill="#ff0000"/><circle cx="309.11" cy="216.15" r="1.35" fill="#ff0000"/><circle cx="312.37" cy="216.17" r="1.35" fill="#ff0000"/><circle cx="315.62" cy="216.19" r="1.35" fill="#ff0000"/><circle cx="318.88" cy="216.21" r="1.35" fill="#ff0000"/><circle cx="322.13" cy="216.24" r="1.35" fill="#ff0000"/><circle cx="325.39" cy="216.27" r="1.35" fill="#ff0000"/><circle cx="328.64" cy="216.31" r="1.35" fill="#ff0000"/><circle cx="331.90" cy="216.35" r="1.35" fill="#ff0000"/><circle cx="335.15" cy="216.39" r="1.35" fill="#ff0000"/><circle cx="338.41" cy="216.43" r="1.35" fill="#ff0000"/><circle cx="341.66" cy="216.48" r="1.35" fill="#ff0000"/><circle cx="344.92" cy="216.53" r="1.35" fill="#ff0000"/><circle cx="348.17" cy="216.58" r="1.35" fill="#ff0000"/><circle cx="351.43" cy="216.64" r="1.35" fill="#ff0000"/><circle cx="354.68" cy="216.70" r="1.35" fill="#ff0000"/><circle cx="357.94" cy="216.76" r="1.35" fill="#ff0000"/><circle cx="361.19" cy="216.82" r="1.35" fill="#ff0000"/><circle cx="364.45" cy="216.89" r="1.35" fill="#ff0000"/><circle cx="367.70" cy="216.97" r="1.35" fill="#ff0000"/>
<rect x="252.30" y="155.60" width="2.40" height="2.40" fill="#000000"/>
<text x="262.30" y="158.50" font-size="6.3" text-anchor="start" class="lg">PEI</text>
<circle cx="253.50" cy="164.10" r="1.32" fill="#ff0000"/>
<text x="262.30" y="165.80" font-size="6.3" text-anchor="start" class="lg">Fe<tspan font-size="4.00" dy="1.76">3</tspan><tspan dy="-1.76">O</tspan><tspan font-size="4.00" dy="1.76">4</tspan><tspan dy="-1.76">/PEI</tspan></text>
<path d="M253.50 172.20L255.00 174.90L252.00 174.90Z" fill="#0000ff"/>
<text x="262.30" y="175.40" font-size="6.3" text-anchor="start" class="lg">Fe<tspan font-size="4.00" dy="1.76">3</tspan><tspan dy="-1.76">O</tspan><tspan font-size="4.00" dy="1.76">4</tspan><tspan dy="-1.76">@BaTiO</tspan><tspan font-size="4.00" dy="1.76">3</tspan><tspan dy="-1.76">/PEI</tspan></text>
<path d="M253.50 185.00L255.00 182.30L252.00 182.30Z" fill="#ff00ff"/>
<text x="262.30" y="185.20" font-size="6.3" text-anchor="start" class="lg">Fe<tspan font-size="4.00" dy="1.76">3</tspan><tspan dy="-1.76">O</tspan><tspan font-size="4.00" dy="1.76">4</tspan><tspan dy="-1.76">@SiO</tspan><tspan font-size="4.00" dy="1.76">2</tspan><tspan dy="-1.76">/PEI</tspan></text>
<path d="M253.50 191.64L255.06 193.20L253.50 194.76L251.94 193.20Z" fill="#008000"/>
<text x="262.30" y="194.90" font-size="6.3" text-anchor="start" class="lg">Fe<tspan font-size="4.00" dy="1.76">3</tspan><tspan dy="-1.76">O</tspan><tspan font-size="4.00" dy="1.76">4</tspan><tspan dy="-1.76">@BaTiO</tspan><tspan font-size="4.00" dy="1.76">3</tspan><tspan dy="-1.76">@SiO</tspan><tspan font-size="4.00" dy="1.76">2</tspan><tspan dy="-1.76">/PEI</tspan></text>
<rect x="230.00" y="281.40" width="137.60" height="101.90" fill="none" stroke="#555555" stroke-width="1.1"/>
<line x1="227.80" y1="281.40" x2="230.00" y2="281.40" stroke="#555555" stroke-width="0.9"/>
<text x="227.60" y="284.70" font-size="7.8" text-anchor="end" class="ytg">10<tspan font-size="4.80" dy="-4.29">-1</tspan></text>
<line x1="227.80" y1="298.38" x2="230.00" y2="298.38" stroke="#555555" stroke-width="0.9"/>
<text x="227.60" y="301.68" font-size="7.8" text-anchor="end" class="ytg">10<tspan font-size="4.80" dy="-4.29">-3</tspan></text>
<line x1="227.80" y1="315.37" x2="230.00" y2="315.37" stroke="#555555" stroke-width="0.9"/>
<text x="227.60" y="318.67" font-size="7.8" text-anchor="end" class="ytg">10<tspan font-size="4.80" dy="-4.29">-5</tspan></text>
<line x1="227.80" y1="332.35" x2="230.00" y2="332.35" stroke="#555555" stroke-width="0.9"/>
<text x="227.60" y="335.65" font-size="7.8" text-anchor="end" class="ytg">10<tspan font-size="4.80" dy="-4.29">-7</tspan></text>
<line x1="227.80" y1="349.33" x2="230.00" y2="349.33" stroke="#555555" stroke-width="0.9"/>
<text x="227.60" y="352.63" font-size="7.8" text-anchor="end" class="ytg">10<tspan font-size="4.80" dy="-4.29">-9</tspan></text>
<line x1="227.80" y1="366.32" x2="230.00" y2="366.32" stroke="#555555" stroke-width="0.9"/>
<text x="227.60" y="369.62" font-size="7.8" text-anchor="end" class="ytg">10<tspan font-size="4.80" dy="-4.29">-11</tspan></text>
<line x1="227.80" y1="383.30" x2="230.00" y2="383.30" stroke="#555555" stroke-width="0.9"/>
<text x="227.60" y="386.60" font-size="7.8" text-anchor="end" class="ytg">10<tspan font-size="4.80" dy="-4.29">-13</tspan></text>
<line x1="228.80" y1="289.89" x2="230.00" y2="289.89" stroke="#555555" stroke-width="0.6"/>
<line x1="228.80" y1="306.88" x2="230.00" y2="306.88" stroke="#555555" stroke-width="0.6"/>
<line x1="228.80" y1="323.86" x2="230.00" y2="323.86" stroke="#555555" stroke-width="0.6"/>
<line x1="228.80" y1="340.84" x2="230.00" y2="340.84" stroke="#555555" stroke-width="0.6"/>
<line x1="228.80" y1="357.82" x2="230.00" y2="357.82" stroke="#555555" stroke-width="0.6"/>
<line x1="228.80" y1="374.81" x2="230.00" y2="374.81" stroke="#555555" stroke-width="0.6"/>
<line x1="230.00" y1="383.30" x2="230.00" y2="385.50" stroke="#555555" stroke-width="0.9"/>
<text x="226.10" y="394.30" font-size="7.8" text-anchor="start" class="xtl">10<tspan font-size="4.80" dy="-4.29">0</tspan></text>
<line x1="236.90" y1="383.30" x2="236.90" y2="384.50" stroke="#555555" stroke-width="0.6"/>
<line x1="240.94" y1="383.30" x2="240.94" y2="384.50" stroke="#555555" stroke-width="0.6"/>
<line x1="243.81" y1="383.30" x2="243.81" y2="384.50" stroke="#555555" stroke-width="0.6"/>
<line x1="246.03" y1="383.30" x2="246.03" y2="384.50" stroke="#555555" stroke-width="0.6"/>
<line x1="247.85" y1="383.30" x2="247.85" y2="384.50" stroke="#555555" stroke-width="0.6"/>
<line x1="249.38" y1="383.30" x2="249.38" y2="384.50" stroke="#555555" stroke-width="0.6"/>
<line x1="250.71" y1="383.30" x2="250.71" y2="384.50" stroke="#555555" stroke-width="0.6"/>
<line x1="251.88" y1="383.30" x2="251.88" y2="384.50" stroke="#555555" stroke-width="0.6"/>
<line x1="252.93" y1="383.30" x2="252.93" y2="385.50" stroke="#555555" stroke-width="0.9"/>
<text x="249.03" y="394.30" font-size="7.8" text-anchor="start" class="xtl">10<tspan font-size="4.80" dy="-4.29">1</tspan></text>
<line x1="259.84" y1="383.30" x2="259.84" y2="384.50" stroke="#555555" stroke-width="0.6"/>
<line x1="263.88" y1="383.30" x2="263.88" y2="384.50" stroke="#555555" stroke-width="0.6"/>
<line x1="266.74" y1="383.30" x2="266.74" y2="384.50" stroke="#555555" stroke-width="0.6"/>
<line x1="268.96" y1="383.30" x2="268.96" y2="384.50" stroke="#555555" stroke-width="0.6"/>
<line x1="270.78" y1="383.30" x2="270.78" y2="384.50" stroke="#555555" stroke-width="0.6"/>
<line x1="272.31" y1="383.30" x2="272.31" y2="384.50" stroke="#555555" stroke-width="0.6"/>
<line x1="273.64" y1="383.30" x2="273.64" y2="384.50" stroke="#555555" stroke-width="0.6"/>
<line x1="274.82" y1="383.30" x2="274.82" y2="384.50" stroke="#555555" stroke-width="0.6"/>
<line x1="275.87" y1="383.30" x2="275.87" y2="385.50" stroke="#555555" stroke-width="0.9"/>
<text x="271.97" y="394.30" font-size="7.8" text-anchor="start" class="xtl">10<tspan font-size="4.80" dy="-4.29">2</tspan></text>
<line x1="282.77" y1="383.30" x2="282.77" y2="384.50" stroke="#555555" stroke-width="0.6"/>
<line x1="286.81" y1="383.30" x2="286.81" y2="384.50" stroke="#555555" stroke-width="0.6"/>
<line x1="289.67" y1="383.30" x2="289.67" y2="384.50" stroke="#555555" stroke-width="0.6"/>
<line x1="291.90" y1="383.30" x2="291.90" y2="384.50" stroke="#555555" stroke-width="0.6"/>
<line x1="293.71" y1="383.30" x2="293.71" y2="384.50" stroke="#555555" stroke-width="0.6"/>
<line x1="295.25" y1="383.30" x2="295.25" y2="384.50" stroke="#555555" stroke-width="0.6"/>
<line x1="296.58" y1="383.30" x2="296.58" y2="384.50" stroke="#555555" stroke-width="0.6"/>
<line x1="297.75" y1="383.30" x2="297.75" y2="384.50" stroke="#555555" stroke-width="0.6"/>
<line x1="298.80" y1="383.30" x2="298.80" y2="385.50" stroke="#555555" stroke-width="0.9"/>
<text x="294.90" y="394.30" font-size="7.8" text-anchor="start" class="xtl">10<tspan font-size="4.80" dy="-4.29">3</tspan></text>
<line x1="305.70" y1="383.30" x2="305.70" y2="384.50" stroke="#555555" stroke-width="0.6"/>
<line x1="309.74" y1="383.30" x2="309.74" y2="384.50" stroke="#555555" stroke-width="0.6"/>
<line x1="312.61" y1="383.30" x2="312.61" y2="384.50" stroke="#555555" stroke-width="0.6"/>
<line x1="314.83" y1="383.30" x2="314.83" y2="384.50" stroke="#555555" stroke-width="0.6"/>
<line x1="316.65" y1="383.30" x2="316.65" y2="384.50" stroke="#555555" stroke-width="0.6"/>
<line x1="318.18" y1="383.30" x2="318.18" y2="384.50" stroke="#555555" stroke-width="0.6"/>
<line x1="319.51" y1="383.30" x2="319.51" y2="384.50" stroke="#555555" stroke-width="0.6"/>
<line x1="320.68" y1="383.30" x2="320.68" y2="384.50" stroke="#555555" stroke-width="0.6"/>
<line x1="321.73" y1="383.30" x2="321.73" y2="385.50" stroke="#555555" stroke-width="0.9"/>
<text x="317.83" y="394.30" font-size="7.8" text-anchor="start" class="xtl">10<tspan font-size="4.80" dy="-4.29">4</tspan></text>
<line x1="328.64" y1="383.30" x2="328.64" y2="384.50" stroke="#555555" stroke-width="0.6"/>
<line x1="332.68" y1="383.30" x2="332.68" y2="384.50" stroke="#555555" stroke-width="0.6"/>
<line x1="335.54" y1="383.30" x2="335.54" y2="384.50" stroke="#555555" stroke-width="0.6"/>
<line x1="337.76" y1="383.30" x2="337.76" y2="384.50" stroke="#555555" stroke-width="0.6"/>
<line x1="339.58" y1="383.30" x2="339.58" y2="384.50" stroke="#555555" stroke-width="0.6"/>
<line x1="341.11" y1="383.30" x2="341.11" y2="384.50" stroke="#555555" stroke-width="0.6"/>
<line x1="342.44" y1="383.30" x2="342.44" y2="384.50" stroke="#555555" stroke-width="0.6"/>
<line x1="343.62" y1="383.30" x2="343.62" y2="384.50" stroke="#555555" stroke-width="0.6"/>
<line x1="344.67" y1="383.30" x2="344.67" y2="385.50" stroke="#555555" stroke-width="0.9"/>
<text x="340.77" y="394.30" font-size="7.8" text-anchor="start" class="xtl">10<tspan font-size="4.80" dy="-4.29">5</tspan></text>
<line x1="351.57" y1="383.30" x2="351.57" y2="384.50" stroke="#555555" stroke-width="0.6"/>
<line x1="355.61" y1="383.30" x2="355.61" y2="384.50" stroke="#555555" stroke-width="0.6"/>
<line x1="358.47" y1="383.30" x2="358.47" y2="384.50" stroke="#555555" stroke-width="0.6"/>
<line x1="360.70" y1="383.30" x2="360.70" y2="384.50" stroke="#555555" stroke-width="0.6"/>
<line x1="362.51" y1="383.30" x2="362.51" y2="384.50" stroke="#555555" stroke-width="0.6"/>
<line x1="364.05" y1="383.30" x2="364.05" y2="384.50" stroke="#555555" stroke-width="0.6"/>
<line x1="365.38" y1="383.30" x2="365.38" y2="384.50" stroke="#555555" stroke-width="0.6"/>
<line x1="366.55" y1="383.30" x2="366.55" y2="384.50" stroke="#555555" stroke-width="0.6"/>
<line x1="367.60" y1="383.30" x2="367.60" y2="385.50" stroke="#555555" stroke-width="0.9"/>
<text x="363.70" y="394.30" font-size="7.8" text-anchor="start" class="xtl">10<tspan font-size="4.80" dy="-4.29">6</tspan></text>
<text x="206.80" y="335.45" font-size="8.1" text-anchor="middle" transform="rotate(-90 206.80 335.45)" class="yt">AC<tspan dx="5.67">conductivity (S/m)</tspan></text>
<text x="299.20" y="405.30" font-size="8.1" text-anchor="middle" class="xt">Frequency (Hz)</text>
<text x="201.80" y="284.10" font-size="17" text-anchor="middle" class="pl">(f)</text>
<text x="364.40" y="289.10" font-size="6.2" text-anchor="end" class="at">@ 9 wt%</text>
<rect x="228.78" y="372.99" width="2.45" height="2.45" fill="#000000"/><rect x="232.05" y="371.54" width="2.45" height="2.45" fill="#000000"/><rect x="235.33" y="370.11" width="2.45" height="2.45" fill="#000000"/><rect x="238.60" y="368.70" width="2.45" height="2.45" fill="#000000"/><rect x="241.88" y="367.30" width="2.45" height="2.45" fill="#000000"/><rect x="245.16" y="365.92" width="2.45" height="2.45" fill="#000000"/><rect x="248.43" y="364.56" width="2.45" height="2.45" fill="#000000"/><rect x="251.71" y="363.22" width="2.45" height="2.45" fill="#000000"/><rect x="254.98" y="361.90" width="2.45" height="2.45" fill="#000000"/><rect x="258.26" y="360.59" width="2.45" height="2.45" fill="#000000"/><rect x="261.54" y="359.31" width="2.45" height="2.45" fill="#000000"/><rect x="264.81" y="358.05" width="2.45" height="2.45" fill="#000000"/><rect x="268.09" y="356.82" width="2.45" height="2.45" fill="#000000"/><rect x="271.37" y="355.60" width="2.45" height="2.45" fill="#000000"/><rect x="274.64" y="354.42" width="2.45" height="2.45" fill="#000000"/><rect x="277.92" y="353.25" width="2.45" height="2.45" fill="#000000"/><rect x="281.19" y="352.13" width="2.45" height="2.45" fill="#000000"/><rect x="284.47" y="351.05" width="2.45" height="2.45" fill="#000000"/><rect x="287.75" y="350.03" width="2.45" height="2.45" fill="#000000"/><rect x="291.02" y="349.05" width="2.45" height="2.45" fill="#000000"/><rect x="294.30" y="348.10" width="2.45" height="2.45" fill="#000000"/><rect x="297.57" y="347.18" width="2.45" height="2.45" fill="#000000"/><rect x="300.85" y="346.27" width="2.45" height="2.45" fill="#000000"/><rect x="304.13" y="345.37" width="2.45" height="2.45" fill="#000000"/><rect x="307.40" y="344.47" width="2.45" height="2.45" fill="#000000"/><rect x="310.68" y="343.57" width="2.45" height="2.45" fill="#000000"/><rect x="313.96" y="342.65" width="2.45" height="2.45" fill="#000000"/><rect x="317.23" y="341.70" width="2.45" height="2.45" fill="#000000"/><rect x="320.51" y="340.73" width="2.45" height="2.45" fill="#000000"/><rect x="323.78" y="339.71" width="2.45" height="2.45" fill="#000000"/><rect x="327.06" y="338.65" width="2.45" height="2.45" fill="#000000"/><rect x="330.34" y="337.53" width="2.45" height="2.45" fill="#000000"/><rect x="333.61" y="336.35" width="2.45" height="2.45" fill="#000000"/><rect x="336.89" y="335.10" width="2.45" height="2.45" fill="#000000"/><rect x="340.17" y="333.75" width="2.45" height="2.45" fill="#000000"/><rect x="343.44" y="332.28" width="2.45" height="2.45" fill="#000000"/><rect x="346.72" y="330.71" width="2.45" height="2.45" fill="#000000"/><rect x="349.99" y="329.05" width="2.45" height="2.45" fill="#000000"/><rect x="353.27" y="327.31" width="2.45" height="2.45" fill="#000000"/><rect x="356.55" y="325.51" width="2.45" height="2.45" fill="#000000"/><rect x="359.82" y="323.65" width="2.45" height="2.45" fill="#000000"/><rect x="363.10" y="321.75" width="2.45" height="2.45" fill="#000000"/><rect x="366.38" y="319.83" width="2.45" height="2.45" fill="#000000"/>
<path d="M230.00 370.14L231.53 367.38L228.47 367.38Z" fill="#ff00ff"/><path d="M233.28 368.87L234.81 366.11L231.74 366.11Z" fill="#ff00ff"/><path d="M236.55 367.60L238.08 364.85L235.02 364.85Z" fill="#ff00ff"/><path d="M239.83 366.35L241.36 363.59L238.30 363.59Z" fill="#ff00ff"/><path d="M243.10 365.11L244.64 362.35L241.57 362.35Z" fill="#ff00ff"/><path d="M246.38 363.88L247.91 361.12L244.85 361.12Z" fill="#ff00ff"/><path d="M249.66 362.66L251.19 359.91L248.13 359.91Z" fill="#ff00ff"/><path d="M252.93 361.46L254.46 358.70L251.40 358.70Z" fill="#ff00ff"/><path d="M256.21 360.27L257.74 357.51L254.68 357.51Z" fill="#ff00ff"/><path d="M259.49 359.09L261.02 356.33L257.95 356.33Z" fill="#ff00ff"/><path d="M262.76 357.93L264.29 355.17L261.23 355.17Z" fill="#ff00ff"/><path d="M266.04 356.78L267.57 354.02L264.51 354.02Z" fill="#ff00ff"/><path d="M269.31 355.65L270.85 352.89L267.78 352.89Z" fill="#ff00ff"/><path d="M272.59 354.53L274.12 351.77L271.06 351.77Z" fill="#ff00ff"/><path d="M275.87 353.43L277.40 350.67L274.34 350.67Z" fill="#ff00ff"/><path d="M279.14 352.34L280.67 349.59L277.61 349.59Z" fill="#ff00ff"/><path d="M282.42 351.28L283.95 348.53L280.89 348.53Z" fill="#ff00ff"/><path d="M285.70 350.27L287.23 347.51L284.16 347.51Z" fill="#ff00ff"/><path d="M288.97 349.29L290.50 346.53L287.44 346.53Z" fill="#ff00ff"/><path d="M292.25 348.34L293.78 345.58L290.72 345.58Z" fill="#ff00ff"/><path d="M295.52 347.42L297.06 344.66L293.99 344.66Z" fill="#ff00ff"/><path d="M298.80 346.51L300.33 343.76L297.27 343.76Z" fill="#ff00ff"/><path d="M302.08 345.62L303.61 342.86L300.54 342.86Z" fill="#ff00ff"/><path d="M305.35 344.73L306.88 341.98L303.82 341.98Z" fill="#ff00ff"/><path d="M308.63 343.84L310.16 341.09L307.10 341.09Z" fill="#ff00ff"/><path d="M311.90 342.95L313.44 340.19L310.37 340.19Z" fill="#ff00ff"/><path d="M315.18 342.04L316.71 339.28L313.65 339.28Z" fill="#ff00ff"/><path d="M318.46 341.11L319.99 338.36L316.93 338.36Z" fill="#ff00ff"/><path d="M321.73 340.16L323.26 337.40L320.20 337.40Z" fill="#ff00ff"/><path d="M325.01 339.17L326.54 336.42L323.48 336.42Z" fill="#ff00ff"/><path d="M328.29 338.15L329.82 335.39L326.75 335.39Z" fill="#ff00ff"/><path d="M331.56 337.08L333.09 334.32L330.03 334.32Z" fill="#ff00ff"/><path d="M334.84 335.96L336.37 333.20L333.31 333.20Z" fill="#ff00ff"/><path d="M338.11 334.78L339.65 332.02L336.58 332.02Z" fill="#ff00ff"/><path d="M341.39 333.53L342.92 330.77L339.86 330.77Z" fill="#ff00ff"/><path d="M344.67 332.19L346.20 329.43L343.14 329.43Z" fill="#ff00ff"/><path d="M347.94 330.77L349.47 328.02L346.41 328.02Z" fill="#ff00ff"/><path d="M351.22 329.29L352.75 326.53L349.69 326.53Z" fill="#ff00ff"/><path d="M354.50 327.74L356.03 324.98L352.96 324.98Z" fill="#ff00ff"/><path d="M357.77 326.14L359.30 323.39L356.24 323.39Z" fill="#ff00ff"/><path d="M361.05 324.51L362.58 321.75L359.52 321.75Z" fill="#ff00ff"/><path d="M364.32 322.84L365.86 320.08L362.79 320.08Z" fill="#ff00ff"/><path d="M367.60 321.14L369.13 318.39L366.07 318.39Z" fill="#ff00ff"/>
<path d="M230.00 364.13L231.59 365.72L230.00 367.31L228.41 365.72Z" fill="#008000"/><path d="M233.28 362.95L234.87 364.55L233.28 366.14L231.68 364.55Z" fill="#008000"/><path d="M236.55 361.78L238.14 363.37L236.55 364.97L234.96 363.37Z" fill="#008000"/><path d="M239.83 360.61L241.42 362.20L239.83 363.79L238.24 362.20Z" fill="#008000"/><path d="M243.10 359.44L244.70 361.03L243.10 362.63L241.51 361.03Z" fill="#008000"/><path d="M246.38 358.28L247.97 359.87L246.38 361.46L244.79 359.87Z" fill="#008000"/><path d="M249.66 357.11L251.25 358.70L249.66 360.30L248.06 358.70Z" fill="#008000"/><path d="M252.93 355.95L254.53 357.54L252.93 359.14L251.34 357.54Z" fill="#008000"/><path d="M256.21 354.79L257.80 356.39L256.21 357.98L254.62 356.39Z" fill="#008000"/><path d="M259.49 353.64L261.08 355.23L259.49 356.82L257.89 355.23Z" fill="#008000"/><path d="M262.76 352.49L264.35 354.08L262.76 355.67L261.17 354.08Z" fill="#008000"/><path d="M266.04 351.34L267.63 352.93L266.04 354.52L264.45 352.93Z" fill="#008000"/><path d="M269.31 350.19L270.91 351.78L269.31 353.38L267.72 351.78Z" fill="#008000"/><path d="M272.59 349.05L274.18 350.64L272.59 352.23L271.00 350.64Z" fill="#008000"/><path d="M275.87 347.91L277.46 349.50L275.87 351.09L274.27 349.50Z" fill="#008000"/><path d="M279.14 346.77L280.74 348.36L279.14 349.95L277.55 348.36Z" fill="#008000"/><path d="M282.42 345.64L284.01 347.23L282.42 348.82L280.83 347.23Z" fill="#008000"/><path d="M285.70 344.52L287.29 346.11L285.70 347.70L284.10 346.11Z" fill="#008000"/><path d="M288.97 343.41L290.56 345.01L288.97 346.60L287.38 345.01Z" fill="#008000"/><path d="M292.25 342.32L293.84 343.91L292.25 345.50L290.66 343.91Z" fill="#008000"/><path d="M295.52 341.23L297.12 342.82L295.52 344.41L293.93 342.82Z" fill="#008000"/><path d="M298.80 340.14L300.39 341.74L298.80 343.33L297.21 341.74Z" fill="#008000"/><path d="M302.08 339.06L303.67 340.66L302.08 342.25L300.48 340.66Z" fill="#008000"/><path d="M305.35 337.98L306.94 339.57L305.35 341.17L303.76 339.57Z" fill="#008000"/><path d="M308.63 336.90L310.22 338.49L308.63 340.09L307.04 338.49Z" fill="#008000"/><path d="M311.90 335.81L313.50 337.41L311.90 339.00L310.31 337.41Z" fill="#008000"/><path d="M315.18 334.72L316.77 336.31L315.18 337.91L313.59 336.31Z" fill="#008000"/><path d="M318.46 333.62L320.05 335.21L318.46 336.81L316.86 335.21Z" fill="#008000"/><path d="M321.73 332.51L323.33 334.10L321.73 335.70L320.14 334.10Z" fill="#008000"/><path d="M325.01 331.39L326.60 332.98L325.01 334.57L323.42 332.98Z" fill="#008000"/><path d="M328.29 330.25L329.88 331.84L328.29 333.44L326.69 331.84Z" fill="#008000"/><path d="M331.56 329.10L333.15 330.69L331.56 332.28L329.97 330.69Z" fill="#008000"/><path d="M334.84 327.92L336.43 329.52L334.84 331.11L333.25 329.52Z" fill="#008000"/><path d="M338.11 326.73L339.71 328.32L338.11 329.91L336.52 328.32Z" fill="#008000"/><path d="M341.39 325.51L342.98 327.10L341.39 328.70L339.80 327.10Z" fill="#008000"/><path d="M344.67 324.27L346.26 325.86L344.67 327.45L343.07 325.86Z" fill="#008000"/><path d="M347.94 323.00L349.54 324.59L347.94 326.19L346.35 324.59Z" fill="#008000"/><path d="M351.22 321.71L352.81 323.31L351.22 324.90L349.63 323.31Z" fill="#008000"/><path d="M354.50 320.41L356.09 322.00L354.50 323.59L352.90 322.00Z" fill="#008000"/><path d="M357.77 319.09L359.36 320.68L357.77 322.27L356.18 320.68Z" fill="#008000"/><path d="M361.05 317.75L362.64 319.34L361.05 320.94L359.46 319.34Z" fill="#008000"/><path d="M364.32 316.40L365.92 318.00L364.32 319.59L362.73 318.00Z" fill="#008000"/><path d="M367.60 315.05L369.19 316.64L367.60 318.23L366.01 316.64Z" fill="#008000"/>
<path d="M230.00 361.05L231.53 363.81L228.47 363.81Z" fill="#0000ff"/><path d="M233.28 359.93L234.81 362.68L231.74 362.68Z" fill="#0000ff"/><path d="M236.55 358.81L238.08 361.57L235.02 361.57Z" fill="#0000ff"/><path d="M239.83 357.70L241.36 360.46L238.30 360.46Z" fill="#0000ff"/><path d="M243.10 356.60L244.64 359.36L241.57 359.36Z" fill="#0000ff"/><path d="M246.38 355.51L247.91 358.26L244.85 358.26Z" fill="#0000ff"/><path d="M249.66 354.42L251.19 357.17L248.13 357.17Z" fill="#0000ff"/><path d="M252.93 353.33L254.46 356.09L251.40 356.09Z" fill="#0000ff"/><path d="M256.21 352.26L257.74 355.02L254.68 355.02Z" fill="#0000ff"/><path d="M259.49 351.19L261.02 353.95L257.95 353.95Z" fill="#0000ff"/><path d="M262.76 350.13L264.29 352.89L261.23 352.89Z" fill="#0000ff"/><path d="M266.04 349.08L267.57 351.83L264.51 351.83Z" fill="#0000ff"/><path d="M269.31 348.03L270.85 350.79L267.78 350.79Z" fill="#0000ff"/><path d="M272.59 346.99L274.12 349.75L271.06 349.75Z" fill="#0000ff"/><path d="M275.87 345.96L277.40 348.72L274.34 348.72Z" fill="#0000ff"/><path d="M279.14 344.94L280.67 347.69L277.61 347.69Z" fill="#0000ff"/><path d="M282.42 343.93L283.95 346.69L280.89 346.69Z" fill="#0000ff"/><path d="M285.70 342.95L287.23 345.70L284.16 345.70Z" fill="#0000ff"/><path d="M288.97 341.99L290.50 344.74L287.44 344.74Z" fill="#0000ff"/><path d="M292.25 341.04L293.78 343.80L290.72 343.80Z" fill="#0000ff"/><path d="M295.52 340.12L297.06 342.87L293.99 342.87Z" fill="#0000ff"/><path d="M298.80 339.20L300.33 341.95L297.27 341.95Z" fill="#0000ff"/><path d="M302.08 338.29L303.61 341.04L300.54 341.04Z" fill="#0000ff"/><path d="M305.35 337.38L306.88 340.13L303.82 340.13Z" fill="#0000ff"/><path d="M308.63 336.47L310.16 339.23L307.10 339.23Z" fill="#0000ff"/><path d="M311.90 335.56L313.44 338.31L310.37 338.31Z" fill="#0000ff"/><path d="M315.18 334.63L316.71 337.39L313.65 337.39Z" fill="#0000ff"/><path d="M318.46 333.70L319.99 336.45L316.93 336.45Z" fill="#0000ff"/><path d="M321.73 332.75L323.26 335.50L320.20 335.50Z" fill="#0000ff"/><path d="M325.01 331.78L326.54 334.53L323.48 334.53Z" fill="#0000ff"/><path d="M328.29 330.78L329.82 333.54L326.75 333.54Z" fill="#0000ff"/><path d="M331.56 329.76L333.09 332.52L330.03 332.52Z" fill="#0000ff"/><path d="M334.84 328.71L336.37 331.47L333.31 331.47Z" fill="#0000ff"/><path d="M338.11 327.62L339.65 330.38L336.58 330.38Z" fill="#0000ff"/><path d="M341.39 326.49L342.92 329.25L339.86 329.25Z" fill="#0000ff"/><path d="M344.67 325.32L346.20 328.08L343.14 328.08Z" fill="#0000ff"/><path d="M347.94 324.11L349.47 326.86L346.41 326.86Z" fill="#0000ff"/><path d="M351.22 322.86L352.75 325.61L349.69 325.61Z" fill="#0000ff"/><path d="M354.50 321.57L356.03 324.33L352.96 324.33Z" fill="#0000ff"/><path d="M357.77 320.26L359.30 323.02L356.24 323.02Z" fill="#0000ff"/><path d="M361.05 318.93L362.58 321.69L359.52 321.69Z" fill="#0000ff"/><path d="M364.32 317.58L365.86 320.34L362.79 320.34Z" fill="#0000ff"/><path d="M367.60 316.21L369.13 318.97L366.07 318.97Z" fill="#0000ff"/>
<circle cx="230.00" cy="353.24" r="1.35" fill="#ff0000"/><circle cx="233.28" cy="352.83" r="1.35" fill="#ff0000"/><circle cx="236.55" cy="352.37" r="1.35" fill="#ff0000"/><circle cx="239.83" cy="351.88" r="1.35" fill="#ff0000"/><circle cx="243.10" cy="351.34" r="1.35" fill="#ff0000"/><circle cx="246.38" cy="350.76" r="1.35" fill="#ff0000"/><circle cx="249.66" cy="350.15" r="1.35" fill="#ff0000"/><circle cx="252.93" cy="349.51" r="1.35" fill="#ff0000"/><circle cx="256.21" cy="348.83" r="1.35" fill="#ff0000"/><circle cx="259.49" cy="348.13" r="1.35" fill="#ff0000"/><circle cx="262.76" cy="347.40" r="1.35" fill="#ff0000"/><circle cx="266.04" cy="346.65" r="1.35" fill="#ff0000"/><circle cx="269.31" cy="345.88" r="1.35" fill="#ff0000"/><circle cx="272.59" cy="345.09" r="1.35" fill="#ff0000"/><circle cx="275.87" cy="344.28" r="1.35" fill="#ff0000"/><circle cx="279.14" cy="343.46" r="1.35" fill="#ff0000"/><circle cx="282.42" cy="342.60" r="1.35" fill="#ff0000"/><circle cx="285.70" cy="341.66" r="1.35" fill="#ff0000"/><circle cx="288.97" cy="340.65" r="1.35" fill="#ff0000"/><circle cx="292.25" cy="339.58" r="1.35" fill="#ff0000"/><circle cx="295.52" cy="338.48" r="1.35" fill="#ff0000"/><circle cx="298.80" cy="337.34" r="1.35" fill="#ff0000"/><circle cx="302.08" cy="336.20" r="1.35" fill="#ff0000"/><circle cx="305.35" cy="335.06" r="1.35" fill="#ff0000"/><circle cx="308.63" cy="333.89" r="1.35" fill="#ff0000"/><circle cx="311.90" cy="332.70" r="1.35" fill="#ff0000"/><circle cx="315.18" cy="331.49" r="1.35" fill="#ff0000"/><circle cx="318.46" cy="330.25" r="1.35" fill="#ff0000"/><circle cx="321.73" cy="329.00" r="1.35" fill="#ff0000"/><circle cx="325.01" cy="327.72" r="1.35" fill="#ff0000"/><circle cx="328.29" cy="326.42" r="1.35" fill="#ff0000"/><circle cx="331.56" cy="325.10" r="1.35" fill="#ff0000"/><circle cx="334.84" cy="323.76" r="1.35" fill="#ff0000"/><circle cx="338.11" cy="322.41" r="1.35" fill="#ff0000"/><circle cx="341.39" cy="321.03" r="1.35" fill="#ff0000"/><circle cx="344.67" cy="319.62" r="1.35" fill="#ff0000"/><circle cx="347.94" cy="318.19" r="1.35" fill="#ff0000"/><circle cx="351.22" cy="316.73" r="1.35" fill="#ff0000"/><circle cx="354.50" cy="315.25" r="1.35" fill="#ff0000"/><circle cx="357.77" cy="313.74" r="1.35" fill="#ff0000"/><circle cx="361.05" cy="312.21" r="1.35" fill="#ff0000"/><circle cx="364.32" cy="310.66" r="1.35" fill="#ff0000"/><circle cx="367.60" cy="309.08" r="1.35" fill="#ff0000"/>
<rect x="236.40" y="287.30" width="2.40" height="2.40" fill="#000000"/>
<text x="246.40" y="290.20" font-size="6.3" text-anchor="start" class="lg">PEI</text>
<circle cx="237.60" cy="296.70" r="1.32" fill="#ff0000"/>
<text x="246.40" y="298.40" font-size="6.3" text-anchor="start" class="lg">Fe<tspan font-size="4.00" dy="1.76">3</tspan><tspan dy="-1.76">O</tspan><tspan font-size="4.00" dy="1.76">4</tspan><tspan dy="-1.76">/PEI</tspan></text>
<path d="M237.60 305.20L239.10 307.90L236.10 307.90Z" fill="#0000ff"/>
<text x="246.40" y="308.40" font-size="6.3" text-anchor="start" class="lg">Fe<tspan font-size="4.00" dy="1.76">3</tspan><tspan dy="-1.76">O</tspan><tspan font-size="4.00" dy="1.76">4</tspan><tspan dy="-1.76">@BaTiO</tspan><tspan font-size="4.00" dy="1.76">3</tspan><tspan dy="-1.76">/PEI</tspan></text>
<path d="M237.60 317.50L239.10 314.80L236.10 314.80Z" fill="#ff00ff"/>
<text x="246.40" y="317.70" font-size="6.3" text-anchor="start" class="lg">Fe<tspan font-size="4.00" dy="1.76">3</tspan><tspan dy="-1.76">O</tspan><tspan font-size="4.00" dy="1.76">4</tspan><tspan dy="-1.76">@SiO</tspan><tspan font-size="4.00" dy="1.76">2</tspan><tspan dy="-1.76">/PEI</tspan></text>
<path d="M237.60 323.54L239.16 325.10L237.60 326.66L236.04 325.10Z" fill="#008000"/>
<text x="246.40" y="326.80" font-size="6.3" text-anchor="start" class="lg">Fe<tspan font-size="4.00" dy="1.76">3</tspan><tspan dy="-1.76">O</tspan><tspan font-size="4.00" dy="1.76">4</tspan><tspan dy="-1.76">@BaTiO</tspan><tspan font-size="4.00" dy="1.76">3</tspan><tspan dy="-1.76">@SiO</tspan><tspan font-size="4.00" dy="1.76">2</tspan><tspan dy="-1.76">/PEI</tspan></text>
<defs>
<linearGradient id="gg" x1="0" y1="0" x2="0" y2="1"><stop offset="0" stop-color="#1f8c73"/><stop offset="1" stop-color="#48d9b4"/></linearGradient>
<linearGradient id="go" x1="0" y1="0" x2="0" y2="1"><stop offset="0" stop-color="#f4791c"/><stop offset="1" stop-color="#ffb46a"/></linearGradient>
<linearGradient id="lg" x1="0" y1="0" x2="0" y2="1"><stop offset="0" stop-color="#2aa888"/><stop offset="1" stop-color="#3fcfa8"/></linearGradient>
<linearGradient id="lo" x1="0" y1="0" x2="0" y2="1"><stop offset="0" stop-color="#f7862c"/><stop offset="1" stop-color="#fda050"/></linearGradient>
</defs>
<line x1="407.10" y1="105.50" x2="409.30" y2="105.50" stroke="#555555" stroke-width="0.9"/>
<text x="407.40" y="108.20" font-size="7.8" text-anchor="end" class="ytl">0</text>
<line x1="407.10" y1="91.29" x2="409.30" y2="91.29" stroke="#555555" stroke-width="0.9"/>
<text x="407.40" y="93.99" font-size="7.8" text-anchor="end" class="ytl">10</text>
<line x1="407.10" y1="77.07" x2="409.30" y2="77.07" stroke="#555555" stroke-width="0.9"/>
<text x="407.40" y="79.77" font-size="7.8" text-anchor="end" class="ytl">20</text>
<line x1="407.10" y1="62.86" x2="409.30" y2="62.86" stroke="#555555" stroke-width="0.9"/>
<text x="407.40" y="65.56" font-size="7.8" text-anchor="end" class="ytl">30</text>
<line x1="407.10" y1="48.64" x2="409.30" y2="48.64" stroke="#555555" stroke-width="0.9"/>
<text x="407.40" y="51.34" font-size="7.8" text-anchor="end" class="ytl">40</text>
<line x1="407.10" y1="34.43" x2="409.30" y2="34.43" stroke="#555555" stroke-width="0.9"/>
<text x="407.40" y="37.13" font-size="7.8" text-anchor="end" class="ytl">50</text>
<line x1="407.10" y1="20.21" x2="409.30" y2="20.21" stroke="#555555" stroke-width="0.9"/>
<text x="407.40" y="22.91" font-size="7.8" text-anchor="end" class="ytl">60</text>
<line x1="407.10" y1="6.00" x2="409.30" y2="6.00" stroke="#555555" stroke-width="0.9"/>
<text x="407.40" y="8.70" font-size="7.8" text-anchor="end" class="ytl">70</text>
<line x1="408.10" y1="98.39" x2="409.30" y2="98.39" stroke="#555555" stroke-width="0.6"/>
<line x1="408.10" y1="84.18" x2="409.30" y2="84.18" stroke="#555555" stroke-width="0.6"/>
<line x1="408.10" y1="69.96" x2="409.30" y2="69.96" stroke="#555555" stroke-width="0.6"/>
<line x1="408.10" y1="55.75" x2="409.30" y2="55.75" stroke="#555555" stroke-width="0.6"/>
<line x1="408.10" y1="41.54" x2="409.30" y2="41.54" stroke="#555555" stroke-width="0.6"/>
<line x1="408.10" y1="27.32" x2="409.30" y2="27.32" stroke="#555555" stroke-width="0.6"/>
<line x1="408.10" y1="13.11" x2="409.30" y2="13.11" stroke="#555555" stroke-width="0.6"/>
<rect x="419.60" y="101.38" width="6.60" height="4.12" fill="url(#gg)"/>
<rect x="426.20" y="101.38" width="6.60" height="4.12" fill="url(#go)"/>
<rect x="436.43" y="97.68" width="6.60" height="7.82" fill="url(#gg)"/>
<rect x="443.03" y="97.11" width="6.60" height="8.39" fill="url(#go)"/>
<rect x="453.26" y="94.98" width="6.60" height="10.52" fill="url(#gg)"/>
<rect x="459.86" y="94.13" width="6.60" height="11.37" fill="url(#go)"/>
<rect x="470.09" y="84.46" width="6.60" height="21.04" fill="url(#gg)"/>
<rect x="476.69" y="90.29" width="6.60" height="15.21" fill="url(#go)"/>
<rect x="486.92" y="56.03" width="6.60" height="49.47" fill="url(#gg)"/>
<rect x="493.52" y="87.73" width="6.60" height="17.77" fill="url(#go)"/>
<rect x="503.75" y="34.29" width="6.60" height="71.21" fill="url(#gg)"/>
<rect x="510.35" y="82.33" width="6.60" height="23.17" fill="url(#go)"/>
<rect x="520.58" y="12.54" width="6.60" height="92.96" fill="url(#gg)"/>
<rect x="527.18" y="77.07" width="6.60" height="28.43" fill="url(#go)"/>
<rect x="409.30" y="6.00" width="134.40" height="99.50" fill="none" stroke="#555555" stroke-width="1.1"/>
<text x="422.55" y="119.15" font-size="7.6" text-anchor="middle" transform="rotate(-45 422.55 119.15)" class="bl">0 wt%</text>
<text x="441.05" y="119.20" font-size="7.6" text-anchor="middle" transform="rotate(-45 441.05 119.20)" class="bl">3 wt%</text>
<text x="458.80" y="118.90" font-size="7.6" text-anchor="middle" transform="rotate(-45 458.80 118.90)" class="bl">6 wt%</text>
<text x="475.45" y="119.20" font-size="7.6" text-anchor="middle" transform="rotate(-45 475.45 119.20)" class="bl">9 wt%</text>
<text x="492.75" y="119.55" font-size="7.6" text-anchor="middle" transform="rotate(-45 492.75 119.55)" class="bl">10.5 wt%</text>
<text x="508.75" y="119.65" font-size="7.6" text-anchor="middle" transform="rotate(-45 508.75 119.65)" class="bl">12 wt%</text>
<text x="523.75" y="118.95" font-size="7.6" text-anchor="middle" transform="rotate(-45 523.75 118.95)" class="bl">15 wt%</text>
<text x="395.90" y="59.35" font-size="7.9" text-anchor="middle" transform="rotate(-90 395.90 59.35)" class="yt">Dielectric Constant</text>
<text x="388.40" y="17.05" font-size="17" text-anchor="middle" class="pl">(g)</text>
<rect x="421.30" y="10.00" width="13" height="6" fill="url(#lg)"/>
<rect x="421.30" y="19.30" width="13" height="6" fill="url(#lo)"/>
<text x="437.60" y="14.70" font-size="6.0" text-anchor="start" class="bg">Fe<tspan font-size="3.80" dy="1.68">3</tspan><tspan dy="-1.68">O</tspan><tspan font-size="3.80" dy="1.68">4</tspan><tspan dy="-1.68">/PEI</tspan></text>
<text x="437.60" y="24.00" font-size="6.0" text-anchor="start" class="bg">Fe<tspan font-size="3.80" dy="1.68">3</tspan><tspan dy="-1.68">O</tspan><tspan font-size="3.80" dy="1.68">4</tspan><tspan dy="-1.68">@BaTiO</tspan><tspan font-size="3.80" dy="1.68">3</tspan><tspan dy="-1.68">@SiO</tspan><tspan font-size="3.80" dy="1.68">2</tspan><tspan dy="-1.68">/PEI</tspan></text>
<line x1="407.80" y1="248.30" x2="410.00" y2="248.30" stroke="#555555" stroke-width="0.9"/>
<text x="407.60" y="251.00" font-size="7.6" text-anchor="end" class="ytl">0.0</text>
<line x1="407.80" y1="238.29" x2="410.00" y2="238.29" stroke="#555555" stroke-width="0.9"/>
<text x="407.60" y="240.99" font-size="7.6" text-anchor="end" class="ytl">0.1</text>
<line x1="407.80" y1="228.28" x2="410.00" y2="228.28" stroke="#555555" stroke-width="0.9"/>
<text x="407.60" y="230.98" font-size="7.6" text-anchor="end" class="ytl">0.2</text>
<line x1="407.80" y1="218.27" x2="410.00" y2="218.27" stroke="#555555" stroke-width="0.9"/>
<text x="407.60" y="220.97" font-size="7.6" text-anchor="end" class="ytl">0.3</text>
<line x1="407.80" y1="208.26" x2="410.00" y2="208.26" stroke="#555555" stroke-width="0.9"/>
<text x="407.60" y="210.96" font-size="7.6" text-anchor="end" class="ytl">0.4</text>
<line x1="407.80" y1="198.25" x2="410.00" y2="198.25" stroke="#555555" stroke-width="0.9"/>
<text x="407.60" y="200.95" font-size="7.6" text-anchor="end" class="ytl">0.5</text>
<line x1="407.80" y1="188.24" x2="410.00" y2="188.24" stroke="#555555" stroke-width="0.9"/>
<text x="407.60" y="190.94" font-size="7.6" text-anchor="end" class="ytl">0.6</text>
<line x1="407.80" y1="178.23" x2="410.00" y2="178.23" stroke="#555555" stroke-width="0.9"/>
<text x="407.60" y="180.93" font-size="7.6" text-anchor="end" class="ytl">0.7</text>
<line x1="407.80" y1="168.22" x2="410.00" y2="168.22" stroke="#555555" stroke-width="0.9"/>
<text x="407.60" y="170.92" font-size="7.6" text-anchor="end" class="ytl">0.8</text>
<line x1="407.80" y1="158.21" x2="410.00" y2="158.21" stroke="#555555" stroke-width="0.9"/>
<text x="407.60" y="160.91" font-size="7.6" text-anchor="end" class="ytl">0.9</text>
<line x1="407.80" y1="148.20" x2="410.00" y2="148.20" stroke="#555555" stroke-width="0.9"/>
<text x="407.60" y="150.90" font-size="7.6" text-anchor="end" class="ytl">1.0</text>
<line x1="408.80" y1="243.30" x2="410.00" y2="243.30" stroke="#555555" stroke-width="0.6"/>
<line x1="408.80" y1="233.28" x2="410.00" y2="233.28" stroke="#555555" stroke-width="0.6"/>
<line x1="408.80" y1="223.28" x2="410.00" y2="223.28" stroke="#555555" stroke-width="0.6"/>
<line x1="408.80" y1="213.27" x2="410.00" y2="213.27" stroke="#555555" stroke-width="0.6"/>
<line x1="408.80" y1="203.25" x2="410.00" y2="203.25" stroke="#555555" stroke-width="0.6"/>
<line x1="408.80" y1="193.25" x2="410.00" y2="193.25" stroke="#555555" stroke-width="0.6"/>
<line x1="408.80" y1="183.24" x2="410.00" y2="183.24" stroke="#555555" stroke-width="0.6"/>
<line x1="408.80" y1="173.22" x2="410.00" y2="173.22" stroke="#555555" stroke-width="0.6"/>
<line x1="408.80" y1="163.21" x2="410.00" y2="163.21" stroke="#555555" stroke-width="0.6"/>
<line x1="408.80" y1="153.20" x2="410.00" y2="153.20" stroke="#555555" stroke-width="0.6"/>
<rect x="411.80" y="248.00" width="7.70" height="0.30" fill="url(#gg)"/>
<rect x="419.50" y="248.10" width="7.70" height="0.20" fill="url(#go)"/>
<rect x="431.08" y="243.80" width="7.70" height="4.50" fill="url(#gg)"/>
<rect x="438.78" y="247.70" width="7.70" height="0.60" fill="url(#go)"/>
<rect x="450.36" y="240.29" width="7.70" height="8.01" fill="url(#gg)"/>
<rect x="458.06" y="247.10" width="7.70" height="1.20" fill="url(#go)"/>
<rect x="469.64" y="236.59" width="7.70" height="11.71" fill="url(#gg)"/>
<rect x="477.34" y="246.80" width="7.70" height="1.50" fill="url(#go)"/>
<rect x="488.92" y="228.48" width="7.70" height="19.82" fill="url(#gg)"/>
<rect x="496.62" y="246.10" width="7.70" height="2.20" fill="url(#go)"/>
<rect x="508.20" y="202.75" width="7.70" height="45.55" fill="url(#gg)"/>
<rect x="515.90" y="244.80" width="7.70" height="3.50" fill="url(#go)"/>
<rect x="527.48" y="167.22" width="7.70" height="81.08" fill="url(#gg)"/>
<rect x="535.18" y="244.10" width="7.70" height="4.20" fill="url(#go)"/>
<rect x="410.00" y="148.20" width="133.80" height="100.10" fill="none" stroke="#555555" stroke-width="1.1"/>
<text x="421.35" y="262.25" font-size="7.6" text-anchor="middle" transform="rotate(-45 421.35 262.25)" class="bl">0 wt%</text>
<text x="437.95" y="262.25" font-size="7.6" text-anchor="middle" transform="rotate(-45 437.95 262.25)" class="bl">3 wt%</text>
<text x="457.30" y="262.00" font-size="7.6" text-anchor="middle" transform="rotate(-45 457.30 262.00)" class="bl">6 wt%</text>
<text x="475.50" y="261.85" font-size="7.6" text-anchor="middle" transform="rotate(-45 475.50 261.85)" class="bl">9 wt%</text>
<text x="494.75" y="261.05" font-size="7.6" text-anchor="middle" transform="rotate(-45 494.75 261.05)" class="bl">10.5 wt%</text>
<text x="514.80" y="261.00" font-size="7.6" text-anchor="middle" transform="rotate(-45 514.80 261.00)" class="bl">12 wt%</text>
<text x="533.20" y="261.00" font-size="7.6" text-anchor="middle" transform="rotate(-45 533.20 261.00)" class="bl">15 wt%</text>
<text x="394.60" y="201.10" font-size="7.9" text-anchor="middle" transform="rotate(-90 394.60 201.10)" class="yt">Dielectric Loss</text>
<text x="386.50" y="154.20" font-size="17" text-anchor="middle" class="pl">(h)</text>
<rect x="420.50" y="152.40" width="13" height="6" fill="url(#lg)"/>
<rect x="420.50" y="161.60" width="13" height="6" fill="url(#lo)"/>
<text x="437.00" y="157.10" font-size="6.0" text-anchor="start" class="bg">Fe<tspan font-size="3.80" dy="1.68">3</tspan><tspan dy="-1.68">O</tspan><tspan font-size="3.80" dy="1.68">4</tspan><tspan dy="-1.68">/PEI</tspan></text>
<text x="437.00" y="166.30" font-size="6.0" text-anchor="start" class="bg">Fe<tspan font-size="3.80" dy="1.68">3</tspan><tspan dy="-1.68">O</tspan><tspan font-size="3.80" dy="1.68">4</tspan><tspan dy="-1.68">@BaTiO</tspan><tspan font-size="3.80" dy="1.68">3</tspan><tspan dy="-1.68">@SiO</tspan><tspan font-size="3.80" dy="1.68">2</tspan><tspan dy="-1.68">/PEI</tspan></text>
<line x1="410.40" y1="284.40" x2="412.60" y2="284.40" stroke="#555555" stroke-width="0.9"/>
<text x="410.30" y="287.70" font-size="7.8" text-anchor="end" class="ytg">10<tspan font-size="4.80" dy="-4.29">-4</tspan></text>
<line x1="410.40" y1="300.48" x2="412.60" y2="300.48" stroke="#555555" stroke-width="0.9"/>
<text x="410.30" y="303.78" font-size="7.8" text-anchor="end" class="ytg">10<tspan font-size="4.80" dy="-4.29">-5</tspan></text>
<line x1="410.40" y1="316.57" x2="412.60" y2="316.57" stroke="#555555" stroke-width="0.9"/>
<text x="410.30" y="319.87" font-size="7.8" text-anchor="end" class="ytg">10<tspan font-size="4.80" dy="-4.29">-6</tspan></text>
<line x1="410.40" y1="332.65" x2="412.60" y2="332.65" stroke="#555555" stroke-width="0.9"/>
<text x="410.30" y="335.95" font-size="7.8" text-anchor="end" class="ytg">10<tspan font-size="4.80" dy="-4.29">-7</tspan></text>
<line x1="410.40" y1="348.73" x2="412.60" y2="348.73" stroke="#555555" stroke-width="0.9"/>
<text x="410.30" y="352.03" font-size="7.8" text-anchor="end" class="ytg">10<tspan font-size="4.80" dy="-4.29">-8</tspan></text>
<line x1="410.40" y1="364.82" x2="412.60" y2="364.82" stroke="#555555" stroke-width="0.9"/>
<text x="410.30" y="368.12" font-size="7.8" text-anchor="end" class="ytg">10<tspan font-size="4.80" dy="-4.29">-9</tspan></text>
<line x1="410.40" y1="380.90" x2="412.60" y2="380.90" stroke="#555555" stroke-width="0.9"/>
<text x="410.30" y="384.20" font-size="7.8" text-anchor="end" class="ytg">10<tspan font-size="4.80" dy="-4.29">-10</tspan></text>
<rect x="422.10" y="365.10" width="6.60" height="15.80" fill="url(#gg)"/>
<rect x="428.70" y="365.10" width="6.60" height="15.80" fill="url(#go)"/>
<rect x="438.80" y="356.70" width="6.60" height="24.20" fill="url(#gg)"/>
<rect x="445.40" y="361.20" width="6.60" height="19.70" fill="url(#go)"/>
<rect x="455.50" y="352.00" width="6.60" height="28.90" fill="url(#gg)"/>
<rect x="462.10" y="356.70" width="6.60" height="24.20" fill="url(#go)"/>
<rect x="472.20" y="347.20" width="6.60" height="33.70" fill="url(#gg)"/>
<rect x="478.80" y="353.80" width="6.60" height="27.10" fill="url(#go)"/>
<rect x="488.90" y="333.50" width="6.60" height="47.40" fill="url(#gg)"/>
<rect x="495.50" y="344.80" width="6.60" height="36.10" fill="url(#go)"/>
<rect x="505.60" y="315.00" width="6.60" height="65.90" fill="url(#gg)"/>
<rect x="512.20" y="338.00" width="6.60" height="42.90" fill="url(#go)"/>
<rect x="522.30" y="300.00" width="6.60" height="80.90" fill="url(#gg)"/>
<rect x="528.90" y="330.30" width="6.60" height="50.60" fill="url(#go)"/>
<rect x="412.60" y="284.40" width="131.90" height="96.50" fill="none" stroke="#555555" stroke-width="1.1"/>
<text x="425.25" y="397.20" font-size="7.6" text-anchor="middle" transform="rotate(-45 425.25 397.20)" class="bl">0 wt%</text>
<text x="441.90" y="396.60" font-size="7.6" text-anchor="middle" transform="rotate(-45 441.90 396.60)" class="bl">3 wt%</text>
<text x="460.70" y="396.35" font-size="7.6" text-anchor="middle" transform="rotate(-45 460.70 396.35)" class="bl">6 wt%</text>
<text x="478.65" y="397.30" font-size="7.6" text-anchor="middle" transform="rotate(-45 478.65 397.30)" class="bl">9 wt%</text>
<text x="495.00" y="396.30" font-size="7.6" text-anchor="middle" transform="rotate(-45 495.00 396.30)" class="bl">10.5 wt%</text>
<text x="513.55" y="395.70" font-size="7.6" text-anchor="middle" transform="rotate(-45 513.55 395.70)" class="bl">12 wt%</text>
<text x="531.55" y="395.70" font-size="7.6" text-anchor="middle" transform="rotate(-45 531.55 395.70)" class="bl">15 wt%</text>
<text x="395.05" y="333.75" font-size="7.9" text-anchor="middle" transform="rotate(-90 395.05 333.75)" class="yt">AC<tspan dx="5.53">conductivity (S/m)</tspan></text>
<text x="386.05" y="284.20" font-size="17" text-anchor="middle" class="pl">(i)</text>
<rect x="422.90" y="288.10" width="13" height="6" fill="url(#lg)"/>
<rect x="422.90" y="297.60" width="13" height="6" fill="url(#lo)"/>
<text x="439.40" y="292.80" font-size="6.0" text-anchor="start" class="bg">Fe<tspan font-size="3.80" dy="1.68">3</tspan><tspan dy="-1.68">O</tspan><tspan font-size="3.80" dy="1.68">4</tspan><tspan dy="-1.68">/PEI</tspan></text>
<text x="439.40" y="302.30" font-size="6.0" text-anchor="start" class="bg">Fe<tspan font-size="3.80" dy="1.68">3</tspan><tspan dy="-1.68">O</tspan><tspan font-size="3.80" dy="1.68">4</tspan><tspan dy="-1.68">@BaTiO</tspan><tspan font-size="3.80" dy="1.68">3</tspan><tspan dy="-1.68">@SiO</tspan><tspan font-size="3.80" dy="1.68">2</tspan><tspan dy="-1.68">/PEI</tspan></text></svg></body></html>
